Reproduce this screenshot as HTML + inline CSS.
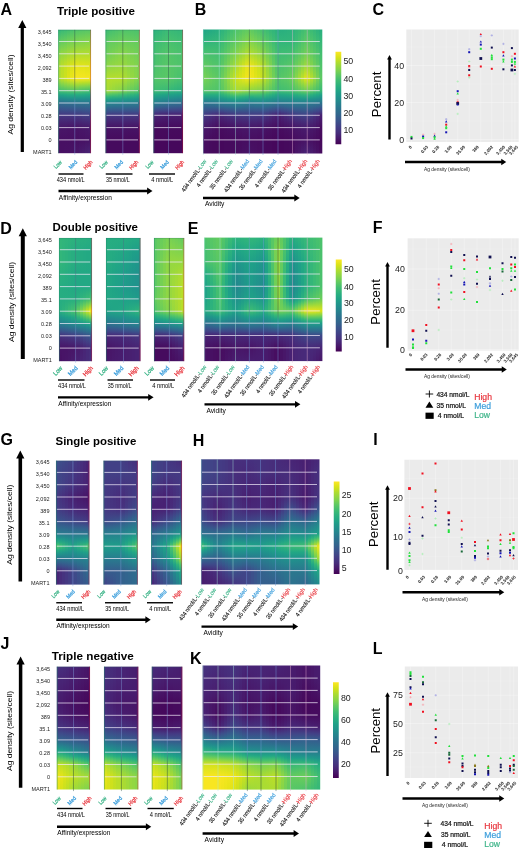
<!DOCTYPE html><html><head><meta charset="utf-8"><title>Figure</title><style>html,body{margin:0;padding:0;background:#fff}body{width:520px;height:850px;overflow:hidden}svg{display:block}</style></head><body><svg width="520" height="850" viewBox="0 0 520 850" font-family="'Liberation Sans',Arial,sans-serif"><defs><linearGradient id="g1" x1="0" y1="0" x2="0" y2="1"><stop offset="0" stop-color="#35b779"/><stop offset=".095" stop-color="#60ca60"/><stop offset=".194" stop-color="#8bd646"/><stop offset=".294" stop-color="#addc30"/><stop offset=".394" stop-color="#b0dd2f"/><stop offset=".444" stop-color="#75d054"/><stop offset=".494" stop-color="#46c06f"/><stop offset=".527" stop-color="#21a585"/><stop offset=".56" stop-color="#23898e"/><stop offset=".593" stop-color="#2e6d8e"/><stop offset=".643" stop-color="#3a538b"/><stop offset=".693" stop-color="#453781"/><stop offset=".793" stop-color="#481769"/><stop offset=".892" stop-color="#471063"/><stop offset=".992" stop-color="#471063"/></linearGradient><linearGradient id="g2" x1="0" y1="0" x2="0" y2="1"><stop offset="0" stop-color="#3aba76"/><stop offset=".095" stop-color="#65cb5e"/><stop offset=".194" stop-color="#93d741"/><stop offset=".294" stop-color="#bade28"/><stop offset=".394" stop-color="#c0df25"/><stop offset=".444" stop-color="#7fd34e"/><stop offset=".494" stop-color="#48c16e"/><stop offset=".527" stop-color="#21a685"/><stop offset=".56" stop-color="#238a8d"/><stop offset=".593" stop-color="#2e6e8e"/><stop offset=".643" stop-color="#3a548c"/><stop offset=".693" stop-color="#453781"/><stop offset=".793" stop-color="#481668"/><stop offset=".892" stop-color="#471063"/><stop offset=".992" stop-color="#471063"/></linearGradient><linearGradient id="g3" x1="0" y1="0" x2="0" y2="1"><stop offset="0" stop-color="#3dbc74"/><stop offset=".095" stop-color="#69cd5b"/><stop offset=".194" stop-color="#98d83e"/><stop offset=".294" stop-color="#c5e021"/><stop offset=".394" stop-color="#cde11d"/><stop offset=".444" stop-color="#89d548"/><stop offset=".494" stop-color="#4cc26c"/><stop offset=".527" stop-color="#22a884"/><stop offset=".56" stop-color="#228c8d"/><stop offset=".593" stop-color="#2d708e"/><stop offset=".643" stop-color="#39558c"/><stop offset=".693" stop-color="#453781"/><stop offset=".793" stop-color="#481668"/><stop offset=".892" stop-color="#471063"/><stop offset=".992" stop-color="#471164"/></linearGradient><linearGradient id="g4" x1="0" y1="0" x2="0" y2="1"><stop offset="0" stop-color="#42be71"/><stop offset=".095" stop-color="#70cf57"/><stop offset=".194" stop-color="#a0da39"/><stop offset=".294" stop-color="#d0e11c"/><stop offset=".394" stop-color="#dde318"/><stop offset=".444" stop-color="#90d743"/><stop offset=".494" stop-color="#50c46a"/><stop offset=".527" stop-color="#24aa83"/><stop offset=".56" stop-color="#228d8d"/><stop offset=".593" stop-color="#2d718e"/><stop offset=".643" stop-color="#39558c"/><stop offset=".693" stop-color="#453781"/><stop offset=".793" stop-color="#481467"/><stop offset=".892" stop-color="#471063"/><stop offset=".992" stop-color="#471164"/></linearGradient><linearGradient id="g5" x1="0" y1="0" x2="0" y2="1"><stop offset="0" stop-color="#48c16e"/><stop offset=".095" stop-color="#75d054"/><stop offset=".194" stop-color="#a8db34"/><stop offset=".294" stop-color="#dae319"/><stop offset=".394" stop-color="#eae51a"/><stop offset=".444" stop-color="#9bd93c"/><stop offset=".494" stop-color="#54c568"/><stop offset=".527" stop-color="#25ac82"/><stop offset=".56" stop-color="#218f8d"/><stop offset=".593" stop-color="#2c718e"/><stop offset=".643" stop-color="#39568c"/><stop offset=".693" stop-color="#453781"/><stop offset=".793" stop-color="#481467"/><stop offset=".892" stop-color="#471063"/><stop offset=".992" stop-color="#471365"/></linearGradient><linearGradient id="g6" x1="0" y1="0" x2="0" y2="1"><stop offset="0" stop-color="#4ec36b"/><stop offset=".095" stop-color="#7ad151"/><stop offset=".194" stop-color="#b0dd2f"/><stop offset=".294" stop-color="#e5e419"/><stop offset=".394" stop-color="#f8e621"/><stop offset=".444" stop-color="#a5db36"/><stop offset=".494" stop-color="#58c765"/><stop offset=".527" stop-color="#26ad81"/><stop offset=".56" stop-color="#21918c"/><stop offset=".593" stop-color="#2c738e"/><stop offset=".643" stop-color="#38588c"/><stop offset=".693" stop-color="#453781"/><stop offset=".793" stop-color="#471365"/><stop offset=".892" stop-color="#471063"/><stop offset=".992" stop-color="#471365"/></linearGradient><linearGradient id="g7" x1="0" y1="0" x2="0" y2="1"><stop offset="0" stop-color="#50c46a"/><stop offset=".095" stop-color="#7cd250"/><stop offset=".194" stop-color="#b0dd2f"/><stop offset=".294" stop-color="#e5e419"/><stop offset=".394" stop-color="#f6e620"/><stop offset=".444" stop-color="#a2da37"/><stop offset=".494" stop-color="#54c568"/><stop offset=".527" stop-color="#25ac82"/><stop offset=".56" stop-color="#21908d"/><stop offset=".593" stop-color="#2c738e"/><stop offset=".643" stop-color="#38598c"/><stop offset=".693" stop-color="#443983"/><stop offset=".793" stop-color="#481467"/><stop offset=".892" stop-color="#471063"/><stop offset=".992" stop-color="#481769"/></linearGradient><linearGradient id="g8" x1="0" y1="0" x2="0" y2="1"><stop offset="0" stop-color="#52c569"/><stop offset=".095" stop-color="#7fd34e"/><stop offset=".194" stop-color="#b0dd2f"/><stop offset=".294" stop-color="#e2e418"/><stop offset=".394" stop-color="#f6e620"/><stop offset=".427" stop-color="#bddf26"/><stop offset=".46" stop-color="#81d34d"/><stop offset=".494" stop-color="#50c46a"/><stop offset=".527" stop-color="#25ab82"/><stop offset=".56" stop-color="#21908d"/><stop offset=".593" stop-color="#2b748e"/><stop offset=".643" stop-color="#38598c"/><stop offset=".693" stop-color="#443a83"/><stop offset=".793" stop-color="#481668"/><stop offset=".892" stop-color="#471164"/><stop offset=".992" stop-color="#481a6c"/></linearGradient><linearGradient id="g9" x1="0" y1="0" x2="0" y2="1"><stop offset="0" stop-color="#54c568"/><stop offset=".095" stop-color="#81d34d"/><stop offset=".194" stop-color="#b0dd2f"/><stop offset=".294" stop-color="#e2e418"/><stop offset=".394" stop-color="#f6e620"/><stop offset=".427" stop-color="#bade28"/><stop offset=".46" stop-color="#7fd34e"/><stop offset=".494" stop-color="#4cc26c"/><stop offset=".527" stop-color="#24aa83"/><stop offset=".56" stop-color="#21908d"/><stop offset=".593" stop-color="#2b748e"/><stop offset=".643" stop-color="#375a8c"/><stop offset=".693" stop-color="#433d84"/><stop offset=".793" stop-color="#481769"/><stop offset=".892" stop-color="#471164"/><stop offset=".992" stop-color="#481c6e"/></linearGradient><linearGradient id="g10" x1="0" y1="0" x2="0" y2="1"><stop offset="0" stop-color="#56c667"/><stop offset=".095" stop-color="#84d44b"/><stop offset=".194" stop-color="#b0dd2f"/><stop offset=".294" stop-color="#dfe318"/><stop offset=".394" stop-color="#f4e61e"/><stop offset=".427" stop-color="#b8de29"/><stop offset=".46" stop-color="#7cd250"/><stop offset=".494" stop-color="#48c16e"/><stop offset=".527" stop-color="#23a983"/><stop offset=".56" stop-color="#218f8d"/><stop offset=".593" stop-color="#2b758e"/><stop offset=".643" stop-color="#375b8d"/><stop offset=".693" stop-color="#433e85"/><stop offset=".793" stop-color="#48186a"/><stop offset=".892" stop-color="#471365"/><stop offset=".992" stop-color="#482071"/></linearGradient><linearGradient id="g11" x1="0" y1="0" x2="0" y2="1"><stop offset="0" stop-color="#56c667"/><stop offset=".095" stop-color="#86d549"/><stop offset=".194" stop-color="#b0dd2f"/><stop offset=".294" stop-color="#dfe318"/><stop offset=".394" stop-color="#f4e61e"/><stop offset=".427" stop-color="#b5de2b"/><stop offset=".46" stop-color="#77d153"/><stop offset=".494" stop-color="#46c06f"/><stop offset=".527" stop-color="#22a884"/><stop offset=".56" stop-color="#218f8d"/><stop offset=".593" stop-color="#2b758e"/><stop offset=".643" stop-color="#365c8d"/><stop offset=".693" stop-color="#423f85"/><stop offset=".793" stop-color="#481a6c"/><stop offset=".892" stop-color="#471365"/><stop offset=".992" stop-color="#482374"/></linearGradient><linearGradient id="g12" x1="0" y1="0" x2="0" y2="1"><stop offset="0" stop-color="#2b4e4f"/><stop offset=".1" stop-color="#1c3f37"/><stop offset=".2" stop-color="#193c32"/><stop offset=".3" stop-color="#193c32"/><stop offset=".39" stop-color="#193c32"/><stop offset=".49" stop-color="#264948"/><stop offset=".59" stop-color="#81a4df"/><stop offset=".69" stop-color="#82a5e1"/><stop offset=".79" stop-color="#82a5e1"/><stop offset=".89" stop-color="#82a5e1"/><stop offset=".99" stop-color="#82a5e1"/></linearGradient><linearGradient id="g13" x1="0" y1="0" x2="0" y2="1"><stop offset="0" stop-color="#40bd72"/><stop offset=".095" stop-color="#5ec962"/><stop offset=".194" stop-color="#70cf57"/><stop offset=".294" stop-color="#8ed645"/><stop offset=".394" stop-color="#b5de2b"/><stop offset=".494" stop-color="#a5db36"/><stop offset=".518" stop-color="#65cb5e"/><stop offset=".543" stop-color="#34b679"/><stop offset=".568" stop-color="#1f9f88"/><stop offset=".593" stop-color="#24868e"/><stop offset=".626" stop-color="#2e6e8e"/><stop offset=".66" stop-color="#3a548c"/><stop offset=".693" stop-color="#453781"/><stop offset=".793" stop-color="#471365"/><stop offset=".892" stop-color="#460b5e"/><stop offset=".992" stop-color="#460b5e"/></linearGradient><linearGradient id="g14" x1="0" y1="0" x2="0" y2="1"><stop offset="0" stop-color="#44bf70"/><stop offset=".095" stop-color="#63cb5f"/><stop offset=".194" stop-color="#75d054"/><stop offset=".294" stop-color="#90d743"/><stop offset=".394" stop-color="#b5de2b"/><stop offset=".494" stop-color="#9dd93b"/><stop offset=".518" stop-color="#5ec962"/><stop offset=".543" stop-color="#31b57b"/><stop offset=".568" stop-color="#1e9d89"/><stop offset=".593" stop-color="#25858e"/><stop offset=".626" stop-color="#2e6e8e"/><stop offset=".66" stop-color="#3a548c"/><stop offset=".693" stop-color="#453781"/><stop offset=".793" stop-color="#471365"/><stop offset=".892" stop-color="#460b5e"/><stop offset=".992" stop-color="#460b5e"/></linearGradient><linearGradient id="g15" x1="0" y1="0" x2="0" y2="1"><stop offset="0" stop-color="#48c16e"/><stop offset=".095" stop-color="#65cb5e"/><stop offset=".194" stop-color="#7ad151"/><stop offset=".294" stop-color="#93d741"/><stop offset=".394" stop-color="#b5de2b"/><stop offset=".494" stop-color="#95d840"/><stop offset=".518" stop-color="#5ac864"/><stop offset=".543" stop-color="#2eb37c"/><stop offset=".568" stop-color="#1e9c89"/><stop offset=".593" stop-color="#25848e"/><stop offset=".626" stop-color="#2e6d8e"/><stop offset=".66" stop-color="#3a538b"/><stop offset=".693" stop-color="#453781"/><stop offset=".793" stop-color="#471365"/><stop offset=".892" stop-color="#460b5e"/><stop offset=".992" stop-color="#460b5e"/></linearGradient><linearGradient id="g16" x1="0" y1="0" x2="0" y2="1"><stop offset="0" stop-color="#4cc26c"/><stop offset=".095" stop-color="#67cc5c"/><stop offset=".194" stop-color="#7fd34e"/><stop offset=".294" stop-color="#95d840"/><stop offset=".394" stop-color="#b5de2b"/><stop offset=".494" stop-color="#8ed645"/><stop offset=".527" stop-color="#46c06f"/><stop offset=".56" stop-color="#1fa287"/><stop offset=".593" stop-color="#25838e"/><stop offset=".626" stop-color="#2f6c8e"/><stop offset=".66" stop-color="#3a538b"/><stop offset=".693" stop-color="#453781"/><stop offset=".793" stop-color="#471365"/><stop offset=".892" stop-color="#460b5e"/><stop offset=".992" stop-color="#460b5e"/></linearGradient><linearGradient id="g17" x1="0" y1="0" x2="0" y2="1"><stop offset="0" stop-color="#50c46a"/><stop offset=".095" stop-color="#6ccd5a"/><stop offset=".194" stop-color="#84d44b"/><stop offset=".294" stop-color="#98d83e"/><stop offset=".394" stop-color="#b5de2b"/><stop offset=".494" stop-color="#89d548"/><stop offset=".527" stop-color="#40bd72"/><stop offset=".56" stop-color="#1fa188"/><stop offset=".593" stop-color="#26828e"/><stop offset=".626" stop-color="#2f6c8e"/><stop offset=".66" stop-color="#3a538b"/><stop offset=".693" stop-color="#453781"/><stop offset=".793" stop-color="#471365"/><stop offset=".892" stop-color="#460b5e"/><stop offset=".992" stop-color="#460b5e"/></linearGradient><linearGradient id="g18" x1="0" y1="0" x2="0" y2="1"><stop offset="0" stop-color="#52c569"/><stop offset=".095" stop-color="#6ece58"/><stop offset=".194" stop-color="#86d549"/><stop offset=".294" stop-color="#9bd93c"/><stop offset=".394" stop-color="#b5de2b"/><stop offset=".494" stop-color="#81d34d"/><stop offset=".527" stop-color="#3dbc74"/><stop offset=".56" stop-color="#1fa088"/><stop offset=".593" stop-color="#26828e"/><stop offset=".626" stop-color="#2f6b8e"/><stop offset=".66" stop-color="#3b528b"/><stop offset=".693" stop-color="#453781"/><stop offset=".793" stop-color="#471365"/><stop offset=".892" stop-color="#460b5e"/><stop offset=".992" stop-color="#460b5e"/></linearGradient><linearGradient id="g19" x1="0" y1="0" x2="0" y2="1"><stop offset="0" stop-color="#50c46a"/><stop offset=".095" stop-color="#6ccd5a"/><stop offset=".194" stop-color="#84d44b"/><stop offset=".294" stop-color="#95d840"/><stop offset=".394" stop-color="#aadc32"/><stop offset=".494" stop-color="#77d153"/><stop offset=".527" stop-color="#38b977"/><stop offset=".56" stop-color="#1f9e89"/><stop offset=".593" stop-color="#26818e"/><stop offset=".626" stop-color="#2f6b8e"/><stop offset=".66" stop-color="#3b528b"/><stop offset=".693" stop-color="#453781"/><stop offset=".793" stop-color="#471365"/><stop offset=".892" stop-color="#460b5e"/><stop offset=".992" stop-color="#460b5e"/></linearGradient><linearGradient id="g20" x1="0" y1="0" x2="0" y2="1"><stop offset="0" stop-color="#50c46a"/><stop offset=".095" stop-color="#69cd5b"/><stop offset=".194" stop-color="#7fd34e"/><stop offset=".294" stop-color="#8ed645"/><stop offset=".394" stop-color="#a0da39"/><stop offset=".494" stop-color="#6ccd5a"/><stop offset=".527" stop-color="#34b679"/><stop offset=".56" stop-color="#1e9c89"/><stop offset=".593" stop-color="#27808e"/><stop offset=".626" stop-color="#306a8e"/><stop offset=".66" stop-color="#3b528b"/><stop offset=".693" stop-color="#453781"/><stop offset=".793" stop-color="#471365"/><stop offset=".892" stop-color="#460b5e"/><stop offset=".992" stop-color="#460b5e"/></linearGradient><linearGradient id="g21" x1="0" y1="0" x2="0" y2="1"><stop offset="0" stop-color="#4ec36b"/><stop offset=".095" stop-color="#67cc5c"/><stop offset=".194" stop-color="#7ad151"/><stop offset=".294" stop-color="#89d548"/><stop offset=".394" stop-color="#95d840"/><stop offset=".494" stop-color="#63cb5f"/><stop offset=".527" stop-color="#2fb47c"/><stop offset=".56" stop-color="#1f9a8a"/><stop offset=".593" stop-color="#277f8e"/><stop offset=".626" stop-color="#30698e"/><stop offset=".66" stop-color="#3b518b"/><stop offset=".693" stop-color="#453781"/><stop offset=".793" stop-color="#471365"/><stop offset=".892" stop-color="#460b5e"/><stop offset=".992" stop-color="#460b5e"/></linearGradient><linearGradient id="g22" x1="0" y1="0" x2="0" y2="1"><stop offset="0" stop-color="#4cc26c"/><stop offset=".095" stop-color="#65cb5e"/><stop offset=".194" stop-color="#75d054"/><stop offset=".294" stop-color="#84d44b"/><stop offset=".394" stop-color="#8bd646"/><stop offset=".494" stop-color="#5ac864"/><stop offset=".527" stop-color="#2cb17e"/><stop offset=".56" stop-color="#1f988b"/><stop offset=".593" stop-color="#277e8e"/><stop offset=".626" stop-color="#30698e"/><stop offset=".66" stop-color="#3b518b"/><stop offset=".693" stop-color="#453781"/><stop offset=".793" stop-color="#471365"/><stop offset=".892" stop-color="#460b5e"/><stop offset=".992" stop-color="#460b5e"/></linearGradient><linearGradient id="g23" x1="0" y1="0" x2="0" y2="1"><stop offset="0" stop-color="#4ac16d"/><stop offset=".095" stop-color="#65cb5e"/><stop offset=".194" stop-color="#70cf57"/><stop offset=".294" stop-color="#7cd250"/><stop offset=".394" stop-color="#7fd34e"/><stop offset=".494" stop-color="#52c569"/><stop offset=".527" stop-color="#28ae80"/><stop offset=".56" stop-color="#1f968b"/><stop offset=".593" stop-color="#287d8e"/><stop offset=".626" stop-color="#31688e"/><stop offset=".66" stop-color="#3b518b"/><stop offset=".693" stop-color="#453781"/><stop offset=".793" stop-color="#471365"/><stop offset=".892" stop-color="#460b5e"/><stop offset=".992" stop-color="#460b5e"/></linearGradient><linearGradient id="g24" x1="0" y1="0" x2="0" y2="1"><stop offset="0" stop-color="#284b4b"/><stop offset=".1" stop-color="#1f423b"/><stop offset=".2" stop-color="#1a3d34"/><stop offset=".3" stop-color="#193c32"/><stop offset=".39" stop-color="#193c32"/><stop offset=".49" stop-color="#1b3e35"/><stop offset=".59" stop-color="#799cd2"/><stop offset=".69" stop-color="#82a5e1"/><stop offset=".79" stop-color="#82a5e1"/><stop offset=".89" stop-color="#82a5e1"/><stop offset=".99" stop-color="#82a5e1"/></linearGradient><linearGradient id="g25" x1="0" y1="0" x2="0" y2="1"><stop offset="0" stop-color="#2db27d"/><stop offset=".095" stop-color="#3bbb75"/><stop offset=".194" stop-color="#44bf70"/><stop offset=".294" stop-color="#4ac16d"/><stop offset=".394" stop-color="#54c568"/><stop offset=".494" stop-color="#3fbc73"/><stop offset=".527" stop-color="#22a884"/><stop offset=".56" stop-color="#20928c"/><stop offset=".593" stop-color="#287c8e"/><stop offset=".626" stop-color="#33628d"/><stop offset=".66" stop-color="#404588"/><stop offset=".693" stop-color="#482475"/><stop offset=".793" stop-color="#460b5e"/><stop offset=".892" stop-color="#46085c"/><stop offset=".992" stop-color="#46085c"/></linearGradient><linearGradient id="g26" x1="0" y1="0" x2="0" y2="1"><stop offset="0" stop-color="#2fb47c"/><stop offset=".095" stop-color="#3fbc73"/><stop offset=".194" stop-color="#48c16e"/><stop offset=".294" stop-color="#4ec36b"/><stop offset=".394" stop-color="#54c568"/><stop offset=".494" stop-color="#3dbc74"/><stop offset=".527" stop-color="#21a685"/><stop offset=".56" stop-color="#21918c"/><stop offset=".593" stop-color="#297b8e"/><stop offset=".626" stop-color="#34618d"/><stop offset=".66" stop-color="#414487"/><stop offset=".693" stop-color="#482374"/><stop offset=".793" stop-color="#460b5e"/><stop offset=".892" stop-color="#46085c"/><stop offset=".992" stop-color="#46085c"/></linearGradient><linearGradient id="g27" x1="0" y1="0" x2="0" y2="1"><stop offset="0" stop-color="#32b67a"/><stop offset=".095" stop-color="#40bd72"/><stop offset=".194" stop-color="#4cc26c"/><stop offset=".294" stop-color="#50c46a"/><stop offset=".394" stop-color="#56c667"/><stop offset=".494" stop-color="#3bbb75"/><stop offset=".527" stop-color="#21a585"/><stop offset=".56" stop-color="#21908d"/><stop offset=".593" stop-color="#29798e"/><stop offset=".626" stop-color="#355f8d"/><stop offset=".66" stop-color="#424186"/><stop offset=".693" stop-color="#482173"/><stop offset=".793" stop-color="#460b5e"/><stop offset=".892" stop-color="#46085c"/><stop offset=".992" stop-color="#46085c"/></linearGradient><linearGradient id="g28" x1="0" y1="0" x2="0" y2="1"><stop offset="0" stop-color="#37b878"/><stop offset=".095" stop-color="#44bf70"/><stop offset=".194" stop-color="#4ec36b"/><stop offset=".294" stop-color="#54c568"/><stop offset=".394" stop-color="#56c667"/><stop offset=".494" stop-color="#3aba76"/><stop offset=".527" stop-color="#20a486"/><stop offset=".56" stop-color="#218e8d"/><stop offset=".593" stop-color="#2a788e"/><stop offset=".626" stop-color="#355e8d"/><stop offset=".66" stop-color="#424086"/><stop offset=".693" stop-color="#482071"/><stop offset=".793" stop-color="#460b5e"/><stop offset=".892" stop-color="#46085c"/><stop offset=".992" stop-color="#46085c"/></linearGradient><linearGradient id="g29" x1="0" y1="0" x2="0" y2="1"><stop offset="0" stop-color="#3aba76"/><stop offset=".095" stop-color="#46c06f"/><stop offset=".194" stop-color="#52c569"/><stop offset=".294" stop-color="#56c667"/><stop offset=".394" stop-color="#58c765"/><stop offset=".494" stop-color="#38b977"/><stop offset=".527" stop-color="#20a386"/><stop offset=".56" stop-color="#228d8d"/><stop offset=".593" stop-color="#2a768e"/><stop offset=".626" stop-color="#365d8d"/><stop offset=".66" stop-color="#423f85"/><stop offset=".693" stop-color="#481d6f"/><stop offset=".793" stop-color="#460b5e"/><stop offset=".892" stop-color="#46085c"/><stop offset=".992" stop-color="#46085c"/></linearGradient><linearGradient id="g30" x1="0" y1="0" x2="0" y2="1"><stop offset="0" stop-color="#3aba76"/><stop offset=".095" stop-color="#48c16e"/><stop offset=".194" stop-color="#52c569"/><stop offset=".294" stop-color="#56c667"/><stop offset=".394" stop-color="#56c667"/><stop offset=".494" stop-color="#35b779"/><stop offset=".527" stop-color="#1fa187"/><stop offset=".56" stop-color="#228b8d"/><stop offset=".593" stop-color="#2b758e"/><stop offset=".626" stop-color="#375b8d"/><stop offset=".66" stop-color="#433e85"/><stop offset=".693" stop-color="#481d6f"/><stop offset=".793" stop-color="#460b5e"/><stop offset=".892" stop-color="#46085c"/><stop offset=".992" stop-color="#46085c"/></linearGradient><linearGradient id="g31" x1="0" y1="0" x2="0" y2="1"><stop offset="0" stop-color="#38b977"/><stop offset=".095" stop-color="#46c06f"/><stop offset=".194" stop-color="#50c46a"/><stop offset=".294" stop-color="#54c568"/><stop offset=".394" stop-color="#52c569"/><stop offset=".494" stop-color="#32b67a"/><stop offset=".527" stop-color="#1fa088"/><stop offset=".56" stop-color="#238a8d"/><stop offset=".593" stop-color="#2c738e"/><stop offset=".626" stop-color="#375a8c"/><stop offset=".66" stop-color="#433e85"/><stop offset=".693" stop-color="#481d6f"/><stop offset=".793" stop-color="#460b5e"/><stop offset=".892" stop-color="#46085c"/><stop offset=".992" stop-color="#46085c"/></linearGradient><linearGradient id="g32" x1="0" y1="0" x2="0" y2="1"><stop offset="0" stop-color="#37b878"/><stop offset=".095" stop-color="#44bf70"/><stop offset=".194" stop-color="#4ec36b"/><stop offset=".294" stop-color="#52c569"/><stop offset=".394" stop-color="#4ec36b"/><stop offset=".494" stop-color="#2fb47c"/><stop offset=".527" stop-color="#1f9e89"/><stop offset=".56" stop-color="#23888e"/><stop offset=".593" stop-color="#2c728e"/><stop offset=".626" stop-color="#38598c"/><stop offset=".66" stop-color="#433d84"/><stop offset=".693" stop-color="#481d6f"/><stop offset=".793" stop-color="#460b5e"/><stop offset=".892" stop-color="#46085c"/><stop offset=".992" stop-color="#46085c"/></linearGradient><linearGradient id="g33" x1="0" y1="0" x2="0" y2="1"><stop offset="0" stop-color="#35b779"/><stop offset=".095" stop-color="#42be71"/><stop offset=".194" stop-color="#4cc26c"/><stop offset=".294" stop-color="#50c46a"/><stop offset=".394" stop-color="#4ac16d"/><stop offset=".494" stop-color="#2db27d"/><stop offset=".527" stop-color="#1e9d89"/><stop offset=".56" stop-color="#24868e"/><stop offset=".593" stop-color="#2d718e"/><stop offset=".626" stop-color="#38588c"/><stop offset=".66" stop-color="#433d84"/><stop offset=".693" stop-color="#481d6f"/><stop offset=".793" stop-color="#460b5e"/><stop offset=".892" stop-color="#46085c"/><stop offset=".992" stop-color="#46085c"/></linearGradient><linearGradient id="g34" x1="0" y1="0" x2="0" y2="1"><stop offset="0" stop-color="#34b679"/><stop offset=".095" stop-color="#40bd72"/><stop offset=".194" stop-color="#4ac16d"/><stop offset=".294" stop-color="#4ec36b"/><stop offset=".394" stop-color="#46c06f"/><stop offset=".494" stop-color="#2ab07f"/><stop offset=".527" stop-color="#1e9b8a"/><stop offset=".56" stop-color="#25858e"/><stop offset=".593" stop-color="#2e6f8e"/><stop offset=".626" stop-color="#39568c"/><stop offset=".66" stop-color="#443b84"/><stop offset=".693" stop-color="#481d6f"/><stop offset=".793" stop-color="#460b5e"/><stop offset=".892" stop-color="#46085c"/><stop offset=".992" stop-color="#46085c"/></linearGradient><linearGradient id="g35" x1="0" y1="0" x2="0" y2="1"><stop offset="0" stop-color="#355861"/><stop offset=".1" stop-color="#2d5053"/><stop offset=".2" stop-color="#284b4b"/><stop offset=".3" stop-color="#264948"/><stop offset=".39" stop-color="#264948"/><stop offset=".49" stop-color="#385b66"/><stop offset=".59" stop-color="#80a3de"/><stop offset=".69" stop-color="#82a5e1"/><stop offset=".79" stop-color="#82a5e1"/><stop offset=".89" stop-color="#82a5e1"/><stop offset=".99" stop-color="#82a5e1"/></linearGradient><linearGradient id="g36" x1="0" y1="0" x2="0" y2="1"><stop offset="0" stop-color="#20a486"/><stop offset=".097" stop-color="#2fb47c"/><stop offset=".196" stop-color="#48c16e"/><stop offset=".295" stop-color="#60ca60"/><stop offset=".394" stop-color="#77d153"/><stop offset=".494" stop-color="#56c667"/><stop offset=".527" stop-color="#26ad81"/><stop offset=".56" stop-color="#21918c"/><stop offset=".593" stop-color="#2b748e"/><stop offset=".642" stop-color="#38598c"/><stop offset=".692" stop-color="#453882"/><stop offset=".791" stop-color="#48186a"/><stop offset=".89" stop-color="#470e61"/><stop offset=".99" stop-color="#470e61"/></linearGradient><linearGradient id="g37" x1="0" y1="0" x2="0" y2="1"><stop offset="0" stop-color="#22a785"/><stop offset=".097" stop-color="#31b57b"/><stop offset=".196" stop-color="#48c16e"/><stop offset=".295" stop-color="#5cc863"/><stop offset=".394" stop-color="#70cf57"/><stop offset=".494" stop-color="#56c667"/><stop offset=".527" stop-color="#26ad81"/><stop offset=".56" stop-color="#20928c"/><stop offset=".593" stop-color="#2a768e"/><stop offset=".642" stop-color="#38588c"/><stop offset=".692" stop-color="#463480"/><stop offset=".791" stop-color="#481769"/><stop offset=".89" stop-color="#470d60"/><stop offset=".99" stop-color="#470d60"/></linearGradient><linearGradient id="g38" x1="0" y1="0" x2="0" y2="1"><stop offset="0" stop-color="#23a983"/><stop offset=".097" stop-color="#32b67a"/><stop offset=".196" stop-color="#46c06f"/><stop offset=".295" stop-color="#58c765"/><stop offset=".394" stop-color="#69cd5b"/><stop offset=".494" stop-color="#54c568"/><stop offset=".527" stop-color="#26ad81"/><stop offset=".56" stop-color="#20928c"/><stop offset=".593" stop-color="#2a778e"/><stop offset=".626" stop-color="#33628d"/><stop offset=".659" stop-color="#3e4a89"/><stop offset=".692" stop-color="#46307e"/><stop offset=".791" stop-color="#481467"/><stop offset=".89" stop-color="#460b5e"/><stop offset=".99" stop-color="#460b5e"/></linearGradient><linearGradient id="g39" x1="0" y1="0" x2="0" y2="1"><stop offset="0" stop-color="#25ab82"/><stop offset=".097" stop-color="#34b679"/><stop offset=".196" stop-color="#46c06f"/><stop offset=".295" stop-color="#54c568"/><stop offset=".394" stop-color="#63cb5f"/><stop offset=".494" stop-color="#52c569"/><stop offset=".527" stop-color="#26ad81"/><stop offset=".56" stop-color="#20938c"/><stop offset=".593" stop-color="#29798e"/><stop offset=".626" stop-color="#33628d"/><stop offset=".659" stop-color="#3f4889"/><stop offset=".692" stop-color="#472d7b"/><stop offset=".791" stop-color="#471164"/><stop offset=".89" stop-color="#460a5d"/><stop offset=".99" stop-color="#460a5d"/></linearGradient><linearGradient id="g40" x1="0" y1="0" x2="0" y2="1"><stop offset="0" stop-color="#27ad81"/><stop offset=".097" stop-color="#35b779"/><stop offset=".196" stop-color="#44bf70"/><stop offset=".295" stop-color="#52c569"/><stop offset=".394" stop-color="#5ec962"/><stop offset=".494" stop-color="#50c46a"/><stop offset=".527" stop-color="#26ad81"/><stop offset=".56" stop-color="#1f948c"/><stop offset=".593" stop-color="#297b8e"/><stop offset=".626" stop-color="#33638d"/><stop offset=".659" stop-color="#3f4788"/><stop offset=".692" stop-color="#482878"/><stop offset=".791" stop-color="#470e61"/><stop offset=".89" stop-color="#460a5d"/><stop offset=".99" stop-color="#460a5d"/></linearGradient><linearGradient id="g41" x1="0" y1="0" x2="0" y2="1"><stop offset="0" stop-color="#29af7f"/><stop offset=".097" stop-color="#37b878"/><stop offset=".196" stop-color="#44bf70"/><stop offset=".295" stop-color="#4ec36b"/><stop offset=".394" stop-color="#58c765"/><stop offset=".494" stop-color="#4ec36b"/><stop offset=".527" stop-color="#26ad81"/><stop offset=".56" stop-color="#1f958b"/><stop offset=".593" stop-color="#287d8e"/><stop offset=".626" stop-color="#33638d"/><stop offset=".659" stop-color="#404688"/><stop offset=".692" stop-color="#482475"/><stop offset=".791" stop-color="#460b5e"/><stop offset=".89" stop-color="#46085c"/><stop offset=".99" stop-color="#46085c"/></linearGradient><linearGradient id="g42" x1="0" y1="0" x2="0" y2="1"><stop offset="0" stop-color="#2eb37c"/><stop offset=".097" stop-color="#3dbc74"/><stop offset=".196" stop-color="#4ec36b"/><stop offset=".295" stop-color="#5cc863"/><stop offset=".394" stop-color="#6ccd5a"/><stop offset=".494" stop-color="#5cc863"/><stop offset=".527" stop-color="#2db27d"/><stop offset=".56" stop-color="#1f988b"/><stop offset=".593" stop-color="#277f8e"/><stop offset=".626" stop-color="#32658e"/><stop offset=".659" stop-color="#3f4889"/><stop offset=".692" stop-color="#482878"/><stop offset=".791" stop-color="#470d60"/><stop offset=".89" stop-color="#46085c"/><stop offset=".99" stop-color="#46085c"/></linearGradient><linearGradient id="g43" x1="0" y1="0" x2="0" y2="1"><stop offset="0" stop-color="#34b679"/><stop offset=".097" stop-color="#46c06f"/><stop offset=".196" stop-color="#58c765"/><stop offset=".295" stop-color="#6ccd5a"/><stop offset=".394" stop-color="#7fd34e"/><stop offset=".494" stop-color="#6ccd5a"/><stop offset=".527" stop-color="#34b679"/><stop offset=".56" stop-color="#1e9c89"/><stop offset=".593" stop-color="#26818e"/><stop offset=".626" stop-color="#31678e"/><stop offset=".659" stop-color="#3e4c8a"/><stop offset=".692" stop-color="#472c7a"/><stop offset=".791" stop-color="#470e61"/><stop offset=".89" stop-color="#460a5d"/><stop offset=".99" stop-color="#460a5d"/></linearGradient><linearGradient id="g44" x1="0" y1="0" x2="0" y2="1"><stop offset="0" stop-color="#3bbb75"/><stop offset=".097" stop-color="#4ec36b"/><stop offset=".196" stop-color="#63cb5f"/><stop offset=".295" stop-color="#7cd250"/><stop offset=".394" stop-color="#95d840"/><stop offset=".494" stop-color="#7cd250"/><stop offset=".527" stop-color="#3bbb75"/><stop offset=".56" stop-color="#1fa088"/><stop offset=".593" stop-color="#26828e"/><stop offset=".626" stop-color="#30698e"/><stop offset=".659" stop-color="#3d4e8a"/><stop offset=".692" stop-color="#472f7d"/><stop offset=".791" stop-color="#471063"/><stop offset=".89" stop-color="#460a5d"/><stop offset=".99" stop-color="#460a5d"/></linearGradient><linearGradient id="g45" x1="0" y1="0" x2="0" y2="1"><stop offset="0" stop-color="#42be71"/><stop offset=".097" stop-color="#56c667"/><stop offset=".196" stop-color="#70cf57"/><stop offset=".295" stop-color="#8ed645"/><stop offset=".394" stop-color="#aadc32"/><stop offset=".494" stop-color="#8ed645"/><stop offset=".527" stop-color="#46c06f"/><stop offset=".56" stop-color="#1fa287"/><stop offset=".593" stop-color="#25848e"/><stop offset=".626" stop-color="#2f6c8e"/><stop offset=".659" stop-color="#3b518b"/><stop offset=".692" stop-color="#46337f"/><stop offset=".791" stop-color="#471164"/><stop offset=".89" stop-color="#460b5e"/><stop offset=".99" stop-color="#460b5e"/></linearGradient><linearGradient id="g46" x1="0" y1="0" x2="0" y2="1"><stop offset="0" stop-color="#4ac16d"/><stop offset=".097" stop-color="#5ec962"/><stop offset=".196" stop-color="#7cd250"/><stop offset=".295" stop-color="#a0da39"/><stop offset=".394" stop-color="#c2df23"/><stop offset=".494" stop-color="#a0da39"/><stop offset=".518" stop-color="#63cb5f"/><stop offset=".543" stop-color="#32b67a"/><stop offset=".568" stop-color="#1f9e89"/><stop offset=".593" stop-color="#24868e"/><stop offset=".626" stop-color="#2e6e8e"/><stop offset=".659" stop-color="#3a538b"/><stop offset=".692" stop-color="#453581"/><stop offset=".791" stop-color="#471365"/><stop offset=".89" stop-color="#460b5e"/><stop offset=".99" stop-color="#460b5e"/></linearGradient><linearGradient id="g47" x1="0" y1="0" x2="0" y2="1"><stop offset="0" stop-color="#50c46a"/><stop offset=".097" stop-color="#67cc5c"/><stop offset=".196" stop-color="#89d548"/><stop offset=".295" stop-color="#b2dd2d"/><stop offset=".394" stop-color="#d0e11c"/><stop offset=".494" stop-color="#a5db36"/><stop offset=".518" stop-color="#65cb5e"/><stop offset=".543" stop-color="#32b67a"/><stop offset=".568" stop-color="#1f9e89"/><stop offset=".593" stop-color="#25858e"/><stop offset=".626" stop-color="#2e6e8e"/><stop offset=".659" stop-color="#3a548c"/><stop offset=".692" stop-color="#453882"/><stop offset=".791" stop-color="#481467"/><stop offset=".89" stop-color="#470d60"/><stop offset=".99" stop-color="#470d60"/></linearGradient><linearGradient id="g48" x1="0" y1="0" x2="0" y2="1"><stop offset="0" stop-color="#54c568"/><stop offset=".097" stop-color="#6ece58"/><stop offset=".196" stop-color="#93d741"/><stop offset=".295" stop-color="#c2df23"/><stop offset=".394" stop-color="#dae319"/><stop offset=".494" stop-color="#a0da39"/><stop offset=".518" stop-color="#5ec962"/><stop offset=".543" stop-color="#2fb47c"/><stop offset=".568" stop-color="#1e9c89"/><stop offset=".593" stop-color="#25838e"/><stop offset=".626" stop-color="#2e6d8e"/><stop offset=".659" stop-color="#3a538b"/><stop offset=".692" stop-color="#453882"/><stop offset=".791" stop-color="#481467"/><stop offset=".89" stop-color="#470d60"/><stop offset=".99" stop-color="#470e61"/></linearGradient><linearGradient id="g49" x1="0" y1="0" x2="0" y2="1"><stop offset="0" stop-color="#5ac864"/><stop offset=".097" stop-color="#77d153"/><stop offset=".196" stop-color="#9dd93b"/><stop offset=".295" stop-color="#d2e21b"/><stop offset=".394" stop-color="#e5e419"/><stop offset=".494" stop-color="#98d83e"/><stop offset=".518" stop-color="#5ac864"/><stop offset=".543" stop-color="#2db27d"/><stop offset=".568" stop-color="#1f9a8a"/><stop offset=".593" stop-color="#26818e"/><stop offset=".626" stop-color="#2f6b8e"/><stop offset=".659" stop-color="#3a538b"/><stop offset=".692" stop-color="#443983"/><stop offset=".791" stop-color="#481668"/><stop offset=".89" stop-color="#470e61"/><stop offset=".99" stop-color="#471063"/></linearGradient><linearGradient id="g50" x1="0" y1="0" x2="0" y2="1"><stop offset="0" stop-color="#5ec962"/><stop offset=".097" stop-color="#7fd34e"/><stop offset=".196" stop-color="#aadc32"/><stop offset=".295" stop-color="#e2e418"/><stop offset=".394" stop-color="#efe51c"/><stop offset=".444" stop-color="#c2df23"/><stop offset=".494" stop-color="#93d741"/><stop offset=".518" stop-color="#56c667"/><stop offset=".543" stop-color="#2ab07f"/><stop offset=".568" stop-color="#1f978b"/><stop offset=".593" stop-color="#277f8e"/><stop offset=".626" stop-color="#306a8e"/><stop offset=".659" stop-color="#3a538b"/><stop offset=".692" stop-color="#443983"/><stop offset=".791" stop-color="#481668"/><stop offset=".89" stop-color="#470e61"/><stop offset=".99" stop-color="#471164"/></linearGradient><linearGradient id="g51" x1="0" y1="0" x2="0" y2="1"><stop offset="0" stop-color="#63cb5f"/><stop offset=".097" stop-color="#86d549"/><stop offset=".196" stop-color="#b5de2b"/><stop offset=".295" stop-color="#f1e51d"/><stop offset=".394" stop-color="#f8e621"/><stop offset=".444" stop-color="#c2df23"/><stop offset=".494" stop-color="#8ed645"/><stop offset=".518" stop-color="#52c569"/><stop offset=".543" stop-color="#28ae80"/><stop offset=".568" stop-color="#1f958b"/><stop offset=".593" stop-color="#287d8e"/><stop offset=".642" stop-color="#355e8d"/><stop offset=".692" stop-color="#443a83"/><stop offset=".791" stop-color="#481769"/><stop offset=".89" stop-color="#471063"/><stop offset=".99" stop-color="#471365"/></linearGradient><linearGradient id="g52" x1="0" y1="0" x2="0" y2="1"><stop offset="0" stop-color="#5cc863"/><stop offset=".097" stop-color="#7fd34e"/><stop offset=".196" stop-color="#aadc32"/><stop offset=".295" stop-color="#e5e419"/><stop offset=".394" stop-color="#efe51c"/><stop offset=".444" stop-color="#bade28"/><stop offset=".494" stop-color="#89d548"/><stop offset=".518" stop-color="#50c46a"/><stop offset=".543" stop-color="#27ad81"/><stop offset=".568" stop-color="#1f968b"/><stop offset=".593" stop-color="#277e8e"/><stop offset=".642" stop-color="#355e8d"/><stop offset=".692" stop-color="#443983"/><stop offset=".791" stop-color="#481668"/><stop offset=".89" stop-color="#470e61"/><stop offset=".99" stop-color="#471164"/></linearGradient><linearGradient id="g53" x1="0" y1="0" x2="0" y2="1"><stop offset="0" stop-color="#54c568"/><stop offset=".097" stop-color="#77d153"/><stop offset=".196" stop-color="#a2da37"/><stop offset=".295" stop-color="#d8e219"/><stop offset=".394" stop-color="#e2e418"/><stop offset=".444" stop-color="#b2dd2d"/><stop offset=".494" stop-color="#86d549"/><stop offset=".527" stop-color="#3fbc73"/><stop offset=".56" stop-color="#1f9e89"/><stop offset=".593" stop-color="#277f8e"/><stop offset=".626" stop-color="#306a8e"/><stop offset=".659" stop-color="#3b528b"/><stop offset=".692" stop-color="#443983"/><stop offset=".791" stop-color="#481668"/><stop offset=".89" stop-color="#470e61"/><stop offset=".99" stop-color="#471063"/></linearGradient><linearGradient id="g54" x1="0" y1="0" x2="0" y2="1"><stop offset="0" stop-color="#4ec36b"/><stop offset=".097" stop-color="#6ece58"/><stop offset=".196" stop-color="#98d83e"/><stop offset=".295" stop-color="#cae11f"/><stop offset=".394" stop-color="#d8e219"/><stop offset=".494" stop-color="#81d34d"/><stop offset=".527" stop-color="#3dbc74"/><stop offset=".56" stop-color="#1f9f88"/><stop offset=".593" stop-color="#27808e"/><stop offset=".626" stop-color="#306a8e"/><stop offset=".659" stop-color="#3b528b"/><stop offset=".692" stop-color="#453882"/><stop offset=".791" stop-color="#481467"/><stop offset=".89" stop-color="#470d60"/><stop offset=".99" stop-color="#470e61"/></linearGradient><linearGradient id="g55" x1="0" y1="0" x2="0" y2="1"><stop offset="0" stop-color="#48c16e"/><stop offset=".097" stop-color="#67cc5c"/><stop offset=".196" stop-color="#8ed645"/><stop offset=".295" stop-color="#bddf26"/><stop offset=".394" stop-color="#cae11f"/><stop offset=".494" stop-color="#7cd250"/><stop offset=".527" stop-color="#3bbb75"/><stop offset=".56" stop-color="#1f9f88"/><stop offset=".593" stop-color="#26818e"/><stop offset=".626" stop-color="#2f6b8e"/><stop offset=".659" stop-color="#3b528b"/><stop offset=".692" stop-color="#453882"/><stop offset=".791" stop-color="#481467"/><stop offset=".89" stop-color="#470d60"/><stop offset=".99" stop-color="#470d60"/></linearGradient><linearGradient id="g56" x1="0" y1="0" x2="0" y2="1"><stop offset="0" stop-color="#40bd72"/><stop offset=".097" stop-color="#5ec962"/><stop offset=".196" stop-color="#81d34d"/><stop offset=".295" stop-color="#addc30"/><stop offset=".394" stop-color="#bade28"/><stop offset=".494" stop-color="#75d054"/><stop offset=".527" stop-color="#38b977"/><stop offset=".56" stop-color="#1f9e89"/><stop offset=".593" stop-color="#26818e"/><stop offset=".626" stop-color="#306a8e"/><stop offset=".659" stop-color="#3b518b"/><stop offset=".692" stop-color="#453581"/><stop offset=".791" stop-color="#471365"/><stop offset=".89" stop-color="#460b5e"/><stop offset=".99" stop-color="#460b5e"/></linearGradient><linearGradient id="g57" x1="0" y1="0" x2="0" y2="1"><stop offset="0" stop-color="#3bbb75"/><stop offset=".097" stop-color="#54c568"/><stop offset=".196" stop-color="#70cf57"/><stop offset=".295" stop-color="#95d840"/><stop offset=".394" stop-color="#a2da37"/><stop offset=".494" stop-color="#69cd5b"/><stop offset=".527" stop-color="#31b57b"/><stop offset=".56" stop-color="#1f9a8a"/><stop offset=".593" stop-color="#277f8e"/><stop offset=".626" stop-color="#31678e"/><stop offset=".659" stop-color="#3d4e8a"/><stop offset=".692" stop-color="#46307e"/><stop offset=".791" stop-color="#471164"/><stop offset=".89" stop-color="#460a5d"/><stop offset=".99" stop-color="#460a5d"/></linearGradient><linearGradient id="g58" x1="0" y1="0" x2="0" y2="1"><stop offset="0" stop-color="#35b779"/><stop offset=".097" stop-color="#4ac16d"/><stop offset=".196" stop-color="#63cb5f"/><stop offset=".295" stop-color="#7fd34e"/><stop offset=".394" stop-color="#8bd646"/><stop offset=".494" stop-color="#5cc863"/><stop offset=".527" stop-color="#2cb17e"/><stop offset=".56" stop-color="#1f978b"/><stop offset=".593" stop-color="#287d8e"/><stop offset=".626" stop-color="#32658e"/><stop offset=".659" stop-color="#3e4989"/><stop offset=".692" stop-color="#472c7a"/><stop offset=".791" stop-color="#471063"/><stop offset=".89" stop-color="#460a5d"/><stop offset=".99" stop-color="#460a5d"/></linearGradient><linearGradient id="g59" x1="0" y1="0" x2="0" y2="1"><stop offset="0" stop-color="#31b57b"/><stop offset=".097" stop-color="#40bd72"/><stop offset=".196" stop-color="#54c568"/><stop offset=".295" stop-color="#67cc5c"/><stop offset=".394" stop-color="#73d056"/><stop offset=".494" stop-color="#50c46a"/><stop offset=".527" stop-color="#27ad81"/><stop offset=".56" stop-color="#1f948c"/><stop offset=".593" stop-color="#297b8e"/><stop offset=".626" stop-color="#33628d"/><stop offset=".659" stop-color="#404688"/><stop offset=".692" stop-color="#482677"/><stop offset=".791" stop-color="#470e61"/><stop offset=".89" stop-color="#46085c"/><stop offset=".99" stop-color="#46085c"/></linearGradient><linearGradient id="g60" x1="0" y1="0" x2="0" y2="1"><stop offset="0" stop-color="#2cb17e"/><stop offset=".097" stop-color="#38b977"/><stop offset=".196" stop-color="#46c06f"/><stop offset=".295" stop-color="#54c568"/><stop offset=".394" stop-color="#5ec962"/><stop offset=".494" stop-color="#46c06f"/><stop offset=".527" stop-color="#23a983"/><stop offset=".56" stop-color="#20928c"/><stop offset=".593" stop-color="#29798e"/><stop offset=".626" stop-color="#355f8d"/><stop offset=".659" stop-color="#424186"/><stop offset=".692" stop-color="#482173"/><stop offset=".791" stop-color="#470d60"/><stop offset=".89" stop-color="#46085c"/><stop offset=".99" stop-color="#46085c"/></linearGradient><linearGradient id="g61" x1="0" y1="0" x2="0" y2="1"><stop offset="0" stop-color="#29af7f"/><stop offset=".097" stop-color="#32b67a"/><stop offset=".196" stop-color="#3fbc73"/><stop offset=".295" stop-color="#4ac16d"/><stop offset=".394" stop-color="#54c568"/><stop offset=".494" stop-color="#40bd72"/><stop offset=".527" stop-color="#22a785"/><stop offset=".56" stop-color="#21908d"/><stop offset=".593" stop-color="#2a788e"/><stop offset=".626" stop-color="#355e8d"/><stop offset=".659" stop-color="#424086"/><stop offset=".692" stop-color="#481f70"/><stop offset=".791" stop-color="#470d60"/><stop offset=".89" stop-color="#46085c"/><stop offset=".99" stop-color="#46085c"/></linearGradient><linearGradient id="g62" x1="0" y1="0" x2="0" y2="1"><stop offset="0" stop-color="#29af7f"/><stop offset=".097" stop-color="#32b67a"/><stop offset=".196" stop-color="#40bd72"/><stop offset=".295" stop-color="#4cc26c"/><stop offset=".394" stop-color="#58c765"/><stop offset=".494" stop-color="#42be71"/><stop offset=".527" stop-color="#22a884"/><stop offset=".56" stop-color="#21918c"/><stop offset=".593" stop-color="#29798e"/><stop offset=".626" stop-color="#34608d"/><stop offset=".659" stop-color="#404588"/><stop offset=".692" stop-color="#482576"/><stop offset=".791" stop-color="#470e61"/><stop offset=".89" stop-color="#46085c"/><stop offset=".99" stop-color="#46085c"/></linearGradient><linearGradient id="g63" x1="0" y1="0" x2="0" y2="1"><stop offset="0" stop-color="#2ab07f"/><stop offset=".097" stop-color="#32b67a"/><stop offset=".196" stop-color="#40bd72"/><stop offset=".295" stop-color="#50c46a"/><stop offset=".394" stop-color="#5cc863"/><stop offset=".494" stop-color="#44bf70"/><stop offset=".527" stop-color="#23a983"/><stop offset=".56" stop-color="#20928c"/><stop offset=".593" stop-color="#297a8e"/><stop offset=".626" stop-color="#33638d"/><stop offset=".659" stop-color="#3f4889"/><stop offset=".692" stop-color="#472a7a"/><stop offset=".791" stop-color="#471063"/><stop offset=".89" stop-color="#460a5d"/><stop offset=".99" stop-color="#460a5d"/></linearGradient><linearGradient id="g64" x1="0" y1="0" x2="0" y2="1"><stop offset="0" stop-color="#2cb17e"/><stop offset=".097" stop-color="#32b67a"/><stop offset=".196" stop-color="#42be71"/><stop offset=".295" stop-color="#54c568"/><stop offset=".394" stop-color="#60ca60"/><stop offset=".494" stop-color="#46c06f"/><stop offset=".527" stop-color="#24aa83"/><stop offset=".56" stop-color="#20928c"/><stop offset=".593" stop-color="#297b8e"/><stop offset=".626" stop-color="#32658e"/><stop offset=".659" stop-color="#3e4c8a"/><stop offset=".692" stop-color="#472f7d"/><stop offset=".791" stop-color="#471164"/><stop offset=".89" stop-color="#460a5d"/><stop offset=".99" stop-color="#460a5d"/></linearGradient><linearGradient id="g65" x1="0" y1="0" x2="0" y2="1"><stop offset="0" stop-color="#2cb17e"/><stop offset=".097" stop-color="#32b67a"/><stop offset=".196" stop-color="#42be71"/><stop offset=".295" stop-color="#56c667"/><stop offset=".394" stop-color="#67cc5c"/><stop offset=".494" stop-color="#48c16e"/><stop offset=".527" stop-color="#25ab82"/><stop offset=".56" stop-color="#20938c"/><stop offset=".593" stop-color="#287c8e"/><stop offset=".626" stop-color="#31678e"/><stop offset=".659" stop-color="#3c4f8a"/><stop offset=".692" stop-color="#463480"/><stop offset=".791" stop-color="#471365"/><stop offset=".89" stop-color="#460b5e"/><stop offset=".99" stop-color="#460b5e"/></linearGradient><linearGradient id="g66" x1="0" y1="0" x2="0" y2="1"><stop offset="0" stop-color="#2eb37c"/><stop offset=".097" stop-color="#37b878"/><stop offset=".196" stop-color="#48c16e"/><stop offset=".295" stop-color="#5ec962"/><stop offset=".394" stop-color="#73d056"/><stop offset=".494" stop-color="#4cc26c"/><stop offset=".527" stop-color="#26ad81"/><stop offset=".56" stop-color="#1f948c"/><stop offset=".593" stop-color="#287d8e"/><stop offset=".642" stop-color="#365d8d"/><stop offset=".692" stop-color="#453882"/><stop offset=".791" stop-color="#481467"/><stop offset=".89" stop-color="#470d60"/><stop offset=".99" stop-color="#470e61"/></linearGradient><linearGradient id="g67" x1="0" y1="0" x2="0" y2="1"><stop offset="0" stop-color="#34b679"/><stop offset=".097" stop-color="#3dbc74"/><stop offset=".196" stop-color="#52c569"/><stop offset=".295" stop-color="#6ccd5a"/><stop offset=".394" stop-color="#8bd646"/><stop offset=".494" stop-color="#54c568"/><stop offset=".527" stop-color="#28ae80"/><stop offset=".56" stop-color="#1f968b"/><stop offset=".593" stop-color="#287d8e"/><stop offset=".642" stop-color="#355e8d"/><stop offset=".692" stop-color="#443b84"/><stop offset=".791" stop-color="#481769"/><stop offset=".89" stop-color="#470e61"/><stop offset=".99" stop-color="#481467"/></linearGradient><linearGradient id="g68" x1="0" y1="0" x2="0" y2="1"><stop offset="0" stop-color="#38b977"/><stop offset=".097" stop-color="#46c06f"/><stop offset=".196" stop-color="#5ac864"/><stop offset=".295" stop-color="#7ad151"/><stop offset=".394" stop-color="#a5db36"/><stop offset=".494" stop-color="#5ac864"/><stop offset=".527" stop-color="#2cb17e"/><stop offset=".56" stop-color="#1f978b"/><stop offset=".593" stop-color="#287d8e"/><stop offset=".642" stop-color="#355f8d"/><stop offset=".692" stop-color="#433e85"/><stop offset=".791" stop-color="#48186a"/><stop offset=".89" stop-color="#471063"/><stop offset=".99" stop-color="#48186a"/></linearGradient><linearGradient id="g69" x1="0" y1="0" x2="0" y2="1"><stop offset="0" stop-color="#3fbc73"/><stop offset=".097" stop-color="#50c46a"/><stop offset=".196" stop-color="#65cb5e"/><stop offset=".295" stop-color="#8bd646"/><stop offset=".394" stop-color="#c0df25"/><stop offset=".444" stop-color="#8ed645"/><stop offset=".494" stop-color="#63cb5f"/><stop offset=".527" stop-color="#2eb37c"/><stop offset=".56" stop-color="#1f988b"/><stop offset=".593" stop-color="#287d8e"/><stop offset=".642" stop-color="#34608d"/><stop offset=".692" stop-color="#424086"/><stop offset=".791" stop-color="#481b6d"/><stop offset=".89" stop-color="#471164"/><stop offset=".99" stop-color="#481d6f"/></linearGradient><linearGradient id="g70" x1="0" y1="0" x2="0" y2="1"><stop offset="0" stop-color="#46c06f"/><stop offset=".097" stop-color="#58c765"/><stop offset=".196" stop-color="#70cf57"/><stop offset=".295" stop-color="#9bd93c"/><stop offset=".394" stop-color="#dae319"/><stop offset=".444" stop-color="#a0da39"/><stop offset=".494" stop-color="#6ccd5a"/><stop offset=".527" stop-color="#31b57b"/><stop offset=".56" stop-color="#1f998a"/><stop offset=".593" stop-color="#287d8e"/><stop offset=".642" stop-color="#34618d"/><stop offset=".692" stop-color="#414287"/><stop offset=".791" stop-color="#481c6e"/><stop offset=".89" stop-color="#471365"/><stop offset=".99" stop-color="#482173"/></linearGradient><linearGradient id="g71" x1="0" y1="0" x2="0" y2="1"><stop offset="0" stop-color="#44bf70"/><stop offset=".097" stop-color="#58c765"/><stop offset=".196" stop-color="#6ece58"/><stop offset=".295" stop-color="#98d83e"/><stop offset=".394" stop-color="#d5e21a"/><stop offset=".444" stop-color="#9dd93b"/><stop offset=".494" stop-color="#67cc5c"/><stop offset=".527" stop-color="#2fb47c"/><stop offset=".56" stop-color="#1f988b"/><stop offset=".593" stop-color="#287c8e"/><stop offset=".642" stop-color="#34608d"/><stop offset=".692" stop-color="#423f85"/><stop offset=".791" stop-color="#481c6e"/><stop offset=".89" stop-color="#471164"/><stop offset=".99" stop-color="#482173"/></linearGradient><linearGradient id="g72" x1="0" y1="0" x2="0" y2="1"><stop offset="0" stop-color="#3bbb75"/><stop offset=".097" stop-color="#4ec36b"/><stop offset=".196" stop-color="#63cb5f"/><stop offset=".295" stop-color="#84d44b"/><stop offset=".394" stop-color="#b5de2b"/><stop offset=".444" stop-color="#86d549"/><stop offset=".494" stop-color="#5cc863"/><stop offset=".527" stop-color="#2ab07f"/><stop offset=".56" stop-color="#1f958b"/><stop offset=".593" stop-color="#297a8e"/><stop offset=".642" stop-color="#365c8d"/><stop offset=".692" stop-color="#453882"/><stop offset=".791" stop-color="#48186a"/><stop offset=".89" stop-color="#471063"/><stop offset=".99" stop-color="#481c6e"/></linearGradient><linearGradient id="g73" x1="0" y1="0" x2="0" y2="1"><stop offset="0" stop-color="#35b779"/><stop offset=".097" stop-color="#46c06f"/><stop offset=".196" stop-color="#58c765"/><stop offset=".295" stop-color="#70cf57"/><stop offset=".394" stop-color="#98d83e"/><stop offset=".494" stop-color="#50c46a"/><stop offset=".527" stop-color="#25ac82"/><stop offset=".56" stop-color="#20928c"/><stop offset=".593" stop-color="#2a788e"/><stop offset=".626" stop-color="#33638d"/><stop offset=".659" stop-color="#3e4a89"/><stop offset=".692" stop-color="#46307e"/><stop offset=".791" stop-color="#481668"/><stop offset=".89" stop-color="#470d60"/><stop offset=".99" stop-color="#481769"/></linearGradient><linearGradient id="g74" x1="0" y1="0" x2="0" y2="1"><stop offset="0" stop-color="#2eb37c"/><stop offset=".097" stop-color="#3dbc74"/><stop offset=".196" stop-color="#4ec36b"/><stop offset=".295" stop-color="#60ca60"/><stop offset=".394" stop-color="#7ad151"/><stop offset=".494" stop-color="#44bf70"/><stop offset=".527" stop-color="#22a884"/><stop offset=".56" stop-color="#218f8d"/><stop offset=".593" stop-color="#2a768e"/><stop offset=".626" stop-color="#355f8d"/><stop offset=".659" stop-color="#404688"/><stop offset=".692" stop-color="#482979"/><stop offset=".791" stop-color="#471164"/><stop offset=".89" stop-color="#460b5e"/><stop offset=".99" stop-color="#471164"/></linearGradient><linearGradient id="g75" x1="0" y1="0" x2="0" y2="1"><stop offset="0" stop-color="#29af7f"/><stop offset=".097" stop-color="#37b878"/><stop offset=".196" stop-color="#44bf70"/><stop offset=".295" stop-color="#50c46a"/><stop offset=".394" stop-color="#5ec962"/><stop offset=".494" stop-color="#3bbb75"/><stop offset=".527" stop-color="#20a386"/><stop offset=".56" stop-color="#228c8d"/><stop offset=".593" stop-color="#2b748e"/><stop offset=".626" stop-color="#365c8d"/><stop offset=".659" stop-color="#424086"/><stop offset=".692" stop-color="#482173"/><stop offset=".791" stop-color="#470d60"/><stop offset=".89" stop-color="#46085c"/><stop offset=".99" stop-color="#460b5e"/></linearGradient><linearGradient id="g76" x1="0" y1="0" x2="0" y2="1"><stop offset="0" stop-color="#335864"/><stop offset=".1" stop-color="#1b3e36"/><stop offset=".19" stop-color="#193c32"/><stop offset=".29" stop-color="#193c32"/><stop offset=".39" stop-color="#193c32"/><stop offset=".49" stop-color="#1a3d33"/><stop offset=".59" stop-color="#6f9ad8"/><stop offset=".68" stop-color="#6f9ad8"/><stop offset=".78" stop-color="#6f9ad8"/><stop offset=".88" stop-color="#6f9ad8"/><stop offset=".98" stop-color="#6f9ad8"/></linearGradient><linearGradient id="g77" x1="0" y1="0" x2="0" y2="1"><stop offset="0" stop-color="#557ea6"/><stop offset=".1" stop-color="#335864"/><stop offset=".19" stop-color="#1b3e36"/><stop offset=".29" stop-color="#193c32"/><stop offset=".39" stop-color="#193c32"/><stop offset=".49" stop-color="#204440"/><stop offset=".59" stop-color="#6f9ad8"/><stop offset=".68" stop-color="#6f9ad8"/><stop offset=".78" stop-color="#6f9ad8"/><stop offset=".88" stop-color="#6f9ad8"/><stop offset=".98" stop-color="#6f9ad8"/></linearGradient><linearGradient id="g78" x1="0" y1="0" x2="0" y2="1"><stop offset="0" stop-color="#6e99d7"/><stop offset=".1" stop-color="#6892ca"/><stop offset=".19" stop-color="#5a84b0"/><stop offset=".29" stop-color="#50789b"/><stop offset=".39" stop-color="#446b85"/><stop offset=".49" stop-color="#5a84b0"/><stop offset=".59" stop-color="#6f9ad8"/><stop offset=".68" stop-color="#6f9ad8"/><stop offset=".78" stop-color="#6f9ad8"/><stop offset=".88" stop-color="#6f9ad8"/><stop offset=".98" stop-color="#6f9ad8"/></linearGradient><linearGradient id="g79" x1="0" y1="1" x2="0" y2="0"><stop offset="0" stop-color="#440154"/><stop offset=".06" stop-color="#48186a"/><stop offset=".12" stop-color="#472d7b"/><stop offset=".19" stop-color="#424086"/><stop offset=".25" stop-color="#3b528b"/><stop offset=".31" stop-color="#33638d"/><stop offset=".38" stop-color="#2c728e"/><stop offset=".44" stop-color="#26828e"/><stop offset=".5" stop-color="#21918c"/><stop offset=".56" stop-color="#1fa088"/><stop offset=".62" stop-color="#28ae80"/><stop offset=".69" stop-color="#3fbc73"/><stop offset=".75" stop-color="#5ec962"/><stop offset=".81" stop-color="#84d44b"/><stop offset=".88" stop-color="#addc30"/><stop offset=".94" stop-color="#d8e219"/><stop offset="1" stop-color="#fde725"/></linearGradient><linearGradient id="g80" x1="0" y1="0" x2="0" y2="1"><stop offset="0" stop-color="#32b67a"/><stop offset=".095" stop-color="#32b67a"/><stop offset=".195" stop-color="#32b67a"/><stop offset=".295" stop-color="#2ab07f"/><stop offset=".394" stop-color="#26ad81"/><stop offset=".494" stop-color="#26ad81"/><stop offset=".594" stop-color="#29af7f"/><stop offset=".644" stop-color="#1f978b"/><stop offset=".694" stop-color="#277f8e"/><stop offset=".727" stop-color="#31688e"/><stop offset=".761" stop-color="#3d4e8a"/><stop offset=".794" stop-color="#46327e"/><stop offset=".894" stop-color="#481467"/><stop offset=".994" stop-color="#471164"/></linearGradient><linearGradient id="g81" x1="0" y1="0" x2="0" y2="1"><stop offset="0" stop-color="#31b57b"/><stop offset=".095" stop-color="#2fb47c"/><stop offset=".195" stop-color="#2fb47c"/><stop offset=".295" stop-color="#29af7f"/><stop offset=".394" stop-color="#25ac82"/><stop offset=".494" stop-color="#26ad81"/><stop offset=".594" stop-color="#2eb37c"/><stop offset=".644" stop-color="#1e9b8a"/><stop offset=".694" stop-color="#26828e"/><stop offset=".727" stop-color="#2f6b8e"/><stop offset=".761" stop-color="#3b518b"/><stop offset=".794" stop-color="#463480"/><stop offset=".894" stop-color="#481467"/><stop offset=".994" stop-color="#481467"/></linearGradient><linearGradient id="g82" x1="0" y1="0" x2="0" y2="1"><stop offset="0" stop-color="#2fb47c"/><stop offset=".095" stop-color="#2db27d"/><stop offset=".195" stop-color="#2db27d"/><stop offset=".295" stop-color="#27ad81"/><stop offset=".394" stop-color="#25ab82"/><stop offset=".494" stop-color="#26ad81"/><stop offset=".594" stop-color="#35b779"/><stop offset=".644" stop-color="#1f9f88"/><stop offset=".694" stop-color="#25858e"/><stop offset=".727" stop-color="#2e6e8e"/><stop offset=".761" stop-color="#3a538b"/><stop offset=".794" stop-color="#453781"/><stop offset=".894" stop-color="#481467"/><stop offset=".994" stop-color="#481668"/></linearGradient><linearGradient id="g83" x1="0" y1="0" x2="0" y2="1"><stop offset="0" stop-color="#2eb37c"/><stop offset=".095" stop-color="#2ab07f"/><stop offset=".195" stop-color="#2ab07f"/><stop offset=".295" stop-color="#25ac82"/><stop offset=".394" stop-color="#24aa83"/><stop offset=".494" stop-color="#26ad81"/><stop offset=".594" stop-color="#3dbc74"/><stop offset=".644" stop-color="#1fa287"/><stop offset=".694" stop-color="#23898e"/><stop offset=".727" stop-color="#2d718e"/><stop offset=".761" stop-color="#39568c"/><stop offset=".794" stop-color="#443983"/><stop offset=".894" stop-color="#481668"/><stop offset=".994" stop-color="#48186a"/></linearGradient><linearGradient id="g84" x1="0" y1="0" x2="0" y2="1"><stop offset="0" stop-color="#2db27d"/><stop offset=".095" stop-color="#28ae80"/><stop offset=".195" stop-color="#28ae80"/><stop offset=".295" stop-color="#24aa83"/><stop offset=".394" stop-color="#23a983"/><stop offset=".494" stop-color="#26ad81"/><stop offset=".594" stop-color="#44bf70"/><stop offset=".644" stop-color="#21a685"/><stop offset=".694" stop-color="#228d8d"/><stop offset=".727" stop-color="#2c738e"/><stop offset=".761" stop-color="#38598c"/><stop offset=".794" stop-color="#443b84"/><stop offset=".894" stop-color="#481668"/><stop offset=".994" stop-color="#481b6d"/></linearGradient><linearGradient id="g85" x1="0" y1="0" x2="0" y2="1"><stop offset="0" stop-color="#2cb17e"/><stop offset=".095" stop-color="#26ad81"/><stop offset=".195" stop-color="#26ad81"/><stop offset=".295" stop-color="#22a884"/><stop offset=".394" stop-color="#22a884"/><stop offset=".494" stop-color="#26ad81"/><stop offset=".594" stop-color="#4ec36b"/><stop offset=".644" stop-color="#25ab82"/><stop offset=".694" stop-color="#21918c"/><stop offset=".727" stop-color="#2a768e"/><stop offset=".761" stop-color="#365c8d"/><stop offset=".794" stop-color="#433e85"/><stop offset=".894" stop-color="#481769"/><stop offset=".994" stop-color="#481d6f"/></linearGradient><linearGradient id="g86" x1="0" y1="0" x2="0" y2="1"><stop offset="0" stop-color="#2ab07f"/><stop offset=".095" stop-color="#25ac82"/><stop offset=".195" stop-color="#25ac82"/><stop offset=".295" stop-color="#22a884"/><stop offset=".394" stop-color="#22a884"/><stop offset=".494" stop-color="#2ab07f"/><stop offset=".544" stop-color="#44bf70"/><stop offset=".594" stop-color="#69cd5b"/><stop offset=".644" stop-color="#2eb37c"/><stop offset=".694" stop-color="#1f948c"/><stop offset=".727" stop-color="#297b8e"/><stop offset=".761" stop-color="#34618d"/><stop offset=".794" stop-color="#414287"/><stop offset=".894" stop-color="#481c6e"/><stop offset=".994" stop-color="#482173"/></linearGradient><linearGradient id="g87" x1="0" y1="0" x2="0" y2="1"><stop offset="0" stop-color="#29af7f"/><stop offset=".095" stop-color="#25ab82"/><stop offset=".195" stop-color="#25ab82"/><stop offset=".295" stop-color="#22a884"/><stop offset=".394" stop-color="#22a884"/><stop offset=".494" stop-color="#2fb47c"/><stop offset=".544" stop-color="#56c667"/><stop offset=".594" stop-color="#89d548"/><stop offset=".627" stop-color="#52c569"/><stop offset=".661" stop-color="#29af7f"/><stop offset=".694" stop-color="#1f998a"/><stop offset=".727" stop-color="#27808e"/><stop offset=".761" stop-color="#32658e"/><stop offset=".794" stop-color="#3f4889"/><stop offset=".894" stop-color="#482071"/><stop offset=".994" stop-color="#482576"/></linearGradient><linearGradient id="g88" x1="0" y1="0" x2="0" y2="1"><stop offset="0" stop-color="#29af7f"/><stop offset=".095" stop-color="#24aa83"/><stop offset=".195" stop-color="#24aa83"/><stop offset=".295" stop-color="#22a884"/><stop offset=".394" stop-color="#22a884"/><stop offset=".494" stop-color="#34b679"/><stop offset=".544" stop-color="#67cc5c"/><stop offset=".594" stop-color="#aadc32"/><stop offset=".627" stop-color="#67cc5c"/><stop offset=".661" stop-color="#34b679"/><stop offset=".694" stop-color="#1e9d89"/><stop offset=".727" stop-color="#25838e"/><stop offset=".761" stop-color="#306a8e"/><stop offset=".794" stop-color="#3d4e8a"/><stop offset=".844" stop-color="#443a83"/><stop offset=".894" stop-color="#482576"/><stop offset=".994" stop-color="#482878"/></linearGradient><linearGradient id="g89" x1="0" y1="0" x2="0" y2="1"><stop offset="0" stop-color="#28ae80"/><stop offset=".095" stop-color="#23a983"/><stop offset=".195" stop-color="#23a983"/><stop offset=".295" stop-color="#22a884"/><stop offset=".394" stop-color="#22a884"/><stop offset=".494" stop-color="#3aba76"/><stop offset=".544" stop-color="#7cd250"/><stop offset=".594" stop-color="#cde11d"/><stop offset=".627" stop-color="#7fd34e"/><stop offset=".661" stop-color="#3fbc73"/><stop offset=".694" stop-color="#1fa187"/><stop offset=".727" stop-color="#23888e"/><stop offset=".761" stop-color="#2e6f8e"/><stop offset=".794" stop-color="#3b528b"/><stop offset=".844" stop-color="#423f85"/><stop offset=".894" stop-color="#472a7a"/><stop offset=".994" stop-color="#472c7a"/></linearGradient><linearGradient id="g90" x1="0" y1="0" x2="0" y2="1"><stop offset="0" stop-color="#27ad81"/><stop offset=".095" stop-color="#23a983"/><stop offset=".195" stop-color="#23a983"/><stop offset=".295" stop-color="#22a884"/><stop offset=".394" stop-color="#22a884"/><stop offset=".494" stop-color="#40bd72"/><stop offset=".528" stop-color="#73d056"/><stop offset=".561" stop-color="#b0dd2f"/><stop offset=".594" stop-color="#efe51c"/><stop offset=".627" stop-color="#98d83e"/><stop offset=".661" stop-color="#4ec36b"/><stop offset=".694" stop-color="#21a685"/><stop offset=".727" stop-color="#228c8d"/><stop offset=".761" stop-color="#2c728e"/><stop offset=".794" stop-color="#38588c"/><stop offset=".844" stop-color="#414487"/><stop offset=".894" stop-color="#472e7c"/><stop offset=".994" stop-color="#472f7d"/></linearGradient><linearGradient id="g91" x1="0" y1="0" x2="0" y2="1"><stop offset="0" stop-color="#416475"/><stop offset=".1" stop-color="#476a7f"/><stop offset=".2" stop-color="#476a7f"/><stop offset=".3" stop-color="#4e708a"/><stop offset=".39" stop-color="#4e708a"/><stop offset=".49" stop-color="#476a7f"/><stop offset=".59" stop-color="#2b4e4f"/><stop offset=".69" stop-color="#6b8ebb"/><stop offset=".79" stop-color="#82a5e1"/><stop offset=".89" stop-color="#82a5e1"/><stop offset=".99" stop-color="#82a5e1"/></linearGradient><linearGradient id="g92" x1="0" y1="0" x2="0" y2="1"><stop offset="0" stop-color="#26ad81"/><stop offset=".095" stop-color="#26ad81"/><stop offset=".195" stop-color="#25ac82"/><stop offset=".295" stop-color="#22a785"/><stop offset=".394" stop-color="#22a785"/><stop offset=".494" stop-color="#22a884"/><stop offset=".594" stop-color="#20a386"/><stop offset=".644" stop-color="#228c8d"/><stop offset=".694" stop-color="#2b748e"/><stop offset=".727" stop-color="#355e8d"/><stop offset=".761" stop-color="#414487"/><stop offset=".794" stop-color="#482878"/><stop offset=".894" stop-color="#481467"/><stop offset=".994" stop-color="#481769"/></linearGradient><linearGradient id="g93" x1="0" y1="0" x2="0" y2="1"><stop offset="0" stop-color="#26ad81"/><stop offset=".095" stop-color="#25ac82"/><stop offset=".195" stop-color="#25ab82"/><stop offset=".295" stop-color="#21a685"/><stop offset=".394" stop-color="#21a585"/><stop offset=".494" stop-color="#22a785"/><stop offset=".594" stop-color="#20a486"/><stop offset=".644" stop-color="#218e8d"/><stop offset=".694" stop-color="#2a768e"/><stop offset=".727" stop-color="#355f8d"/><stop offset=".761" stop-color="#404588"/><stop offset=".794" stop-color="#482878"/><stop offset=".894" stop-color="#481668"/><stop offset=".994" stop-color="#48186a"/></linearGradient><linearGradient id="g94" x1="0" y1="0" x2="0" y2="1"><stop offset="0" stop-color="#26ad81"/><stop offset=".095" stop-color="#25ab82"/><stop offset=".195" stop-color="#23a983"/><stop offset=".295" stop-color="#20a486"/><stop offset=".394" stop-color="#20a386"/><stop offset=".494" stop-color="#21a685"/><stop offset=".594" stop-color="#21a585"/><stop offset=".644" stop-color="#218f8d"/><stop offset=".694" stop-color="#2a788e"/><stop offset=".727" stop-color="#34618d"/><stop offset=".761" stop-color="#404688"/><stop offset=".794" stop-color="#482979"/><stop offset=".894" stop-color="#48186a"/><stop offset=".994" stop-color="#481a6c"/></linearGradient><linearGradient id="g95" x1="0" y1="0" x2="0" y2="1"><stop offset="0" stop-color="#26ad81"/><stop offset=".095" stop-color="#24aa83"/><stop offset=".195" stop-color="#22a785"/><stop offset=".295" stop-color="#1fa287"/><stop offset=".394" stop-color="#1fa187"/><stop offset=".494" stop-color="#21a585"/><stop offset=".594" stop-color="#21a685"/><stop offset=".644" stop-color="#21918c"/><stop offset=".694" stop-color="#297a8e"/><stop offset=".727" stop-color="#33628d"/><stop offset=".761" stop-color="#3f4788"/><stop offset=".794" stop-color="#482979"/><stop offset=".894" stop-color="#481a6c"/><stop offset=".994" stop-color="#481b6d"/></linearGradient><linearGradient id="g96" x1="0" y1="0" x2="0" y2="1"><stop offset="0" stop-color="#26ad81"/><stop offset=".095" stop-color="#23a983"/><stop offset=".195" stop-color="#21a685"/><stop offset=".295" stop-color="#1fa188"/><stop offset=".394" stop-color="#1fa088"/><stop offset=".494" stop-color="#20a486"/><stop offset=".594" stop-color="#22a785"/><stop offset=".644" stop-color="#20928c"/><stop offset=".694" stop-color="#287c8e"/><stop offset=".727" stop-color="#32648e"/><stop offset=".761" stop-color="#3f4889"/><stop offset=".794" stop-color="#472a7a"/><stop offset=".894" stop-color="#481b6d"/><stop offset=".994" stop-color="#481c6e"/></linearGradient><linearGradient id="g97" x1="0" y1="0" x2="0" y2="1"><stop offset="0" stop-color="#26ad81"/><stop offset=".095" stop-color="#23a983"/><stop offset=".195" stop-color="#20a486"/><stop offset=".295" stop-color="#1fa088"/><stop offset=".394" stop-color="#1e9d89"/><stop offset=".494" stop-color="#20a386"/><stop offset=".594" stop-color="#22a884"/><stop offset=".644" stop-color="#20938c"/><stop offset=".694" stop-color="#277f8e"/><stop offset=".727" stop-color="#32658e"/><stop offset=".761" stop-color="#3e4989"/><stop offset=".794" stop-color="#472a7a"/><stop offset=".894" stop-color="#481c6e"/><stop offset=".994" stop-color="#481d6f"/></linearGradient><linearGradient id="g98" x1="0" y1="0" x2="0" y2="1"><stop offset="0" stop-color="#26ad81"/><stop offset=".095" stop-color="#22a785"/><stop offset=".195" stop-color="#1fa287"/><stop offset=".295" stop-color="#1f9e89"/><stop offset=".394" stop-color="#1e9b8a"/><stop offset=".494" stop-color="#1fa287"/><stop offset=".594" stop-color="#23a983"/><stop offset=".644" stop-color="#1f948c"/><stop offset=".694" stop-color="#27808e"/><stop offset=".727" stop-color="#31678e"/><stop offset=".761" stop-color="#3e4c8a"/><stop offset=".794" stop-color="#472c7a"/><stop offset=".894" stop-color="#481d6f"/><stop offset=".994" stop-color="#481d6f"/></linearGradient><linearGradient id="g99" x1="0" y1="0" x2="0" y2="1"><stop offset="0" stop-color="#25ac82"/><stop offset=".095" stop-color="#21a585"/><stop offset=".195" stop-color="#1fa088"/><stop offset=".295" stop-color="#1e9b8a"/><stop offset=".394" stop-color="#1f998a"/><stop offset=".494" stop-color="#1fa188"/><stop offset=".594" stop-color="#25ac82"/><stop offset=".644" stop-color="#1f978b"/><stop offset=".694" stop-color="#26828e"/><stop offset=".727" stop-color="#30698e"/><stop offset=".761" stop-color="#3d4d8a"/><stop offset=".794" stop-color="#472e7c"/><stop offset=".894" stop-color="#481f70"/><stop offset=".994" stop-color="#481f70"/></linearGradient><linearGradient id="g100" x1="0" y1="0" x2="0" y2="1"><stop offset="0" stop-color="#25ab82"/><stop offset=".095" stop-color="#20a386"/><stop offset=".195" stop-color="#1f9e89"/><stop offset=".295" stop-color="#1f988b"/><stop offset=".394" stop-color="#1f978b"/><stop offset=".494" stop-color="#1fa088"/><stop offset=".594" stop-color="#28ae80"/><stop offset=".644" stop-color="#1f998a"/><stop offset=".694" stop-color="#25838e"/><stop offset=".727" stop-color="#306a8e"/><stop offset=".761" stop-color="#3c4f8a"/><stop offset=".794" stop-color="#472f7d"/><stop offset=".894" stop-color="#482071"/><stop offset=".994" stop-color="#482071"/></linearGradient><linearGradient id="g101" x1="0" y1="0" x2="0" y2="1"><stop offset="0" stop-color="#24aa83"/><stop offset=".095" stop-color="#1fa187"/><stop offset=".195" stop-color="#1e9b8a"/><stop offset=".295" stop-color="#1f968b"/><stop offset=".394" stop-color="#1f958b"/><stop offset=".494" stop-color="#1f9e89"/><stop offset=".594" stop-color="#2ab07f"/><stop offset=".644" stop-color="#1e9b8a"/><stop offset=".694" stop-color="#25858e"/><stop offset=".727" stop-color="#2f6c8e"/><stop offset=".761" stop-color="#3b518b"/><stop offset=".794" stop-color="#46327e"/><stop offset=".894" stop-color="#482173"/><stop offset=".994" stop-color="#482173"/></linearGradient><linearGradient id="g102" x1="0" y1="0" x2="0" y2="1"><stop offset="0" stop-color="#23a983"/><stop offset=".095" stop-color="#1fa088"/><stop offset=".195" stop-color="#1f988b"/><stop offset=".295" stop-color="#20938c"/><stop offset=".394" stop-color="#20938c"/><stop offset=".494" stop-color="#1e9c89"/><stop offset=".594" stop-color="#2eb37c"/><stop offset=".644" stop-color="#1e9d89"/><stop offset=".694" stop-color="#24868e"/><stop offset=".727" stop-color="#2e6e8e"/><stop offset=".761" stop-color="#3b528b"/><stop offset=".794" stop-color="#463480"/><stop offset=".894" stop-color="#482374"/><stop offset=".994" stop-color="#482374"/></linearGradient><linearGradient id="g103" x1="0" y1="0" x2="0" y2="1"><stop offset="0" stop-color="#23a983"/><stop offset=".095" stop-color="#1e9d89"/><stop offset=".195" stop-color="#1f968b"/><stop offset=".295" stop-color="#20928c"/><stop offset=".394" stop-color="#20928c"/><stop offset=".494" stop-color="#1e9b8a"/><stop offset=".594" stop-color="#31b57b"/><stop offset=".644" stop-color="#1f9f88"/><stop offset=".694" stop-color="#23888e"/><stop offset=".727" stop-color="#2d708e"/><stop offset=".761" stop-color="#3a548c"/><stop offset=".794" stop-color="#453781"/><stop offset=".894" stop-color="#482475"/><stop offset=".994" stop-color="#482475"/></linearGradient><linearGradient id="g104" x1="0" y1="0" x2="0" y2="1"><stop offset="0" stop-color="#476a7f"/><stop offset=".1" stop-color="#4e708a"/><stop offset=".2" stop-color="#547794"/><stop offset=".3" stop-color="#5a7d9e"/><stop offset=".39" stop-color="#5d80a3"/><stop offset=".49" stop-color="#547794"/><stop offset=".59" stop-color="#4e708a"/><stop offset=".69" stop-color="#7b9ed5"/><stop offset=".79" stop-color="#82a5e1"/><stop offset=".89" stop-color="#82a5e1"/><stop offset=".99" stop-color="#82a5e1"/></linearGradient><linearGradient id="g105" x1="0" y1="0" x2="0" y2="1"><stop offset="0" stop-color="#5ac864"/><stop offset=".095" stop-color="#5cc863"/><stop offset=".195" stop-color="#5cc863"/><stop offset=".295" stop-color="#5cc863"/><stop offset=".394" stop-color="#5cc863"/><stop offset=".494" stop-color="#67cc5c"/><stop offset=".594" stop-color="#52c569"/><stop offset=".627" stop-color="#2db27d"/><stop offset=".661" stop-color="#1e9d89"/><stop offset=".694" stop-color="#23888e"/><stop offset=".727" stop-color="#2f6b8e"/><stop offset=".761" stop-color="#3e4a89"/><stop offset=".794" stop-color="#482576"/><stop offset=".894" stop-color="#460b5e"/><stop offset=".994" stop-color="#460b5e"/></linearGradient><linearGradient id="g106" x1="0" y1="0" x2="0" y2="1"><stop offset="0" stop-color="#63cb5f"/><stop offset=".095" stop-color="#65cb5e"/><stop offset=".195" stop-color="#69cd5b"/><stop offset=".295" stop-color="#69cd5b"/><stop offset=".394" stop-color="#69cd5b"/><stop offset=".494" stop-color="#70cf57"/><stop offset=".594" stop-color="#5ec962"/><stop offset=".627" stop-color="#32b67a"/><stop offset=".661" stop-color="#1fa188"/><stop offset=".694" stop-color="#228b8d"/><stop offset=".727" stop-color="#2e6d8e"/><stop offset=".761" stop-color="#3e4c8a"/><stop offset=".794" stop-color="#482677"/><stop offset=".894" stop-color="#460b5e"/><stop offset=".994" stop-color="#460b5e"/></linearGradient><linearGradient id="g107" x1="0" y1="0" x2="0" y2="1"><stop offset="0" stop-color="#69cd5b"/><stop offset=".095" stop-color="#6ece58"/><stop offset=".195" stop-color="#75d054"/><stop offset=".295" stop-color="#75d054"/><stop offset=".394" stop-color="#75d054"/><stop offset=".494" stop-color="#7ad151"/><stop offset=".594" stop-color="#69cd5b"/><stop offset=".627" stop-color="#3aba76"/><stop offset=".661" stop-color="#20a486"/><stop offset=".694" stop-color="#218e8d"/><stop offset=".727" stop-color="#2d708e"/><stop offset=".761" stop-color="#3d4e8a"/><stop offset=".794" stop-color="#482878"/><stop offset=".894" stop-color="#460b5e"/><stop offset=".994" stop-color="#460b5e"/></linearGradient><linearGradient id="g108" x1="0" y1="0" x2="0" y2="1"><stop offset="0" stop-color="#70cf57"/><stop offset=".095" stop-color="#77d153"/><stop offset=".195" stop-color="#81d34d"/><stop offset=".295" stop-color="#81d34d"/><stop offset=".394" stop-color="#81d34d"/><stop offset=".494" stop-color="#84d44b"/><stop offset=".594" stop-color="#75d054"/><stop offset=".627" stop-color="#40bd72"/><stop offset=".661" stop-color="#22a884"/><stop offset=".694" stop-color="#21918c"/><stop offset=".727" stop-color="#2c718e"/><stop offset=".761" stop-color="#3c508b"/><stop offset=".794" stop-color="#482979"/><stop offset=".894" stop-color="#460b5e"/><stop offset=".994" stop-color="#460b5e"/></linearGradient><linearGradient id="g109" x1="0" y1="0" x2="0" y2="1"><stop offset="0" stop-color="#77d153"/><stop offset=".095" stop-color="#81d34d"/><stop offset=".195" stop-color="#8ed645"/><stop offset=".295" stop-color="#8ed645"/><stop offset=".394" stop-color="#8ed645"/><stop offset=".494" stop-color="#8ed645"/><stop offset=".594" stop-color="#81d34d"/><stop offset=".627" stop-color="#4ac16d"/><stop offset=".661" stop-color="#25ab82"/><stop offset=".694" stop-color="#20938c"/><stop offset=".719" stop-color="#287c8e"/><stop offset=".744" stop-color="#33638d"/><stop offset=".769" stop-color="#3f4889"/><stop offset=".794" stop-color="#472a7a"/><stop offset=".894" stop-color="#460b5e"/><stop offset=".994" stop-color="#460b5e"/></linearGradient><linearGradient id="g110" x1="0" y1="0" x2="0" y2="1"><stop offset="0" stop-color="#77d153"/><stop offset=".095" stop-color="#86d549"/><stop offset=".195" stop-color="#95d840"/><stop offset=".295" stop-color="#98d83e"/><stop offset=".394" stop-color="#98d83e"/><stop offset=".494" stop-color="#98d83e"/><stop offset=".594" stop-color="#8bd646"/><stop offset=".627" stop-color="#52c569"/><stop offset=".661" stop-color="#28ae80"/><stop offset=".694" stop-color="#1f968b"/><stop offset=".719" stop-color="#277f8e"/><stop offset=".744" stop-color="#31668e"/><stop offset=".769" stop-color="#3e4c8a"/><stop offset=".794" stop-color="#472d7b"/><stop offset=".894" stop-color="#470e61"/><stop offset=".994" stop-color="#470d60"/></linearGradient><linearGradient id="g111" x1="0" y1="0" x2="0" y2="1"><stop offset="0" stop-color="#73d056"/><stop offset=".095" stop-color="#84d44b"/><stop offset=".195" stop-color="#95d840"/><stop offset=".295" stop-color="#9dd93b"/><stop offset=".394" stop-color="#a0da39"/><stop offset=".494" stop-color="#a0da39"/><stop offset=".594" stop-color="#98d83e"/><stop offset=".627" stop-color="#58c765"/><stop offset=".661" stop-color="#2cb17e"/><stop offset=".694" stop-color="#1f998a"/><stop offset=".719" stop-color="#26828e"/><stop offset=".744" stop-color="#306a8e"/><stop offset=".769" stop-color="#3c508b"/><stop offset=".794" stop-color="#46327e"/><stop offset=".894" stop-color="#481467"/><stop offset=".994" stop-color="#470e61"/></linearGradient><linearGradient id="g112" x1="0" y1="0" x2="0" y2="1"><stop offset="0" stop-color="#6ece58"/><stop offset=".095" stop-color="#81d34d"/><stop offset=".195" stop-color="#95d840"/><stop offset=".295" stop-color="#a2da37"/><stop offset=".394" stop-color="#a8db34"/><stop offset=".494" stop-color="#a8db34"/><stop offset=".594" stop-color="#a2da37"/><stop offset=".627" stop-color="#60ca60"/><stop offset=".661" stop-color="#31b57b"/><stop offset=".694" stop-color="#1e9c89"/><stop offset=".719" stop-color="#25848e"/><stop offset=".744" stop-color="#2e6d8e"/><stop offset=".769" stop-color="#3a538b"/><stop offset=".794" stop-color="#453781"/><stop offset=".894" stop-color="#48186a"/><stop offset=".994" stop-color="#471164"/></linearGradient><linearGradient id="g113" x1="0" y1="0" x2="0" y2="1"><stop offset="0" stop-color="#69cd5b"/><stop offset=".095" stop-color="#7fd34e"/><stop offset=".195" stop-color="#95d840"/><stop offset=".295" stop-color="#a8db34"/><stop offset=".394" stop-color="#b0dd2f"/><stop offset=".494" stop-color="#b0dd2f"/><stop offset=".594" stop-color="#addc30"/><stop offset=".627" stop-color="#69cd5b"/><stop offset=".661" stop-color="#35b779"/><stop offset=".694" stop-color="#1f9f88"/><stop offset=".727" stop-color="#27808e"/><stop offset=".761" stop-color="#34608d"/><stop offset=".794" stop-color="#433d84"/><stop offset=".894" stop-color="#481d6f"/><stop offset=".994" stop-color="#481467"/></linearGradient><linearGradient id="g114" x1="0" y1="0" x2="0" y2="1"><stop offset="0" stop-color="#65cb5e"/><stop offset=".095" stop-color="#7cd250"/><stop offset=".195" stop-color="#95d840"/><stop offset=".295" stop-color="#addc30"/><stop offset=".394" stop-color="#b8de29"/><stop offset=".494" stop-color="#b8de29"/><stop offset=".594" stop-color="#b8de29"/><stop offset=".627" stop-color="#73d056"/><stop offset=".661" stop-color="#3bbb75"/><stop offset=".694" stop-color="#1fa187"/><stop offset=".727" stop-color="#25838e"/><stop offset=".761" stop-color="#32648e"/><stop offset=".794" stop-color="#424186"/><stop offset=".894" stop-color="#482173"/><stop offset=".994" stop-color="#481668"/></linearGradient><linearGradient id="g115" x1="0" y1="0" x2="0" y2="1"><stop offset="0" stop-color="#1c3f37"/><stop offset=".1" stop-color="#1a3d34"/><stop offset=".2" stop-color="#193c32"/><stop offset=".3" stop-color="#193c32"/><stop offset=".39" stop-color="#193c32"/><stop offset=".49" stop-color="#193c32"/><stop offset=".59" stop-color="#1a3d34"/><stop offset=".69" stop-color="#6689b2"/><stop offset=".79" stop-color="#82a5e1"/><stop offset=".89" stop-color="#82a5e1"/><stop offset=".99" stop-color="#82a5e1"/></linearGradient><linearGradient id="g116" x1="0" y1="0" x2="0" y2="1"><stop offset="0" stop-color="#50c46a"/><stop offset=".096" stop-color="#46c06f"/><stop offset=".195" stop-color="#42be71"/><stop offset=".295" stop-color="#25ac82"/><stop offset=".394" stop-color="#1fa287"/><stop offset=".494" stop-color="#1fa287"/><stop offset=".594" stop-color="#25ab82"/><stop offset=".643" stop-color="#218e8d"/><stop offset=".693" stop-color="#2d718e"/><stop offset=".726" stop-color="#375a8c"/><stop offset=".76" stop-color="#424086"/><stop offset=".793" stop-color="#482475"/><stop offset=".892" stop-color="#471365"/><stop offset=".992" stop-color="#471365"/></linearGradient><linearGradient id="g117" x1="0" y1="0" x2="0" y2="1"><stop offset="0" stop-color="#54c568"/><stop offset=".096" stop-color="#4cc26c"/><stop offset=".195" stop-color="#48c16e"/><stop offset=".295" stop-color="#2cb17e"/><stop offset=".394" stop-color="#24aa83"/><stop offset=".494" stop-color="#24aa83"/><stop offset=".594" stop-color="#28ae80"/><stop offset=".643" stop-color="#20928c"/><stop offset=".693" stop-color="#2b748e"/><stop offset=".726" stop-color="#365c8d"/><stop offset=".76" stop-color="#424186"/><stop offset=".793" stop-color="#482475"/><stop offset=".892" stop-color="#471164"/><stop offset=".992" stop-color="#471164"/></linearGradient><linearGradient id="g118" x1="0" y1="0" x2="0" y2="1"><stop offset="0" stop-color="#58c765"/><stop offset=".096" stop-color="#52c569"/><stop offset=".195" stop-color="#4ec36b"/><stop offset=".295" stop-color="#35b779"/><stop offset=".394" stop-color="#2cb17e"/><stop offset=".494" stop-color="#2cb17e"/><stop offset=".594" stop-color="#2eb37c"/><stop offset=".643" stop-color="#1f958b"/><stop offset=".693" stop-color="#2a788e"/><stop offset=".726" stop-color="#355f8d"/><stop offset=".76" stop-color="#414487"/><stop offset=".793" stop-color="#482475"/><stop offset=".892" stop-color="#471063"/><stop offset=".992" stop-color="#471063"/></linearGradient><linearGradient id="g119" x1="0" y1="0" x2="0" y2="1"><stop offset="0" stop-color="#5cc863"/><stop offset=".096" stop-color="#58c765"/><stop offset=".195" stop-color="#52c569"/><stop offset=".295" stop-color="#40bd72"/><stop offset=".394" stop-color="#35b779"/><stop offset=".494" stop-color="#35b779"/><stop offset=".594" stop-color="#35b779"/><stop offset=".643" stop-color="#1f9a8a"/><stop offset=".693" stop-color="#297b8e"/><stop offset=".726" stop-color="#33628d"/><stop offset=".76" stop-color="#404588"/><stop offset=".793" stop-color="#482475"/><stop offset=".892" stop-color="#470e61"/><stop offset=".992" stop-color="#470e61"/></linearGradient><linearGradient id="g120" x1="0" y1="0" x2="0" y2="1"><stop offset="0" stop-color="#60ca60"/><stop offset=".096" stop-color="#5ec962"/><stop offset=".195" stop-color="#58c765"/><stop offset=".295" stop-color="#4ec36b"/><stop offset=".394" stop-color="#42be71"/><stop offset=".494" stop-color="#42be71"/><stop offset=".594" stop-color="#3dbc74"/><stop offset=".643" stop-color="#1f9e89"/><stop offset=".693" stop-color="#277f8e"/><stop offset=".726" stop-color="#32648e"/><stop offset=".76" stop-color="#404688"/><stop offset=".793" stop-color="#482475"/><stop offset=".892" stop-color="#470d60"/><stop offset=".992" stop-color="#470d60"/></linearGradient><linearGradient id="g121" x1="0" y1="0" x2="0" y2="1"><stop offset="0" stop-color="#5ec962"/><stop offset=".096" stop-color="#5cc863"/><stop offset=".195" stop-color="#56c667"/><stop offset=".295" stop-color="#50c46a"/><stop offset=".394" stop-color="#46c06f"/><stop offset=".494" stop-color="#48c16e"/><stop offset=".594" stop-color="#40bd72"/><stop offset=".643" stop-color="#1fa088"/><stop offset=".693" stop-color="#26828e"/><stop offset=".726" stop-color="#31668e"/><stop offset=".76" stop-color="#3f4788"/><stop offset=".793" stop-color="#482475"/><stop offset=".892" stop-color="#470d60"/><stop offset=".992" stop-color="#470d60"/></linearGradient><linearGradient id="g122" x1="0" y1="0" x2="0" y2="1"><stop offset="0" stop-color="#52c569"/><stop offset=".096" stop-color="#4ac16d"/><stop offset=".195" stop-color="#40bd72"/><stop offset=".295" stop-color="#38b977"/><stop offset=".394" stop-color="#31b57b"/><stop offset=".494" stop-color="#34b679"/><stop offset=".594" stop-color="#35b779"/><stop offset=".643" stop-color="#1e9c89"/><stop offset=".693" stop-color="#27808e"/><stop offset=".726" stop-color="#32658e"/><stop offset=".76" stop-color="#3f4788"/><stop offset=".793" stop-color="#482576"/><stop offset=".892" stop-color="#470e61"/><stop offset=".992" stop-color="#471063"/></linearGradient><linearGradient id="g123" x1="0" y1="0" x2="0" y2="1"><stop offset="0" stop-color="#46c06f"/><stop offset=".096" stop-color="#3aba76"/><stop offset=".195" stop-color="#2eb37c"/><stop offset=".295" stop-color="#27ad81"/><stop offset=".394" stop-color="#23a983"/><stop offset=".494" stop-color="#26ad81"/><stop offset=".594" stop-color="#2cb17e"/><stop offset=".643" stop-color="#1f978b"/><stop offset=".693" stop-color="#277e8e"/><stop offset=".726" stop-color="#32648e"/><stop offset=".76" stop-color="#3f4788"/><stop offset=".793" stop-color="#482677"/><stop offset=".892" stop-color="#471164"/><stop offset=".992" stop-color="#481467"/></linearGradient><linearGradient id="g124" x1="0" y1="0" x2="0" y2="1"><stop offset="0" stop-color="#3bbb75"/><stop offset=".096" stop-color="#2db27d"/><stop offset=".195" stop-color="#23a983"/><stop offset=".295" stop-color="#1fa187"/><stop offset=".394" stop-color="#1e9d89"/><stop offset=".494" stop-color="#1fa287"/><stop offset=".594" stop-color="#25ab82"/><stop offset=".643" stop-color="#20938c"/><stop offset=".693" stop-color="#287c8e"/><stop offset=".726" stop-color="#33638d"/><stop offset=".76" stop-color="#3f4788"/><stop offset=".793" stop-color="#482878"/><stop offset=".892" stop-color="#471365"/><stop offset=".992" stop-color="#481769"/></linearGradient><linearGradient id="g125" x1="0" y1="0" x2="0" y2="1"><stop offset="0" stop-color="#32b67a"/><stop offset=".096" stop-color="#24aa83"/><stop offset=".195" stop-color="#1f9e89"/><stop offset=".295" stop-color="#1f958b"/><stop offset=".394" stop-color="#21918c"/><stop offset=".494" stop-color="#1f988b"/><stop offset=".594" stop-color="#20a486"/><stop offset=".643" stop-color="#218f8d"/><stop offset=".693" stop-color="#297a8e"/><stop offset=".726" stop-color="#33628d"/><stop offset=".76" stop-color="#3f4788"/><stop offset=".793" stop-color="#482979"/><stop offset=".892" stop-color="#481668"/><stop offset=".992" stop-color="#481b6d"/></linearGradient><linearGradient id="g126" x1="0" y1="0" x2="0" y2="1"><stop offset="0" stop-color="#2db27d"/><stop offset=".096" stop-color="#20a386"/><stop offset=".195" stop-color="#1f958b"/><stop offset=".295" stop-color="#228c8d"/><stop offset=".394" stop-color="#24878e"/><stop offset=".494" stop-color="#21918c"/><stop offset=".594" stop-color="#1fa088"/><stop offset=".643" stop-color="#228c8d"/><stop offset=".693" stop-color="#2a788e"/><stop offset=".726" stop-color="#34618d"/><stop offset=".76" stop-color="#3f4788"/><stop offset=".793" stop-color="#472a7a"/><stop offset=".892" stop-color="#481769"/><stop offset=".992" stop-color="#481d6f"/></linearGradient><linearGradient id="g127" x1="0" y1="0" x2="0" y2="1"><stop offset="0" stop-color="#2eb37c"/><stop offset=".096" stop-color="#21a685"/><stop offset=".195" stop-color="#1f998a"/><stop offset=".295" stop-color="#21918c"/><stop offset=".394" stop-color="#228c8d"/><stop offset=".494" stop-color="#1f958b"/><stop offset=".594" stop-color="#22a785"/><stop offset=".643" stop-color="#20928c"/><stop offset=".693" stop-color="#297b8e"/><stop offset=".726" stop-color="#33638d"/><stop offset=".76" stop-color="#3f4889"/><stop offset=".793" stop-color="#472a7a"/><stop offset=".892" stop-color="#481668"/><stop offset=".992" stop-color="#481d6f"/></linearGradient><linearGradient id="g128" x1="0" y1="0" x2="0" y2="1"><stop offset="0" stop-color="#2fb47c"/><stop offset=".096" stop-color="#22a884"/><stop offset=".195" stop-color="#1e9c89"/><stop offset=".295" stop-color="#1f948c"/><stop offset=".394" stop-color="#21918c"/><stop offset=".494" stop-color="#1f998a"/><stop offset=".594" stop-color="#28ae80"/><stop offset=".643" stop-color="#1f968b"/><stop offset=".693" stop-color="#277e8e"/><stop offset=".726" stop-color="#32658e"/><stop offset=".76" stop-color="#3e4989"/><stop offset=".793" stop-color="#472a7a"/><stop offset=".892" stop-color="#481668"/><stop offset=".992" stop-color="#481d6f"/></linearGradient><linearGradient id="g129" x1="0" y1="0" x2="0" y2="1"><stop offset="0" stop-color="#31b57b"/><stop offset=".096" stop-color="#24aa83"/><stop offset=".195" stop-color="#1f9f88"/><stop offset=".295" stop-color="#1f998a"/><stop offset=".394" stop-color="#1f958b"/><stop offset=".494" stop-color="#1f9e89"/><stop offset=".594" stop-color="#32b67a"/><stop offset=".643" stop-color="#1e9b8a"/><stop offset=".693" stop-color="#26818e"/><stop offset=".726" stop-color="#31678e"/><stop offset=".76" stop-color="#3e4a89"/><stop offset=".793" stop-color="#472a7a"/><stop offset=".892" stop-color="#481467"/><stop offset=".992" stop-color="#481d6f"/></linearGradient><linearGradient id="g130" x1="0" y1="0" x2="0" y2="1"><stop offset="0" stop-color="#32b67a"/><stop offset=".096" stop-color="#25ac82"/><stop offset=".195" stop-color="#1fa287"/><stop offset=".295" stop-color="#1e9d89"/><stop offset=".394" stop-color="#1e9b8a"/><stop offset=".494" stop-color="#1fa187"/><stop offset=".594" stop-color="#3fbc73"/><stop offset=".643" stop-color="#1fa188"/><stop offset=".693" stop-color="#25838e"/><stop offset=".726" stop-color="#30698e"/><stop offset=".76" stop-color="#3e4c8a"/><stop offset=".793" stop-color="#472a7a"/><stop offset=".892" stop-color="#471365"/><stop offset=".992" stop-color="#481d6f"/></linearGradient><linearGradient id="g131" x1="0" y1="0" x2="0" y2="1"><stop offset="0" stop-color="#32b67a"/><stop offset=".096" stop-color="#25ac82"/><stop offset=".195" stop-color="#1fa187"/><stop offset=".295" stop-color="#1e9d89"/><stop offset=".394" stop-color="#1f9a8a"/><stop offset=".494" stop-color="#1fa187"/><stop offset=".594" stop-color="#3fbc73"/><stop offset=".643" stop-color="#1fa188"/><stop offset=".693" stop-color="#25838e"/><stop offset=".726" stop-color="#30698e"/><stop offset=".76" stop-color="#3e4c8a"/><stop offset=".793" stop-color="#472a7a"/><stop offset=".892" stop-color="#481467"/><stop offset=".992" stop-color="#481d6f"/></linearGradient><linearGradient id="g132" x1="0" y1="0" x2="0" y2="1"><stop offset="0" stop-color="#31b57b"/><stop offset=".096" stop-color="#24aa83"/><stop offset=".195" stop-color="#1f9f88"/><stop offset=".295" stop-color="#1f998a"/><stop offset=".394" stop-color="#1f968b"/><stop offset=".494" stop-color="#1f9f88"/><stop offset=".594" stop-color="#38b977"/><stop offset=".643" stop-color="#1f9e89"/><stop offset=".693" stop-color="#26828e"/><stop offset=".726" stop-color="#31688e"/><stop offset=".76" stop-color="#3e4a89"/><stop offset=".793" stop-color="#472a7a"/><stop offset=".892" stop-color="#481769"/><stop offset=".992" stop-color="#481d6f"/></linearGradient><linearGradient id="g133" x1="0" y1="0" x2="0" y2="1"><stop offset="0" stop-color="#2fb47c"/><stop offset=".096" stop-color="#22a785"/><stop offset=".195" stop-color="#1e9b8a"/><stop offset=".295" stop-color="#1f968b"/><stop offset=".394" stop-color="#20928c"/><stop offset=".494" stop-color="#1e9b8a"/><stop offset=".594" stop-color="#31b57b"/><stop offset=".643" stop-color="#1e9b8a"/><stop offset=".693" stop-color="#27808e"/><stop offset=".726" stop-color="#31678e"/><stop offset=".76" stop-color="#3e4a89"/><stop offset=".793" stop-color="#472a7a"/><stop offset=".892" stop-color="#481a6c"/><stop offset=".992" stop-color="#481d6f"/></linearGradient><linearGradient id="g134" x1="0" y1="0" x2="0" y2="1"><stop offset="0" stop-color="#2db27d"/><stop offset=".096" stop-color="#21a585"/><stop offset=".195" stop-color="#1f988b"/><stop offset=".295" stop-color="#20938c"/><stop offset=".394" stop-color="#218f8d"/><stop offset=".494" stop-color="#1f988b"/><stop offset=".594" stop-color="#2cb17e"/><stop offset=".643" stop-color="#1f988b"/><stop offset=".693" stop-color="#277f8e"/><stop offset=".726" stop-color="#31668e"/><stop offset=".76" stop-color="#3e4989"/><stop offset=".793" stop-color="#472a7a"/><stop offset=".892" stop-color="#481b6d"/><stop offset=".992" stop-color="#481d6f"/></linearGradient><linearGradient id="g135" x1="0" y1="0" x2="0" y2="1"><stop offset="0" stop-color="#2cb17e"/><stop offset=".096" stop-color="#20a386"/><stop offset=".195" stop-color="#1f958b"/><stop offset=".295" stop-color="#21918c"/><stop offset=".394" stop-color="#228c8d"/><stop offset=".494" stop-color="#1f958b"/><stop offset=".594" stop-color="#26ad81"/><stop offset=".643" stop-color="#1f958b"/><stop offset=".693" stop-color="#287d8e"/><stop offset=".726" stop-color="#32648e"/><stop offset=".76" stop-color="#3e4989"/><stop offset=".793" stop-color="#472a7a"/><stop offset=".892" stop-color="#481d6f"/><stop offset=".992" stop-color="#481d6f"/></linearGradient><linearGradient id="g136" x1="0" y1="0" x2="0" y2="1"><stop offset="0" stop-color="#37b878"/><stop offset=".096" stop-color="#29af7f"/><stop offset=".195" stop-color="#20a486"/><stop offset=".295" stop-color="#1fa188"/><stop offset=".394" stop-color="#1e9d89"/><stop offset=".494" stop-color="#20a486"/><stop offset=".594" stop-color="#31b57b"/><stop offset=".643" stop-color="#1e9b8a"/><stop offset=".693" stop-color="#26818e"/><stop offset=".726" stop-color="#31678e"/><stop offset=".76" stop-color="#3e4a89"/><stop offset=".793" stop-color="#472a7a"/><stop offset=".892" stop-color="#481a6c"/><stop offset=".992" stop-color="#481a6c"/></linearGradient><linearGradient id="g137" x1="0" y1="0" x2="0" y2="1"><stop offset="0" stop-color="#46c06f"/><stop offset=".096" stop-color="#3dbc74"/><stop offset=".195" stop-color="#31b57b"/><stop offset=".295" stop-color="#2db27d"/><stop offset=".394" stop-color="#29af7f"/><stop offset=".494" stop-color="#2fb47c"/><stop offset=".594" stop-color="#40bd72"/><stop offset=".643" stop-color="#1fa187"/><stop offset=".693" stop-color="#25848e"/><stop offset=".726" stop-color="#306a8e"/><stop offset=".76" stop-color="#3d4d8a"/><stop offset=".793" stop-color="#472a7a"/><stop offset=".892" stop-color="#481769"/><stop offset=".992" stop-color="#481769"/></linearGradient><linearGradient id="g138" x1="0" y1="0" x2="0" y2="1"><stop offset="0" stop-color="#58c765"/><stop offset=".096" stop-color="#58c765"/><stop offset=".195" stop-color="#50c46a"/><stop offset=".295" stop-color="#4cc26c"/><stop offset=".394" stop-color="#48c16e"/><stop offset=".494" stop-color="#4cc26c"/><stop offset=".594" stop-color="#54c568"/><stop offset=".627" stop-color="#2db27d"/><stop offset=".66" stop-color="#1f9e89"/><stop offset=".693" stop-color="#23898e"/><stop offset=".726" stop-color="#2e6d8e"/><stop offset=".76" stop-color="#3d4e8a"/><stop offset=".793" stop-color="#472a7a"/><stop offset=".892" stop-color="#471365"/><stop offset=".992" stop-color="#471365"/></linearGradient><linearGradient id="g139" x1="0" y1="0" x2="0" y2="1"><stop offset="0" stop-color="#69cd5b"/><stop offset=".096" stop-color="#77d153"/><stop offset=".195" stop-color="#75d054"/><stop offset=".295" stop-color="#73d056"/><stop offset=".394" stop-color="#70cf57"/><stop offset=".494" stop-color="#70cf57"/><stop offset=".594" stop-color="#67cc5c"/><stop offset=".627" stop-color="#38b977"/><stop offset=".66" stop-color="#20a386"/><stop offset=".693" stop-color="#228d8d"/><stop offset=".726" stop-color="#2d708e"/><stop offset=".76" stop-color="#3c4f8a"/><stop offset=".793" stop-color="#472a7a"/><stop offset=".892" stop-color="#470e61"/><stop offset=".992" stop-color="#470e61"/></linearGradient><linearGradient id="g140" x1="0" y1="0" x2="0" y2="1"><stop offset="0" stop-color="#77d153"/><stop offset=".096" stop-color="#8ed645"/><stop offset=".195" stop-color="#93d741"/><stop offset=".295" stop-color="#93d741"/><stop offset=".394" stop-color="#93d741"/><stop offset=".494" stop-color="#8ed645"/><stop offset=".594" stop-color="#7ad151"/><stop offset=".627" stop-color="#42be71"/><stop offset=".66" stop-color="#22a884"/><stop offset=".693" stop-color="#21908d"/><stop offset=".726" stop-color="#2c718e"/><stop offset=".76" stop-color="#3b518b"/><stop offset=".793" stop-color="#472a7a"/><stop offset=".892" stop-color="#470d60"/><stop offset=".992" stop-color="#470d60"/></linearGradient><linearGradient id="g141" x1="0" y1="0" x2="0" y2="1"><stop offset="0" stop-color="#60ca60"/><stop offset=".096" stop-color="#69cd5b"/><stop offset=".195" stop-color="#65cb5e"/><stop offset=".295" stop-color="#63cb5f"/><stop offset=".394" stop-color="#60ca60"/><stop offset=".494" stop-color="#63cb5f"/><stop offset=".594" stop-color="#75d054"/><stop offset=".627" stop-color="#3fbc73"/><stop offset=".66" stop-color="#21a585"/><stop offset=".693" stop-color="#228d8d"/><stop offset=".726" stop-color="#2d718e"/><stop offset=".76" stop-color="#3b518b"/><stop offset=".793" stop-color="#472d7b"/><stop offset=".892" stop-color="#471365"/><stop offset=".992" stop-color="#471365"/></linearGradient><linearGradient id="g142" x1="0" y1="0" x2="0" y2="1"><stop offset="0" stop-color="#4ec36b"/><stop offset=".096" stop-color="#4ac16d"/><stop offset=".195" stop-color="#40bd72"/><stop offset=".295" stop-color="#3bbb75"/><stop offset=".394" stop-color="#38b977"/><stop offset=".494" stop-color="#3dbc74"/><stop offset=".594" stop-color="#70cf57"/><stop offset=".627" stop-color="#3bbb75"/><stop offset=".66" stop-color="#20a386"/><stop offset=".693" stop-color="#228b8d"/><stop offset=".726" stop-color="#2e6f8e"/><stop offset=".76" stop-color="#3b518b"/><stop offset=".793" stop-color="#472f7d"/><stop offset=".892" stop-color="#481769"/><stop offset=".992" stop-color="#481769"/></linearGradient><linearGradient id="g143" x1="0" y1="0" x2="0" y2="1"><stop offset="0" stop-color="#3bbb75"/><stop offset=".096" stop-color="#31b57b"/><stop offset=".195" stop-color="#26ad81"/><stop offset=".295" stop-color="#24aa83"/><stop offset=".394" stop-color="#21a685"/><stop offset=".494" stop-color="#25ac82"/><stop offset=".544" stop-color="#40bd72"/><stop offset=".594" stop-color="#6ccd5a"/><stop offset=".627" stop-color="#37b878"/><stop offset=".66" stop-color="#1fa188"/><stop offset=".693" stop-color="#23888e"/><stop offset=".726" stop-color="#2e6e8e"/><stop offset=".76" stop-color="#3b518b"/><stop offset=".793" stop-color="#46307e"/><stop offset=".892" stop-color="#481c6e"/><stop offset=".992" stop-color="#481c6e"/></linearGradient><linearGradient id="g144" x1="0" y1="0" x2="0" y2="1"><stop offset="0" stop-color="#2db27d"/><stop offset=".096" stop-color="#22a785"/><stop offset=".195" stop-color="#1e9b8a"/><stop offset=".295" stop-color="#1f978b"/><stop offset=".394" stop-color="#20928c"/><stop offset=".494" stop-color="#1e9b8a"/><stop offset=".544" stop-color="#31b57b"/><stop offset=".594" stop-color="#65cb5e"/><stop offset=".627" stop-color="#34b679"/><stop offset=".66" stop-color="#1f9f88"/><stop offset=".693" stop-color="#25858e"/><stop offset=".726" stop-color="#2e6d8e"/><stop offset=".76" stop-color="#3b518b"/><stop offset=".793" stop-color="#46337f"/><stop offset=".892" stop-color="#482173"/><stop offset=".992" stop-color="#482173"/></linearGradient><linearGradient id="g145" x1="0" y1="0" x2="0" y2="1"><stop offset="0" stop-color="#27ad81"/><stop offset=".096" stop-color="#1fa188"/><stop offset=".195" stop-color="#20928c"/><stop offset=".295" stop-color="#218e8d"/><stop offset=".394" stop-color="#238a8d"/><stop offset=".494" stop-color="#20938c"/><stop offset=".527" stop-color="#23a983"/><stop offset=".56" stop-color="#3fbc73"/><stop offset=".594" stop-color="#6ccd5a"/><stop offset=".627" stop-color="#37b878"/><stop offset=".66" stop-color="#1fa088"/><stop offset=".693" stop-color="#24868e"/><stop offset=".726" stop-color="#2e6e8e"/><stop offset=".76" stop-color="#3a538b"/><stop offset=".793" stop-color="#453581"/><stop offset=".892" stop-color="#482475"/><stop offset=".992" stop-color="#482475"/></linearGradient><linearGradient id="g146" x1="0" y1="0" x2="0" y2="1"><stop offset="0" stop-color="#2cb17e"/><stop offset=".096" stop-color="#21a585"/><stop offset=".195" stop-color="#1f9a8a"/><stop offset=".295" stop-color="#1f968b"/><stop offset=".394" stop-color="#20928c"/><stop offset=".494" stop-color="#1f9e89"/><stop offset=".527" stop-color="#2eb37c"/><stop offset=".56" stop-color="#54c568"/><stop offset=".594" stop-color="#89d548"/><stop offset=".627" stop-color="#48c16e"/><stop offset=".66" stop-color="#22a785"/><stop offset=".693" stop-color="#228c8d"/><stop offset=".726" stop-color="#2c728e"/><stop offset=".76" stop-color="#38598c"/><stop offset=".793" stop-color="#443a83"/><stop offset=".892" stop-color="#482677"/><stop offset=".992" stop-color="#482677"/></linearGradient><linearGradient id="g147" x1="0" y1="0" x2="0" y2="1"><stop offset="0" stop-color="#2fb47c"/><stop offset=".096" stop-color="#24aa83"/><stop offset=".195" stop-color="#1fa188"/><stop offset=".295" stop-color="#1f9e89"/><stop offset=".394" stop-color="#1e9c89"/><stop offset=".494" stop-color="#22a785"/><stop offset=".527" stop-color="#3dbc74"/><stop offset=".56" stop-color="#6ccd5a"/><stop offset=".594" stop-color="#a5db36"/><stop offset=".627" stop-color="#5ac864"/><stop offset=".66" stop-color="#27ad81"/><stop offset=".693" stop-color="#21918c"/><stop offset=".726" stop-color="#2a778e"/><stop offset=".76" stop-color="#365d8d"/><stop offset=".793" stop-color="#423f85"/><stop offset=".892" stop-color="#482878"/><stop offset=".992" stop-color="#482878"/></linearGradient><linearGradient id="g148" x1="0" y1="0" x2="0" y2="1"><stop offset="0" stop-color="#34b679"/><stop offset=".096" stop-color="#29af7f"/><stop offset=".195" stop-color="#22a785"/><stop offset=".295" stop-color="#21a685"/><stop offset=".394" stop-color="#20a486"/><stop offset=".494" stop-color="#2cb17e"/><stop offset=".527" stop-color="#52c569"/><stop offset=".56" stop-color="#89d548"/><stop offset=".594" stop-color="#c5e021"/><stop offset=".627" stop-color="#70cf57"/><stop offset=".66" stop-color="#31b57b"/><stop offset=".693" stop-color="#1f968b"/><stop offset=".726" stop-color="#287c8e"/><stop offset=".76" stop-color="#34618d"/><stop offset=".793" stop-color="#414287"/><stop offset=".892" stop-color="#482979"/><stop offset=".992" stop-color="#482979"/></linearGradient><linearGradient id="g149" x1="0" y1="0" x2="0" y2="1"><stop offset="0" stop-color="#38b977"/><stop offset=".096" stop-color="#2fb47c"/><stop offset=".195" stop-color="#28ae80"/><stop offset=".295" stop-color="#27ad81"/><stop offset=".394" stop-color="#27ad81"/><stop offset=".494" stop-color="#3aba76"/><stop offset=".527" stop-color="#69cd5b"/><stop offset=".56" stop-color="#a5db36"/><stop offset=".594" stop-color="#e5e419"/><stop offset=".618" stop-color="#9dd93b"/><stop offset=".643" stop-color="#5ec962"/><stop offset=".668" stop-color="#2fb47c"/><stop offset=".693" stop-color="#1e9c89"/><stop offset=".726" stop-color="#26818e"/><stop offset=".76" stop-color="#31668e"/><stop offset=".793" stop-color="#3f4788"/><stop offset=".892" stop-color="#472a7a"/><stop offset=".992" stop-color="#472a7a"/></linearGradient><linearGradient id="g150" x1="0" y1="0" x2="0" y2="1"><stop offset="0" stop-color="#3dbc74"/><stop offset=".096" stop-color="#35b779"/><stop offset=".195" stop-color="#2eb37c"/><stop offset=".295" stop-color="#2eb37c"/><stop offset=".394" stop-color="#2eb37c"/><stop offset=".494" stop-color="#48c16e"/><stop offset=".527" stop-color="#7ad151"/><stop offset=".56" stop-color="#b5de2b"/><stop offset=".594" stop-color="#f1e51d"/><stop offset=".618" stop-color="#aadc32"/><stop offset=".643" stop-color="#67cc5c"/><stop offset=".668" stop-color="#35b779"/><stop offset=".693" stop-color="#1f9f88"/><stop offset=".726" stop-color="#25838e"/><stop offset=".76" stop-color="#31688e"/><stop offset=".793" stop-color="#3e4989"/><stop offset=".892" stop-color="#472a7a"/><stop offset=".992" stop-color="#482979"/></linearGradient><linearGradient id="g151" x1="0" y1="0" x2="0" y2="1"><stop offset="0" stop-color="#40bd72"/><stop offset=".096" stop-color="#3aba76"/><stop offset=".195" stop-color="#34b679"/><stop offset=".295" stop-color="#34b679"/><stop offset=".394" stop-color="#34b679"/><stop offset=".494" stop-color="#50c46a"/><stop offset=".544" stop-color="#98d83e"/><stop offset=".594" stop-color="#ece51b"/><stop offset=".618" stop-color="#a8db34"/><stop offset=".643" stop-color="#65cb5e"/><stop offset=".668" stop-color="#34b679"/><stop offset=".693" stop-color="#1f9f88"/><stop offset=".726" stop-color="#25838e"/><stop offset=".76" stop-color="#31688e"/><stop offset=".793" stop-color="#3e4989"/><stop offset=".892" stop-color="#482979"/><stop offset=".992" stop-color="#482576"/></linearGradient><linearGradient id="g152" x1="0" y1="0" x2="0" y2="1"><stop offset="0" stop-color="#44bf70"/><stop offset=".096" stop-color="#3fbc73"/><stop offset=".195" stop-color="#3bbb75"/><stop offset=".295" stop-color="#3bbb75"/><stop offset=".394" stop-color="#3bbb75"/><stop offset=".494" stop-color="#58c765"/><stop offset=".544" stop-color="#9dd93b"/><stop offset=".594" stop-color="#eae51a"/><stop offset=".618" stop-color="#a5db36"/><stop offset=".643" stop-color="#65cb5e"/><stop offset=".668" stop-color="#34b679"/><stop offset=".693" stop-color="#1f9f88"/><stop offset=".726" stop-color="#25838e"/><stop offset=".76" stop-color="#31688e"/><stop offset=".793" stop-color="#3e4989"/><stop offset=".892" stop-color="#482878"/><stop offset=".992" stop-color="#482173"/></linearGradient><linearGradient id="g153" x1="0" y1="0" x2="0" y2="1"><stop offset="0" stop-color="#48c16e"/><stop offset=".096" stop-color="#44bf70"/><stop offset=".195" stop-color="#42be71"/><stop offset=".295" stop-color="#42be71"/><stop offset=".394" stop-color="#42be71"/><stop offset=".494" stop-color="#60ca60"/><stop offset=".544" stop-color="#a0da39"/><stop offset=".594" stop-color="#e5e419"/><stop offset=".618" stop-color="#a0da39"/><stop offset=".643" stop-color="#63cb5f"/><stop offset=".668" stop-color="#32b67a"/><stop offset=".693" stop-color="#1f9f88"/><stop offset=".726" stop-color="#25838e"/><stop offset=".76" stop-color="#31688e"/><stop offset=".793" stop-color="#3e4989"/><stop offset=".892" stop-color="#482677"/><stop offset=".992" stop-color="#481c6e"/></linearGradient><linearGradient id="g154" x1="0" y1="0" x2="0" y2="1"><stop offset="0" stop-color="#4cc26c"/><stop offset=".096" stop-color="#4ac16d"/><stop offset=".195" stop-color="#4ac16d"/><stop offset=".295" stop-color="#4ac16d"/><stop offset=".394" stop-color="#4ac16d"/><stop offset=".494" stop-color="#69cd5b"/><stop offset=".544" stop-color="#a2da37"/><stop offset=".594" stop-color="#dfe318"/><stop offset=".618" stop-color="#9dd93b"/><stop offset=".643" stop-color="#60ca60"/><stop offset=".668" stop-color="#32b67a"/><stop offset=".693" stop-color="#1f9f88"/><stop offset=".726" stop-color="#25838e"/><stop offset=".76" stop-color="#31688e"/><stop offset=".793" stop-color="#3e4989"/><stop offset=".892" stop-color="#482576"/><stop offset=".992" stop-color="#48186a"/></linearGradient><linearGradient id="g155" x1="0" y1="0" x2="0" y2="1"><stop offset="0" stop-color="#6892ca"/><stop offset=".09" stop-color="#6f9ad8"/><stop offset=".19" stop-color="#6f9ad8"/><stop offset=".29" stop-color="#6f9ad8"/><stop offset=".39" stop-color="#6f9ad8"/><stop offset=".49" stop-color="#6f9ad8"/><stop offset=".59" stop-color="#557ea6"/><stop offset=".68" stop-color="#6f9ad8"/><stop offset=".78" stop-color="#6f9ad8"/><stop offset=".88" stop-color="#6f9ad8"/><stop offset=".98" stop-color="#6f9ad8"/></linearGradient><linearGradient id="g156" x1="0" y1="0" x2="0" y2="1"><stop offset="0" stop-color="#6d98d4"/><stop offset=".09" stop-color="#6f9ad8"/><stop offset=".19" stop-color="#6f9ad8"/><stop offset=".29" stop-color="#6f9ad8"/><stop offset=".39" stop-color="#6f9ad8"/><stop offset=".49" stop-color="#6f9ad8"/><stop offset=".59" stop-color="#6f9ad8"/><stop offset=".68" stop-color="#6f9ad8"/><stop offset=".78" stop-color="#6f9ad8"/><stop offset=".88" stop-color="#6f9ad8"/><stop offset=".98" stop-color="#6f9ad8"/></linearGradient><linearGradient id="g157" x1="0" y1="0" x2="0" y2="1"><stop offset="0" stop-color="#204440"/><stop offset=".09" stop-color="#193c32"/><stop offset=".19" stop-color="#193c32"/><stop offset=".29" stop-color="#193c32"/><stop offset=".39" stop-color="#193c32"/><stop offset=".49" stop-color="#193c32"/><stop offset=".59" stop-color="#204440"/><stop offset=".68" stop-color="#6f9ad8"/><stop offset=".78" stop-color="#6f9ad8"/><stop offset=".88" stop-color="#6f9ad8"/><stop offset=".98" stop-color="#6f9ad8"/></linearGradient><linearGradient id="g158" x1="0" y1="1" x2="0" y2="0"><stop offset="0" stop-color="#440154"/><stop offset=".06" stop-color="#48186a"/><stop offset=".12" stop-color="#472d7b"/><stop offset=".19" stop-color="#424086"/><stop offset=".25" stop-color="#3b528b"/><stop offset=".31" stop-color="#33638d"/><stop offset=".38" stop-color="#2c728e"/><stop offset=".44" stop-color="#26828e"/><stop offset=".5" stop-color="#21918c"/><stop offset=".56" stop-color="#1fa088"/><stop offset=".62" stop-color="#28ae80"/><stop offset=".69" stop-color="#3fbc73"/><stop offset=".75" stop-color="#5ec962"/><stop offset=".81" stop-color="#84d44b"/><stop offset=".88" stop-color="#addc30"/><stop offset=".94" stop-color="#d8e219"/><stop offset="1" stop-color="#fde725"/></linearGradient><linearGradient id="g159" x1="0" y1="0" x2="0" y2="1"><stop offset="0" stop-color="#3c508b"/><stop offset=".094" stop-color="#3f4889"/><stop offset=".194" stop-color="#3f4788"/><stop offset=".293" stop-color="#453882"/><stop offset=".392" stop-color="#423f85"/><stop offset=".492" stop-color="#39558c"/><stop offset=".541" stop-color="#306a8e"/><stop offset=".591" stop-color="#287d8e"/><stop offset=".624" stop-color="#1f958b"/><stop offset=".657" stop-color="#27ad81"/><stop offset=".69" stop-color="#50c46a"/><stop offset=".723" stop-color="#26ad81"/><stop offset=".756" stop-color="#20928c"/><stop offset=".789" stop-color="#2a788e"/><stop offset=".822" stop-color="#34608d"/><stop offset=".856" stop-color="#404588"/><stop offset=".889" stop-color="#482677"/><stop offset=".988" stop-color="#482677"/></linearGradient><linearGradient id="g160" x1="0" y1="0" x2="0" y2="1"><stop offset="0" stop-color="#3d4d8a"/><stop offset=".094" stop-color="#404588"/><stop offset=".194" stop-color="#414487"/><stop offset=".293" stop-color="#46337f"/><stop offset=".392" stop-color="#443a83"/><stop offset=".492" stop-color="#3a538b"/><stop offset=".541" stop-color="#31688e"/><stop offset=".591" stop-color="#287c8e"/><stop offset=".624" stop-color="#20928c"/><stop offset=".657" stop-color="#23a983"/><stop offset=".69" stop-color="#42be71"/><stop offset=".723" stop-color="#22a884"/><stop offset=".756" stop-color="#21918c"/><stop offset=".789" stop-color="#29798e"/><stop offset=".822" stop-color="#33638d"/><stop offset=".856" stop-color="#3e4989"/><stop offset=".889" stop-color="#472d7b"/><stop offset=".988" stop-color="#472d7b"/></linearGradient><linearGradient id="g161" x1="0" y1="0" x2="0" y2="1"><stop offset="0" stop-color="#3e4a89"/><stop offset=".094" stop-color="#414287"/><stop offset=".194" stop-color="#424086"/><stop offset=".293" stop-color="#472f7d"/><stop offset=".392" stop-color="#453781"/><stop offset=".492" stop-color="#3b518b"/><stop offset=".541" stop-color="#31678e"/><stop offset=".591" stop-color="#297b8e"/><stop offset=".64" stop-color="#1f9a8a"/><stop offset=".69" stop-color="#35b779"/><stop offset=".74" stop-color="#1f998a"/><stop offset=".789" stop-color="#297a8e"/><stop offset=".822" stop-color="#32658e"/><stop offset=".856" stop-color="#3d4d8a"/><stop offset=".889" stop-color="#46337f"/><stop offset=".988" stop-color="#46337f"/></linearGradient><linearGradient id="g162" x1="0" y1="0" x2="0" y2="1"><stop offset="0" stop-color="#3f4788"/><stop offset=".094" stop-color="#424086"/><stop offset=".194" stop-color="#443b84"/><stop offset=".293" stop-color="#472a7a"/><stop offset=".392" stop-color="#46337f"/><stop offset=".492" stop-color="#3d4e8a"/><stop offset=".541" stop-color="#32658e"/><stop offset=".591" stop-color="#297a8e"/><stop offset=".64" stop-color="#1f958b"/><stop offset=".69" stop-color="#2cb17e"/><stop offset=".74" stop-color="#1f968b"/><stop offset=".789" stop-color="#297b8e"/><stop offset=".839" stop-color="#365c8d"/><stop offset=".889" stop-color="#453882"/><stop offset=".988" stop-color="#453882"/></linearGradient><linearGradient id="g163" x1="0" y1="0" x2="0" y2="1"><stop offset="0" stop-color="#414487"/><stop offset=".094" stop-color="#433d84"/><stop offset=".194" stop-color="#453882"/><stop offset=".293" stop-color="#482576"/><stop offset=".392" stop-color="#472e7c"/><stop offset=".492" stop-color="#3e4c8a"/><stop offset=".541" stop-color="#33638d"/><stop offset=".591" stop-color="#29798e"/><stop offset=".64" stop-color="#20928c"/><stop offset=".69" stop-color="#24aa83"/><stop offset=".74" stop-color="#20938c"/><stop offset=".789" stop-color="#287c8e"/><stop offset=".839" stop-color="#355f8d"/><stop offset=".889" stop-color="#433e85"/><stop offset=".988" stop-color="#433e85"/></linearGradient><linearGradient id="g164" x1="0" y1="0" x2="0" y2="1"><stop offset="0" stop-color="#424086"/><stop offset=".094" stop-color="#443a83"/><stop offset=".194" stop-color="#463480"/><stop offset=".293" stop-color="#482173"/><stop offset=".392" stop-color="#472a7a"/><stop offset=".492" stop-color="#3e4989"/><stop offset=".541" stop-color="#33628d"/><stop offset=".591" stop-color="#2a788e"/><stop offset=".64" stop-color="#218e8d"/><stop offset=".69" stop-color="#20a386"/><stop offset=".74" stop-color="#21918c"/><stop offset=".789" stop-color="#287d8e"/><stop offset=".839" stop-color="#33628d"/><stop offset=".889" stop-color="#414487"/><stop offset=".988" stop-color="#414487"/></linearGradient><linearGradient id="g165" x1="0" y1="0" x2="0" y2="1"><stop offset="0" stop-color="#443a83"/><stop offset=".094" stop-color="#453581"/><stop offset=".194" stop-color="#46307e"/><stop offset=".293" stop-color="#481f70"/><stop offset=".392" stop-color="#482979"/><stop offset=".492" stop-color="#404688"/><stop offset=".541" stop-color="#34618d"/><stop offset=".591" stop-color="#2a788e"/><stop offset=".64" stop-color="#21918c"/><stop offset=".69" stop-color="#23a983"/><stop offset=".74" stop-color="#1f948c"/><stop offset=".789" stop-color="#277f8e"/><stop offset=".839" stop-color="#31668e"/><stop offset=".889" stop-color="#3e4c8a"/><stop offset=".988" stop-color="#3f4889"/></linearGradient><linearGradient id="g166" x1="0" y1="0" x2="0" y2="1"><stop offset="0" stop-color="#453581"/><stop offset=".094" stop-color="#46327e"/><stop offset=".194" stop-color="#472d7b"/><stop offset=".293" stop-color="#481c6e"/><stop offset=".392" stop-color="#482677"/><stop offset=".492" stop-color="#414487"/><stop offset=".541" stop-color="#34608d"/><stop offset=".591" stop-color="#2a788e"/><stop offset=".64" stop-color="#20938c"/><stop offset=".69" stop-color="#29af7f"/><stop offset=".74" stop-color="#1f988b"/><stop offset=".789" stop-color="#26818e"/><stop offset=".839" stop-color="#2f6b8e"/><stop offset=".889" stop-color="#3a538b"/><stop offset=".988" stop-color="#3d4e8a"/></linearGradient><linearGradient id="g167" x1="0" y1="0" x2="0" y2="1"><stop offset="0" stop-color="#472f7d"/><stop offset=".094" stop-color="#472d7b"/><stop offset=".194" stop-color="#472a7a"/><stop offset=".293" stop-color="#481a6c"/><stop offset=".392" stop-color="#482576"/><stop offset=".492" stop-color="#424186"/><stop offset=".541" stop-color="#355e8d"/><stop offset=".591" stop-color="#2a788e"/><stop offset=".64" stop-color="#1f978b"/><stop offset=".69" stop-color="#32b67a"/><stop offset=".74" stop-color="#1e9c89"/><stop offset=".789" stop-color="#26828e"/><stop offset=".839" stop-color="#2e6f8e"/><stop offset=".889" stop-color="#375b8d"/><stop offset=".988" stop-color="#3a538b"/></linearGradient><linearGradient id="g168" x1="0" y1="0" x2="0" y2="1"><stop offset="0" stop-color="#472a7a"/><stop offset=".094" stop-color="#482878"/><stop offset=".194" stop-color="#482677"/><stop offset=".293" stop-color="#481769"/><stop offset=".392" stop-color="#482475"/><stop offset=".492" stop-color="#423f85"/><stop offset=".541" stop-color="#365d8d"/><stop offset=".591" stop-color="#2a788e"/><stop offset=".624" stop-color="#218f8d"/><stop offset=".657" stop-color="#21a585"/><stop offset=".69" stop-color="#3bbb75"/><stop offset=".74" stop-color="#1fa088"/><stop offset=".789" stop-color="#25838e"/><stop offset=".839" stop-color="#2c738e"/><stop offset=".889" stop-color="#33628d"/><stop offset=".988" stop-color="#38588c"/></linearGradient><linearGradient id="g169" x1="0" y1="0" x2="0" y2="1"><stop offset="0" stop-color="#482475"/><stop offset=".094" stop-color="#482374"/><stop offset=".194" stop-color="#482374"/><stop offset=".293" stop-color="#481467"/><stop offset=".392" stop-color="#482173"/><stop offset=".492" stop-color="#443b84"/><stop offset=".541" stop-color="#365c8d"/><stop offset=".591" stop-color="#2a788e"/><stop offset=".624" stop-color="#21918c"/><stop offset=".657" stop-color="#23a983"/><stop offset=".69" stop-color="#48c16e"/><stop offset=".74" stop-color="#20a386"/><stop offset=".789" stop-color="#25858e"/><stop offset=".889" stop-color="#30698e"/><stop offset=".988" stop-color="#365d8d"/></linearGradient><linearGradient id="g170" x1="0" y1="0" x2="0" y2="1"><stop offset="0" stop-color="#82a5e1"/><stop offset=".1" stop-color="#82a5e1"/><stop offset=".2" stop-color="#82a5e1"/><stop offset=".3" stop-color="#82a5e1"/><stop offset=".39" stop-color="#82a5e1"/><stop offset=".49" stop-color="#82a5e1"/><stop offset=".59" stop-color="#7fa2dc"/><stop offset=".69" stop-color="#547794"/><stop offset=".79" stop-color="#7c9fd8"/><stop offset=".89" stop-color="#82a5e1"/><stop offset=".99" stop-color="#82a5e1"/></linearGradient><linearGradient id="g171" x1="0" y1="0" x2="0" y2="1"><stop offset="0" stop-color="#424086"/><stop offset=".094" stop-color="#424086"/><stop offset=".194" stop-color="#443a83"/><stop offset=".293" stop-color="#443983"/><stop offset=".392" stop-color="#443983"/><stop offset=".492" stop-color="#3e4a89"/><stop offset=".541" stop-color="#32658e"/><stop offset=".591" stop-color="#277e8e"/><stop offset=".64" stop-color="#218e8d"/><stop offset=".69" stop-color="#1f9f88"/><stop offset=".74" stop-color="#218e8d"/><stop offset=".789" stop-color="#287d8e"/><stop offset=".839" stop-color="#2f6c8e"/><stop offset=".889" stop-color="#375b8d"/><stop offset=".988" stop-color="#404688"/></linearGradient><linearGradient id="g172" x1="0" y1="0" x2="0" y2="1"><stop offset="0" stop-color="#424086"/><stop offset=".094" stop-color="#424086"/><stop offset=".194" stop-color="#443983"/><stop offset=".293" stop-color="#453781"/><stop offset=".392" stop-color="#453781"/><stop offset=".492" stop-color="#3d4d8a"/><stop offset=".541" stop-color="#31678e"/><stop offset=".591" stop-color="#277f8e"/><stop offset=".69" stop-color="#1f9e89"/><stop offset=".74" stop-color="#218e8d"/><stop offset=".789" stop-color="#287d8e"/><stop offset=".839" stop-color="#2e6d8e"/><stop offset=".889" stop-color="#365c8d"/><stop offset=".988" stop-color="#3e4c8a"/></linearGradient><linearGradient id="g173" x1="0" y1="0" x2="0" y2="1"><stop offset="0" stop-color="#424086"/><stop offset=".094" stop-color="#424086"/><stop offset=".194" stop-color="#453882"/><stop offset=".293" stop-color="#46337f"/><stop offset=".392" stop-color="#463480"/><stop offset=".492" stop-color="#3c508b"/><stop offset=".541" stop-color="#30698e"/><stop offset=".591" stop-color="#26818e"/><stop offset=".69" stop-color="#1f9e89"/><stop offset=".74" stop-color="#228d8d"/><stop offset=".789" stop-color="#287d8e"/><stop offset=".839" stop-color="#2e6d8e"/><stop offset=".889" stop-color="#365d8d"/><stop offset=".988" stop-color="#3c508b"/></linearGradient><linearGradient id="g174" x1="0" y1="0" x2="0" y2="1"><stop offset="0" stop-color="#424086"/><stop offset=".094" stop-color="#424086"/><stop offset=".194" stop-color="#453781"/><stop offset=".293" stop-color="#46307e"/><stop offset=".392" stop-color="#46337f"/><stop offset=".492" stop-color="#3b528b"/><stop offset=".541" stop-color="#2f6b8e"/><stop offset=".591" stop-color="#26828e"/><stop offset=".69" stop-color="#1e9d89"/><stop offset=".74" stop-color="#228d8d"/><stop offset=".789" stop-color="#287d8e"/><stop offset=".889" stop-color="#365d8d"/><stop offset=".988" stop-color="#39558c"/></linearGradient><linearGradient id="g175" x1="0" y1="0" x2="0" y2="1"><stop offset="0" stop-color="#424086"/><stop offset=".094" stop-color="#424086"/><stop offset=".194" stop-color="#453581"/><stop offset=".293" stop-color="#472e7c"/><stop offset=".392" stop-color="#46307e"/><stop offset=".492" stop-color="#3a548c"/><stop offset=".541" stop-color="#2e6d8e"/><stop offset=".591" stop-color="#26828e"/><stop offset=".69" stop-color="#1e9d89"/><stop offset=".74" stop-color="#228d8d"/><stop offset=".789" stop-color="#287d8e"/><stop offset=".889" stop-color="#355e8d"/><stop offset=".988" stop-color="#375b8d"/></linearGradient><linearGradient id="g176" x1="0" y1="0" x2="0" y2="1"><stop offset="0" stop-color="#424086"/><stop offset=".094" stop-color="#424086"/><stop offset=".194" stop-color="#463480"/><stop offset=".293" stop-color="#472a7a"/><stop offset=".392" stop-color="#472e7c"/><stop offset=".442" stop-color="#414487"/><stop offset=".492" stop-color="#38588c"/><stop offset=".541" stop-color="#2e6f8e"/><stop offset=".591" stop-color="#25848e"/><stop offset=".69" stop-color="#1e9c89"/><stop offset=".74" stop-color="#228d8d"/><stop offset=".789" stop-color="#287d8e"/><stop offset=".889" stop-color="#355f8d"/><stop offset=".988" stop-color="#355f8d"/></linearGradient><linearGradient id="g177" x1="0" y1="0" x2="0" y2="1"><stop offset="0" stop-color="#433d84"/><stop offset=".094" stop-color="#423f85"/><stop offset=".194" stop-color="#453581"/><stop offset=".293" stop-color="#472e7c"/><stop offset=".392" stop-color="#463480"/><stop offset=".442" stop-color="#3e4989"/><stop offset=".492" stop-color="#365c8d"/><stop offset=".541" stop-color="#2c728e"/><stop offset=".591" stop-color="#24878e"/><stop offset=".69" stop-color="#21a585"/><stop offset=".74" stop-color="#20938c"/><stop offset=".789" stop-color="#26828e"/><stop offset=".889" stop-color="#33628d"/><stop offset=".988" stop-color="#33628d"/></linearGradient><linearGradient id="g178" x1="0" y1="0" x2="0" y2="1"><stop offset="0" stop-color="#443983"/><stop offset=".094" stop-color="#433e85"/><stop offset=".194" stop-color="#453781"/><stop offset=".293" stop-color="#46337f"/><stop offset=".392" stop-color="#443a83"/><stop offset=".442" stop-color="#3d4e8a"/><stop offset=".492" stop-color="#34618d"/><stop offset=".541" stop-color="#2a768e"/><stop offset=".591" stop-color="#238a8d"/><stop offset=".64" stop-color="#1e9c89"/><stop offset=".69" stop-color="#27ad81"/><stop offset=".74" stop-color="#1f9a8a"/><stop offset=".789" stop-color="#25858e"/><stop offset=".839" stop-color="#2b758e"/><stop offset=".889" stop-color="#32658e"/><stop offset=".988" stop-color="#32648e"/></linearGradient><linearGradient id="g179" x1="0" y1="0" x2="0" y2="1"><stop offset="0" stop-color="#463480"/><stop offset=".094" stop-color="#433d84"/><stop offset=".194" stop-color="#453882"/><stop offset=".293" stop-color="#453781"/><stop offset=".392" stop-color="#424086"/><stop offset=".442" stop-color="#3a538b"/><stop offset=".492" stop-color="#31668e"/><stop offset=".541" stop-color="#297a8e"/><stop offset=".591" stop-color="#228d8d"/><stop offset=".64" stop-color="#1fa187"/><stop offset=".69" stop-color="#32b67a"/><stop offset=".74" stop-color="#1fa188"/><stop offset=".789" stop-color="#238a8d"/><stop offset=".839" stop-color="#29798e"/><stop offset=".889" stop-color="#31688e"/><stop offset=".988" stop-color="#31668e"/></linearGradient><linearGradient id="g180" x1="0" y1="0" x2="0" y2="1"><stop offset="0" stop-color="#46307e"/><stop offset=".094" stop-color="#443b84"/><stop offset=".194" stop-color="#443983"/><stop offset=".293" stop-color="#443a83"/><stop offset=".392" stop-color="#404688"/><stop offset=".442" stop-color="#38598c"/><stop offset=".492" stop-color="#306a8e"/><stop offset=".541" stop-color="#287d8e"/><stop offset=".591" stop-color="#21918c"/><stop offset=".64" stop-color="#22a884"/><stop offset=".69" stop-color="#42be71"/><stop offset=".74" stop-color="#22a785"/><stop offset=".789" stop-color="#218f8d"/><stop offset=".839" stop-color="#287d8e"/><stop offset=".889" stop-color="#306a8e"/><stop offset=".988" stop-color="#30698e"/></linearGradient><linearGradient id="g181" x1="0" y1="0" x2="0" y2="1"><stop offset="0" stop-color="#472d7b"/><stop offset=".094" stop-color="#443a83"/><stop offset=".194" stop-color="#443a83"/><stop offset=".293" stop-color="#423f85"/><stop offset=".392" stop-color="#3e4c8a"/><stop offset=".442" stop-color="#355e8d"/><stop offset=".492" stop-color="#2e6f8e"/><stop offset=".541" stop-color="#26818e"/><stop offset=".591" stop-color="#20938c"/><stop offset=".64" stop-color="#27ad81"/><stop offset=".69" stop-color="#54c568"/><stop offset=".74" stop-color="#27ad81"/><stop offset=".789" stop-color="#20928c"/><stop offset=".839" stop-color="#27808e"/><stop offset=".889" stop-color="#2e6d8e"/><stop offset=".988" stop-color="#2f6b8e"/></linearGradient><linearGradient id="g182" x1="0" y1="0" x2="0" y2="1"><stop offset="0" stop-color="#82a5e1"/><stop offset=".1" stop-color="#82a5e1"/><stop offset=".2" stop-color="#82a5e1"/><stop offset=".3" stop-color="#82a5e1"/><stop offset=".39" stop-color="#82a5e1"/><stop offset=".49" stop-color="#82a5e1"/><stop offset=".59" stop-color="#779acf"/><stop offset=".69" stop-color="#5d80a3"/><stop offset=".79" stop-color="#7c9fd8"/><stop offset=".89" stop-color="#82a5e1"/><stop offset=".99" stop-color="#82a5e1"/></linearGradient><linearGradient id="g183" x1="0" y1="0" x2="0" y2="1"><stop offset="0" stop-color="#3f4889"/><stop offset=".094" stop-color="#3f4889"/><stop offset=".194" stop-color="#433e85"/><stop offset=".293" stop-color="#482979"/><stop offset=".392" stop-color="#482173"/><stop offset=".492" stop-color="#472e7c"/><stop offset=".541" stop-color="#3d4e8a"/><stop offset=".591" stop-color="#30698e"/><stop offset=".69" stop-color="#2a788e"/><stop offset=".789" stop-color="#32648e"/><stop offset=".839" stop-color="#3c508b"/><stop offset=".889" stop-color="#443983"/><stop offset=".988" stop-color="#482979"/></linearGradient><linearGradient id="g184" x1="0" y1="0" x2="0" y2="1"><stop offset="0" stop-color="#404588"/><stop offset=".094" stop-color="#404588"/><stop offset=".194" stop-color="#443a83"/><stop offset=".293" stop-color="#482878"/><stop offset=".392" stop-color="#482173"/><stop offset=".492" stop-color="#463480"/><stop offset=".541" stop-color="#3b528b"/><stop offset=".591" stop-color="#2e6e8e"/><stop offset=".69" stop-color="#25838e"/><stop offset=".789" stop-color="#2e6f8e"/><stop offset=".839" stop-color="#375a8c"/><stop offset=".889" stop-color="#414487"/><stop offset=".988" stop-color="#46337f"/></linearGradient><linearGradient id="g185" x1="0" y1="0" x2="0" y2="1"><stop offset="0" stop-color="#424186"/><stop offset=".094" stop-color="#424186"/><stop offset=".194" stop-color="#453581"/><stop offset=".293" stop-color="#482576"/><stop offset=".392" stop-color="#482173"/><stop offset=".492" stop-color="#443a83"/><stop offset=".541" stop-color="#38588c"/><stop offset=".591" stop-color="#2c718e"/><stop offset=".69" stop-color="#218e8d"/><stop offset=".789" stop-color="#2a788e"/><stop offset=".839" stop-color="#32648e"/><stop offset=".889" stop-color="#3d4e8a"/><stop offset=".988" stop-color="#433e85"/></linearGradient><linearGradient id="g186" x1="0" y1="0" x2="0" y2="1"><stop offset="0" stop-color="#423f85"/><stop offset=".094" stop-color="#423f85"/><stop offset=".194" stop-color="#46327e"/><stop offset=".293" stop-color="#482475"/><stop offset=".392" stop-color="#482173"/><stop offset=".492" stop-color="#424086"/><stop offset=".541" stop-color="#365d8d"/><stop offset=".591" stop-color="#2a768e"/><stop offset=".64" stop-color="#24878e"/><stop offset=".69" stop-color="#1f988b"/><stop offset=".789" stop-color="#26828e"/><stop offset=".839" stop-color="#2e6d8e"/><stop offset=".889" stop-color="#39568c"/><stop offset=".988" stop-color="#3f4788"/></linearGradient><linearGradient id="g187" x1="0" y1="0" x2="0" y2="1"><stop offset="0" stop-color="#443b84"/><stop offset=".094" stop-color="#443b84"/><stop offset=".194" stop-color="#472d7b"/><stop offset=".293" stop-color="#482173"/><stop offset=".392" stop-color="#482173"/><stop offset=".492" stop-color="#404688"/><stop offset=".541" stop-color="#33628d"/><stop offset=".591" stop-color="#297b8e"/><stop offset=".64" stop-color="#218f8d"/><stop offset=".69" stop-color="#1fa287"/><stop offset=".789" stop-color="#228b8d"/><stop offset=".839" stop-color="#2a768e"/><stop offset=".889" stop-color="#34608d"/><stop offset=".988" stop-color="#3c508b"/></linearGradient><linearGradient id="g188" x1="0" y1="0" x2="0" y2="1"><stop offset="0" stop-color="#443983"/><stop offset=".094" stop-color="#443a83"/><stop offset=".194" stop-color="#472c7a"/><stop offset=".293" stop-color="#482475"/><stop offset=".392" stop-color="#482576"/><stop offset=".442" stop-color="#443a83"/><stop offset=".492" stop-color="#3d4e8a"/><stop offset=".541" stop-color="#31688e"/><stop offset=".591" stop-color="#27808e"/><stop offset=".64" stop-color="#1f998a"/><stop offset=".69" stop-color="#2cb17e"/><stop offset=".789" stop-color="#1f998a"/><stop offset=".839" stop-color="#26828e"/><stop offset=".889" stop-color="#2f6c8e"/><stop offset=".988" stop-color="#365c8d"/></linearGradient><linearGradient id="g189" x1="0" y1="0" x2="0" y2="1"><stop offset="0" stop-color="#453581"/><stop offset=".094" stop-color="#443a83"/><stop offset=".194" stop-color="#472f7d"/><stop offset=".293" stop-color="#482979"/><stop offset=".392" stop-color="#472d7b"/><stop offset=".442" stop-color="#414287"/><stop offset=".492" stop-color="#39558c"/><stop offset=".541" stop-color="#2e6f8e"/><stop offset=".591" stop-color="#24868e"/><stop offset=".624" stop-color="#1e9b8a"/><stop offset=".657" stop-color="#2ab07f"/><stop offset=".69" stop-color="#4ec36b"/><stop offset=".789" stop-color="#25ac82"/><stop offset=".839" stop-color="#20938c"/><stop offset=".889" stop-color="#297a8e"/><stop offset=".988" stop-color="#30698e"/></linearGradient><linearGradient id="g190" x1="0" y1="0" x2="0" y2="1"><stop offset="0" stop-color="#46337f"/><stop offset=".094" stop-color="#443a83"/><stop offset=".194" stop-color="#46337f"/><stop offset=".293" stop-color="#472e7c"/><stop offset=".392" stop-color="#463480"/><stop offset=".442" stop-color="#3e4989"/><stop offset=".492" stop-color="#355e8d"/><stop offset=".541" stop-color="#2b758e"/><stop offset=".591" stop-color="#228d8d"/><stop offset=".624" stop-color="#21a685"/><stop offset=".657" stop-color="#40bd72"/><stop offset=".69" stop-color="#7ad151"/><stop offset=".789" stop-color="#3fbc73"/><stop offset=".839" stop-color="#20a386"/><stop offset=".889" stop-color="#23898e"/><stop offset=".988" stop-color="#2b758e"/></linearGradient><linearGradient id="g191" x1="0" y1="0" x2="0" y2="1"><stop offset="0" stop-color="#472f7d"/><stop offset=".094" stop-color="#443a83"/><stop offset=".194" stop-color="#453581"/><stop offset=".293" stop-color="#46337f"/><stop offset=".392" stop-color="#443b84"/><stop offset=".442" stop-color="#3b518b"/><stop offset=".492" stop-color="#31668e"/><stop offset=".541" stop-color="#287d8e"/><stop offset=".591" stop-color="#20928c"/><stop offset=".624" stop-color="#2ab07f"/><stop offset=".657" stop-color="#60ca60"/><stop offset=".69" stop-color="#b0dd2f"/><stop offset=".789" stop-color="#67cc5c"/><stop offset=".839" stop-color="#2eb37c"/><stop offset=".889" stop-color="#1f978b"/><stop offset=".988" stop-color="#26828e"/></linearGradient><linearGradient id="g192" x1="0" y1="0" x2="0" y2="1"><stop offset="0" stop-color="#472d7b"/><stop offset=".094" stop-color="#443a83"/><stop offset=".194" stop-color="#443983"/><stop offset=".293" stop-color="#453882"/><stop offset=".392" stop-color="#414287"/><stop offset=".442" stop-color="#38598c"/><stop offset=".492" stop-color="#2e6d8e"/><stop offset=".541" stop-color="#25838e"/><stop offset=".591" stop-color="#1f998a"/><stop offset=".616" stop-color="#2db27d"/><stop offset=".64" stop-color="#5cc863"/><stop offset=".665" stop-color="#9dd93b"/><stop offset=".69" stop-color="#e5e419"/><stop offset=".789" stop-color="#95d840"/><stop offset=".839" stop-color="#4cc26c"/><stop offset=".889" stop-color="#21a685"/><stop offset=".988" stop-color="#218f8d"/></linearGradient><linearGradient id="g193" x1="0" y1="0" x2="0" y2="1"><stop offset="0" stop-color="#82a5e1"/><stop offset=".1" stop-color="#82a5e1"/><stop offset=".2" stop-color="#82a5e1"/><stop offset=".3" stop-color="#82a5e1"/><stop offset=".39" stop-color="#82a5e1"/><stop offset=".49" stop-color="#82a5e1"/><stop offset=".59" stop-color="#7c9fd8"/><stop offset=".69" stop-color="#4e708a"/><stop offset=".79" stop-color="#6b8ebb"/><stop offset=".89" stop-color="#82a5e1"/><stop offset=".99" stop-color="#82a5e1"/></linearGradient><linearGradient id="g194" x1="0" y1="0" x2="0" y2="1"><stop offset=".005" stop-color="#3e4989"/><stop offset=".103" stop-color="#3e4989"/><stop offset=".201" stop-color="#414487"/><stop offset=".3" stop-color="#453882"/><stop offset=".398" stop-color="#433d84"/><stop offset=".496" stop-color="#3d4d8a"/><stop offset=".546" stop-color="#34618d"/><stop offset=".595" stop-color="#2c728e"/><stop offset=".627" stop-color="#228c8d"/><stop offset=".66" stop-color="#21a585"/><stop offset=".693" stop-color="#40bd72"/><stop offset=".726" stop-color="#20a386"/><stop offset=".759" stop-color="#23888e"/><stop offset=".791" stop-color="#2e6d8e"/><stop offset=".824" stop-color="#39558c"/><stop offset=".857" stop-color="#443b84"/><stop offset=".89" stop-color="#481f70"/><stop offset=".988" stop-color="#481d6f"/></linearGradient><linearGradient id="g195" x1="0" y1="0" x2="0" y2="1"><stop offset=".005" stop-color="#3f4788"/><stop offset=".103" stop-color="#3f4788"/><stop offset=".201" stop-color="#424186"/><stop offset=".3" stop-color="#463480"/><stop offset=".398" stop-color="#453781"/><stop offset=".496" stop-color="#3f4788"/><stop offset=".546" stop-color="#365d8d"/><stop offset=".595" stop-color="#2c718e"/><stop offset=".627" stop-color="#24878e"/><stop offset=".66" stop-color="#1e9d89"/><stop offset=".693" stop-color="#2db27d"/><stop offset=".726" stop-color="#1e9b8a"/><stop offset=".759" stop-color="#26828e"/><stop offset=".791" stop-color="#306a8e"/><stop offset=".841" stop-color="#3e4989"/><stop offset=".89" stop-color="#482374"/><stop offset=".988" stop-color="#481f70"/></linearGradient><linearGradient id="g196" x1="0" y1="0" x2="0" y2="1"><stop offset=".005" stop-color="#404588"/><stop offset=".103" stop-color="#404588"/><stop offset=".201" stop-color="#423f85"/><stop offset=".3" stop-color="#46327e"/><stop offset=".398" stop-color="#46307e"/><stop offset=".496" stop-color="#424086"/><stop offset=".546" stop-color="#375a8c"/><stop offset=".595" stop-color="#2d708e"/><stop offset=".644" stop-color="#228b8d"/><stop offset=".693" stop-color="#21a685"/><stop offset=".742" stop-color="#24878e"/><stop offset=".791" stop-color="#31688e"/><stop offset=".841" stop-color="#3e4989"/><stop offset=".89" stop-color="#482677"/><stop offset=".988" stop-color="#482071"/></linearGradient><linearGradient id="g197" x1="0" y1="0" x2="0" y2="1"><stop offset=".005" stop-color="#414487"/><stop offset=".103" stop-color="#414487"/><stop offset=".201" stop-color="#433d84"/><stop offset=".3" stop-color="#472f7d"/><stop offset=".398" stop-color="#472c7a"/><stop offset=".496" stop-color="#443a83"/><stop offset=".546" stop-color="#39558c"/><stop offset=".595" stop-color="#2e6f8e"/><stop offset=".644" stop-color="#25848e"/><stop offset=".693" stop-color="#1f9a8a"/><stop offset=".742" stop-color="#27808e"/><stop offset=".791" stop-color="#32658e"/><stop offset=".841" stop-color="#3e4989"/><stop offset=".89" stop-color="#472a7a"/><stop offset=".988" stop-color="#482173"/></linearGradient><linearGradient id="g198" x1="0" y1="0" x2="0" y2="1"><stop offset=".005" stop-color="#424186"/><stop offset=".103" stop-color="#424186"/><stop offset=".201" stop-color="#443b84"/><stop offset=".3" stop-color="#472c7a"/><stop offset=".398" stop-color="#482576"/><stop offset=".496" stop-color="#46337f"/><stop offset=".546" stop-color="#3b528b"/><stop offset=".595" stop-color="#2e6d8e"/><stop offset=".644" stop-color="#277e8e"/><stop offset=".693" stop-color="#218e8d"/><stop offset=".742" stop-color="#2a788e"/><stop offset=".791" stop-color="#33628d"/><stop offset=".841" stop-color="#3e4989"/><stop offset=".89" stop-color="#472e7c"/><stop offset=".988" stop-color="#482374"/></linearGradient><linearGradient id="g199" x1="0" y1="0" x2="0" y2="1"><stop offset=".005" stop-color="#423f85"/><stop offset=".103" stop-color="#423f85"/><stop offset=".201" stop-color="#443983"/><stop offset=".3" stop-color="#482979"/><stop offset=".398" stop-color="#481f70"/><stop offset=".496" stop-color="#472d7b"/><stop offset=".546" stop-color="#3d4e8a"/><stop offset=".595" stop-color="#2f6c8e"/><stop offset=".693" stop-color="#26828e"/><stop offset=".742" stop-color="#2d718e"/><stop offset=".791" stop-color="#355f8d"/><stop offset=".841" stop-color="#3e4989"/><stop offset=".89" stop-color="#46307e"/><stop offset=".988" stop-color="#482475"/></linearGradient><linearGradient id="g200" x1="0" y1="0" x2="0" y2="1"><stop offset=".005" stop-color="#443b84"/><stop offset=".103" stop-color="#443b84"/><stop offset=".201" stop-color="#453781"/><stop offset=".3" stop-color="#472a7a"/><stop offset=".398" stop-color="#482475"/><stop offset=".496" stop-color="#46327e"/><stop offset=".546" stop-color="#3b528b"/><stop offset=".595" stop-color="#2e6f8e"/><stop offset=".693" stop-color="#23888e"/><stop offset=".742" stop-color="#2a778e"/><stop offset=".791" stop-color="#32658e"/><stop offset=".841" stop-color="#3c508b"/><stop offset=".89" stop-color="#453882"/><stop offset=".988" stop-color="#482878"/></linearGradient><linearGradient id="g201" x1="0" y1="0" x2="0" y2="1"><stop offset=".005" stop-color="#443983"/><stop offset=".103" stop-color="#443983"/><stop offset=".201" stop-color="#453581"/><stop offset=".3" stop-color="#472d7b"/><stop offset=".398" stop-color="#482979"/><stop offset=".496" stop-color="#453781"/><stop offset=".546" stop-color="#39558c"/><stop offset=".595" stop-color="#2d718e"/><stop offset=".693" stop-color="#21908d"/><stop offset=".742" stop-color="#287d8e"/><stop offset=".791" stop-color="#2f6b8e"/><stop offset=".841" stop-color="#39558c"/><stop offset=".89" stop-color="#423f85"/><stop offset=".988" stop-color="#472c7a"/></linearGradient><linearGradient id="g202" x1="0" y1="0" x2="0" y2="1"><stop offset=".005" stop-color="#453781"/><stop offset=".103" stop-color="#453781"/><stop offset=".201" stop-color="#46337f"/><stop offset=".3" stop-color="#472e7c"/><stop offset=".398" stop-color="#472e7c"/><stop offset=".496" stop-color="#433d84"/><stop offset=".546" stop-color="#38598c"/><stop offset=".595" stop-color="#2c728e"/><stop offset=".644" stop-color="#25848e"/><stop offset=".693" stop-color="#1f968b"/><stop offset=".742" stop-color="#25838e"/><stop offset=".791" stop-color="#2d718e"/><stop offset=".841" stop-color="#365c8d"/><stop offset=".89" stop-color="#404688"/><stop offset=".988" stop-color="#472f7d"/></linearGradient><linearGradient id="g203" x1="0" y1="0" x2="0" y2="1"><stop offset=".005" stop-color="#46337f"/><stop offset=".103" stop-color="#46337f"/><stop offset=".201" stop-color="#46327e"/><stop offset=".3" stop-color="#46307e"/><stop offset=".398" stop-color="#46337f"/><stop offset=".496" stop-color="#424186"/><stop offset=".546" stop-color="#365d8d"/><stop offset=".595" stop-color="#2b758e"/><stop offset=".644" stop-color="#23898e"/><stop offset=".693" stop-color="#1e9d89"/><stop offset=".742" stop-color="#23898e"/><stop offset=".791" stop-color="#2b758e"/><stop offset=".841" stop-color="#33628d"/><stop offset=".89" stop-color="#3d4d8a"/><stop offset=".988" stop-color="#46337f"/></linearGradient><linearGradient id="g204" x1="0" y1="0" x2="0" y2="1"><stop offset=".005" stop-color="#46307e"/><stop offset=".103" stop-color="#46307e"/><stop offset=".201" stop-color="#472f7d"/><stop offset=".3" stop-color="#46327e"/><stop offset=".398" stop-color="#453882"/><stop offset=".496" stop-color="#404688"/><stop offset=".546" stop-color="#34608d"/><stop offset=".595" stop-color="#2a778e"/><stop offset=".644" stop-color="#218e8d"/><stop offset=".693" stop-color="#20a386"/><stop offset=".742" stop-color="#21908d"/><stop offset=".791" stop-color="#297b8e"/><stop offset=".841" stop-color="#31688e"/><stop offset=".89" stop-color="#3b528b"/><stop offset=".988" stop-color="#453781"/></linearGradient><linearGradient id="g205" x1="0" y1="0" x2="0" y2="1"><stop offset=".005" stop-color="#472f7d"/><stop offset=".103" stop-color="#472e7c"/><stop offset=".201" stop-color="#472e7c"/><stop offset=".3" stop-color="#472f7d"/><stop offset=".398" stop-color="#453581"/><stop offset=".496" stop-color="#3f4788"/><stop offset=".546" stop-color="#34608d"/><stop offset=".595" stop-color="#2a768e"/><stop offset=".644" stop-color="#218e8d"/><stop offset=".693" stop-color="#21a685"/><stop offset=".742" stop-color="#21918c"/><stop offset=".791" stop-color="#287c8e"/><stop offset=".841" stop-color="#31688e"/><stop offset=".89" stop-color="#3b528b"/><stop offset=".988" stop-color="#443983"/></linearGradient><linearGradient id="g206" x1="0" y1="0" x2="0" y2="1"><stop offset=".005" stop-color="#472f7d"/><stop offset=".103" stop-color="#472d7b"/><stop offset=".201" stop-color="#472c7a"/><stop offset=".3" stop-color="#472c7a"/><stop offset=".398" stop-color="#46327e"/><stop offset=".496" stop-color="#3f4788"/><stop offset=".546" stop-color="#355f8d"/><stop offset=".595" stop-color="#2b748e"/><stop offset=".644" stop-color="#228d8d"/><stop offset=".693" stop-color="#21a685"/><stop offset=".742" stop-color="#21918c"/><stop offset=".791" stop-color="#297b8e"/><stop offset=".841" stop-color="#31668e"/><stop offset=".89" stop-color="#3d4e8a"/><stop offset=".988" stop-color="#443b84"/></linearGradient><linearGradient id="g207" x1="0" y1="0" x2="0" y2="1"><stop offset=".005" stop-color="#472f7d"/><stop offset=".103" stop-color="#472c7a"/><stop offset=".201" stop-color="#472a7a"/><stop offset=".3" stop-color="#482878"/><stop offset=".398" stop-color="#472e7c"/><stop offset=".496" stop-color="#404688"/><stop offset=".546" stop-color="#365d8d"/><stop offset=".595" stop-color="#2c728e"/><stop offset=".644" stop-color="#228c8d"/><stop offset=".693" stop-color="#21a685"/><stop offset=".742" stop-color="#21908d"/><stop offset=".791" stop-color="#297a8e"/><stop offset=".841" stop-color="#32648e"/><stop offset=".89" stop-color="#3e4a89"/><stop offset=".988" stop-color="#433e85"/></linearGradient><linearGradient id="g208" x1="0" y1="0" x2="0" y2="1"><stop offset=".005" stop-color="#472f7d"/><stop offset=".103" stop-color="#472a7a"/><stop offset=".201" stop-color="#482878"/><stop offset=".3" stop-color="#482374"/><stop offset=".398" stop-color="#472a7a"/><stop offset=".496" stop-color="#404688"/><stop offset=".546" stop-color="#365c8d"/><stop offset=".595" stop-color="#2d718e"/><stop offset=".644" stop-color="#228b8d"/><stop offset=".693" stop-color="#21a685"/><stop offset=".742" stop-color="#21908d"/><stop offset=".791" stop-color="#29798e"/><stop offset=".841" stop-color="#34618d"/><stop offset=".89" stop-color="#3f4788"/><stop offset=".988" stop-color="#424186"/></linearGradient><linearGradient id="g209" x1="0" y1="0" x2="0" y2="1"><stop offset=".005" stop-color="#472f7d"/><stop offset=".103" stop-color="#482979"/><stop offset=".201" stop-color="#482576"/><stop offset=".3" stop-color="#481f70"/><stop offset=".398" stop-color="#482576"/><stop offset=".496" stop-color="#404588"/><stop offset=".546" stop-color="#375b8d"/><stop offset=".595" stop-color="#2e6f8e"/><stop offset=".644" stop-color="#238a8d"/><stop offset=".693" stop-color="#21a585"/><stop offset=".742" stop-color="#218f8d"/><stop offset=".791" stop-color="#2a788e"/><stop offset=".841" stop-color="#355f8d"/><stop offset=".89" stop-color="#414487"/><stop offset=".988" stop-color="#414487"/></linearGradient><linearGradient id="g210" x1="0" y1="0" x2="0" y2="1"><stop offset=".005" stop-color="#46307e"/><stop offset=".103" stop-color="#472c7a"/><stop offset=".201" stop-color="#482677"/><stop offset=".3" stop-color="#482071"/><stop offset=".398" stop-color="#482677"/><stop offset=".496" stop-color="#3f4788"/><stop offset=".546" stop-color="#365d8d"/><stop offset=".595" stop-color="#2c718e"/><stop offset=".644" stop-color="#228b8d"/><stop offset=".693" stop-color="#20a486"/><stop offset=".742" stop-color="#218f8d"/><stop offset=".791" stop-color="#29798e"/><stop offset=".841" stop-color="#33638d"/><stop offset=".89" stop-color="#3e4a89"/><stop offset=".988" stop-color="#3e4a89"/></linearGradient><linearGradient id="g211" x1="0" y1="0" x2="0" y2="1"><stop offset=".005" stop-color="#46307e"/><stop offset=".103" stop-color="#472d7b"/><stop offset=".201" stop-color="#482878"/><stop offset=".3" stop-color="#482374"/><stop offset=".398" stop-color="#482878"/><stop offset=".496" stop-color="#3f4889"/><stop offset=".546" stop-color="#34608d"/><stop offset=".595" stop-color="#2b748e"/><stop offset=".644" stop-color="#228c8d"/><stop offset=".693" stop-color="#1fa287"/><stop offset=".742" stop-color="#218f8d"/><stop offset=".791" stop-color="#297a8e"/><stop offset=".841" stop-color="#31668e"/><stop offset=".89" stop-color="#3c508b"/><stop offset=".988" stop-color="#3c508b"/></linearGradient><linearGradient id="g212" x1="0" y1="0" x2="0" y2="1"><stop offset=".005" stop-color="#46327e"/><stop offset=".103" stop-color="#472f7d"/><stop offset=".201" stop-color="#482878"/><stop offset=".3" stop-color="#482475"/><stop offset=".398" stop-color="#482878"/><stop offset=".496" stop-color="#3e4a89"/><stop offset=".546" stop-color="#33628d"/><stop offset=".595" stop-color="#2a788e"/><stop offset=".644" stop-color="#228d8d"/><stop offset=".693" stop-color="#1fa188"/><stop offset=".742" stop-color="#218e8d"/><stop offset=".791" stop-color="#297b8e"/><stop offset=".841" stop-color="#30698e"/><stop offset=".89" stop-color="#39568c"/><stop offset=".988" stop-color="#39568c"/></linearGradient><linearGradient id="g213" x1="0" y1="0" x2="0" y2="1"><stop offset=".005" stop-color="#46327e"/><stop offset=".103" stop-color="#46327e"/><stop offset=".201" stop-color="#482979"/><stop offset=".3" stop-color="#482576"/><stop offset=".398" stop-color="#482979"/><stop offset=".496" stop-color="#3d4d8a"/><stop offset=".546" stop-color="#32658e"/><stop offset=".595" stop-color="#297b8e"/><stop offset=".644" stop-color="#228d8d"/><stop offset=".693" stop-color="#1fa088"/><stop offset=".742" stop-color="#218e8d"/><stop offset=".791" stop-color="#287c8e"/><stop offset=".841" stop-color="#2e6d8e"/><stop offset=".89" stop-color="#365c8d"/><stop offset=".988" stop-color="#365c8d"/></linearGradient><linearGradient id="g214" x1="0" y1="0" x2="0" y2="1"><stop offset=".005" stop-color="#46327e"/><stop offset=".103" stop-color="#46327e"/><stop offset=".201" stop-color="#482979"/><stop offset=".3" stop-color="#482576"/><stop offset=".398" stop-color="#482878"/><stop offset=".496" stop-color="#3d4d8a"/><stop offset=".546" stop-color="#31668e"/><stop offset=".595" stop-color="#287d8e"/><stop offset=".644" stop-color="#218f8d"/><stop offset=".693" stop-color="#1fa088"/><stop offset=".742" stop-color="#218f8d"/><stop offset=".791" stop-color="#277e8e"/><stop offset=".89" stop-color="#34618d"/><stop offset=".988" stop-color="#355f8d"/></linearGradient><linearGradient id="g215" x1="0" y1="0" x2="0" y2="1"><stop offset=".005" stop-color="#46307e"/><stop offset=".103" stop-color="#46307e"/><stop offset=".201" stop-color="#482878"/><stop offset=".3" stop-color="#482475"/><stop offset=".398" stop-color="#482677"/><stop offset=".496" stop-color="#3e4c8a"/><stop offset=".546" stop-color="#31668e"/><stop offset=".595" stop-color="#287d8e"/><stop offset=".644" stop-color="#21908d"/><stop offset=".693" stop-color="#1fa287"/><stop offset=".742" stop-color="#20928c"/><stop offset=".791" stop-color="#26818e"/><stop offset=".89" stop-color="#32648e"/><stop offset=".988" stop-color="#355f8d"/></linearGradient><linearGradient id="g216" x1="0" y1="0" x2="0" y2="1"><stop offset=".005" stop-color="#472f7d"/><stop offset=".103" stop-color="#472f7d"/><stop offset=".201" stop-color="#482576"/><stop offset=".3" stop-color="#482374"/><stop offset=".398" stop-color="#482475"/><stop offset=".496" stop-color="#3e4a89"/><stop offset=".546" stop-color="#32658e"/><stop offset=".595" stop-color="#287d8e"/><stop offset=".644" stop-color="#20928c"/><stop offset=".693" stop-color="#21a585"/><stop offset=".742" stop-color="#1f948c"/><stop offset=".791" stop-color="#25838e"/><stop offset=".89" stop-color="#31678e"/><stop offset=".988" stop-color="#355f8d"/></linearGradient><linearGradient id="g217" x1="0" y1="0" x2="0" y2="1"><stop offset=".005" stop-color="#472e7c"/><stop offset=".103" stop-color="#472e7c"/><stop offset=".201" stop-color="#482475"/><stop offset=".3" stop-color="#482173"/><stop offset=".398" stop-color="#482374"/><stop offset=".496" stop-color="#3e4989"/><stop offset=".546" stop-color="#32658e"/><stop offset=".595" stop-color="#287d8e"/><stop offset=".644" stop-color="#20928c"/><stop offset=".693" stop-color="#22a884"/><stop offset=".742" stop-color="#1f978b"/><stop offset=".791" stop-color="#24868e"/><stop offset=".89" stop-color="#306a8e"/><stop offset=".988" stop-color="#355f8d"/></linearGradient><linearGradient id="g218" x1="0" y1="0" x2="0" y2="1"><stop offset=".005" stop-color="#472d7b"/><stop offset=".103" stop-color="#472d7b"/><stop offset=".201" stop-color="#482374"/><stop offset=".3" stop-color="#482071"/><stop offset=".398" stop-color="#482071"/><stop offset=".496" stop-color="#3f4889"/><stop offset=".546" stop-color="#32648e"/><stop offset=".595" stop-color="#287d8e"/><stop offset=".644" stop-color="#1f948c"/><stop offset=".693" stop-color="#25ab82"/><stop offset=".742" stop-color="#1f9a8a"/><stop offset=".791" stop-color="#23898e"/><stop offset=".89" stop-color="#2e6d8e"/><stop offset=".988" stop-color="#355f8d"/></linearGradient><linearGradient id="g219" x1="0" y1="0" x2="0" y2="1"><stop offset=".005" stop-color="#472c7a"/><stop offset=".103" stop-color="#472d7b"/><stop offset=".201" stop-color="#482475"/><stop offset=".3" stop-color="#482071"/><stop offset=".398" stop-color="#482374"/><stop offset=".447" stop-color="#453882"/><stop offset=".496" stop-color="#3e4c8a"/><stop offset=".546" stop-color="#31668e"/><stop offset=".595" stop-color="#277f8e"/><stop offset=".644" stop-color="#1f968b"/><stop offset=".693" stop-color="#27ad81"/><stop offset=".742" stop-color="#1e9d89"/><stop offset=".791" stop-color="#228c8d"/><stop offset=".89" stop-color="#2e6f8e"/><stop offset=".988" stop-color="#34618d"/></linearGradient><linearGradient id="g220" x1="0" y1="0" x2="0" y2="1"><stop offset=".005" stop-color="#472a7a"/><stop offset=".103" stop-color="#472d7b"/><stop offset=".201" stop-color="#482677"/><stop offset=".3" stop-color="#482576"/><stop offset=".398" stop-color="#472e7c"/><stop offset=".447" stop-color="#414287"/><stop offset=".496" stop-color="#3a548c"/><stop offset=".546" stop-color="#2e6d8e"/><stop offset=".595" stop-color="#26828e"/><stop offset=".644" stop-color="#1f9a8a"/><stop offset=".693" stop-color="#2cb17e"/><stop offset=".742" stop-color="#1fa088"/><stop offset=".791" stop-color="#218e8d"/><stop offset=".89" stop-color="#2c718e"/><stop offset=".988" stop-color="#32658e"/></linearGradient><linearGradient id="g221" x1="0" y1="0" x2="0" y2="1"><stop offset=".005" stop-color="#482979"/><stop offset=".103" stop-color="#472d7b"/><stop offset=".201" stop-color="#482979"/><stop offset=".3" stop-color="#482979"/><stop offset=".398" stop-color="#443983"/><stop offset=".447" stop-color="#3d4d8a"/><stop offset=".496" stop-color="#355e8d"/><stop offset=".546" stop-color="#2c728e"/><stop offset=".595" stop-color="#24868e"/><stop offset=".644" stop-color="#1e9d89"/><stop offset=".693" stop-color="#2fb47c"/><stop offset=".742" stop-color="#1fa287"/><stop offset=".791" stop-color="#21908d"/><stop offset=".89" stop-color="#2c738e"/><stop offset=".988" stop-color="#30698e"/></linearGradient><linearGradient id="g222" x1="0" y1="0" x2="0" y2="1"><stop offset=".005" stop-color="#482878"/><stop offset=".103" stop-color="#472d7b"/><stop offset=".201" stop-color="#472c7a"/><stop offset=".3" stop-color="#472d7b"/><stop offset=".398" stop-color="#414487"/><stop offset=".447" stop-color="#39558c"/><stop offset=".496" stop-color="#31678e"/><stop offset=".546" stop-color="#29798e"/><stop offset=".595" stop-color="#238a8d"/><stop offset=".644" stop-color="#1fa188"/><stop offset=".693" stop-color="#34b679"/><stop offset=".742" stop-color="#20a486"/><stop offset=".791" stop-color="#20928c"/><stop offset=".89" stop-color="#2b758e"/><stop offset=".988" stop-color="#2e6e8e"/></linearGradient><linearGradient id="g223" x1="0" y1="0" x2="0" y2="1"><stop offset=".005" stop-color="#482677"/><stop offset=".103" stop-color="#472d7b"/><stop offset=".201" stop-color="#472e7c"/><stop offset=".3" stop-color="#46307e"/><stop offset=".398" stop-color="#3d4d8a"/><stop offset=".447" stop-color="#355f8d"/><stop offset=".496" stop-color="#2d708e"/><stop offset=".595" stop-color="#218f8d"/><stop offset=".644" stop-color="#20a486"/><stop offset=".693" stop-color="#38b977"/><stop offset=".742" stop-color="#22a785"/><stop offset=".791" stop-color="#1f948c"/><stop offset=".89" stop-color="#2a778e"/><stop offset=".988" stop-color="#2c718e"/></linearGradient><linearGradient id="g224" x1="0" y1="0" x2="0" y2="1"><stop offset=".005" stop-color="#482576"/><stop offset=".103" stop-color="#472a7a"/><stop offset=".201" stop-color="#472e7c"/><stop offset=".3" stop-color="#472f7d"/><stop offset=".398" stop-color="#3d4e8a"/><stop offset=".447" stop-color="#34608d"/><stop offset=".496" stop-color="#2c718e"/><stop offset=".595" stop-color="#21908d"/><stop offset=".644" stop-color="#21a685"/><stop offset=".693" stop-color="#3bbb75"/><stop offset=".742" stop-color="#22a884"/><stop offset=".791" stop-color="#1f948c"/><stop offset=".89" stop-color="#2a788e"/><stop offset=".988" stop-color="#2c728e"/></linearGradient><linearGradient id="g225" x1="0" y1="0" x2="0" y2="1"><stop offset=".005" stop-color="#482475"/><stop offset=".103" stop-color="#482878"/><stop offset=".201" stop-color="#472a7a"/><stop offset=".3" stop-color="#472c7a"/><stop offset=".398" stop-color="#404688"/><stop offset=".447" stop-color="#375b8d"/><stop offset=".496" stop-color="#2e6f8e"/><stop offset=".546" stop-color="#277f8e"/><stop offset=".595" stop-color="#218f8d"/><stop offset=".644" stop-color="#21a685"/><stop offset=".693" stop-color="#3dbc74"/><stop offset=".742" stop-color="#22a884"/><stop offset=".791" stop-color="#20938c"/><stop offset=".89" stop-color="#2a788e"/><stop offset=".988" stop-color="#2d718e"/></linearGradient><linearGradient id="g226" x1="0" y1="0" x2="0" y2="1"><stop offset=".005" stop-color="#482374"/><stop offset=".103" stop-color="#482677"/><stop offset=".201" stop-color="#482878"/><stop offset=".3" stop-color="#482677"/><stop offset=".398" stop-color="#433d84"/><stop offset=".447" stop-color="#39558c"/><stop offset=".496" stop-color="#2f6c8e"/><stop offset=".546" stop-color="#287d8e"/><stop offset=".595" stop-color="#218e8d"/><stop offset=".644" stop-color="#21a685"/><stop offset=".693" stop-color="#3fbc73"/><stop offset=".742" stop-color="#22a884"/><stop offset=".791" stop-color="#20928c"/><stop offset=".89" stop-color="#2a788e"/><stop offset=".988" stop-color="#2e6f8e"/></linearGradient><linearGradient id="g227" x1="0" y1="0" x2="0" y2="1"><stop offset=".005" stop-color="#482173"/><stop offset=".103" stop-color="#482475"/><stop offset=".201" stop-color="#482475"/><stop offset=".3" stop-color="#482173"/><stop offset=".398" stop-color="#463480"/><stop offset=".447" stop-color="#3c508b"/><stop offset=".496" stop-color="#30698e"/><stop offset=".546" stop-color="#297b8e"/><stop offset=".595" stop-color="#228d8d"/><stop offset=".644" stop-color="#21a685"/><stop offset=".693" stop-color="#40bd72"/><stop offset=".742" stop-color="#22a884"/><stop offset=".791" stop-color="#20928c"/><stop offset=".89" stop-color="#2a788e"/><stop offset=".988" stop-color="#2e6d8e"/></linearGradient><linearGradient id="g228" x1="0" y1="0" x2="0" y2="1"><stop offset=".005" stop-color="#482071"/><stop offset=".103" stop-color="#482173"/><stop offset=".201" stop-color="#482173"/><stop offset=".3" stop-color="#481c6e"/><stop offset=".398" stop-color="#472c7a"/><stop offset=".447" stop-color="#3e4a89"/><stop offset=".496" stop-color="#31668e"/><stop offset=".546" stop-color="#29798e"/><stop offset=".595" stop-color="#228c8d"/><stop offset=".644" stop-color="#21a685"/><stop offset=".693" stop-color="#42be71"/><stop offset=".742" stop-color="#22a884"/><stop offset=".791" stop-color="#21918c"/><stop offset=".89" stop-color="#2a788e"/><stop offset=".988" stop-color="#2f6b8e"/></linearGradient><linearGradient id="g229" x1="0" y1="0" x2="0" y2="1"><stop offset=".005" stop-color="#482071"/><stop offset=".103" stop-color="#482071"/><stop offset=".201" stop-color="#482071"/><stop offset=".3" stop-color="#481b6d"/><stop offset=".398" stop-color="#482979"/><stop offset=".447" stop-color="#3e4989"/><stop offset=".496" stop-color="#31678e"/><stop offset=".546" stop-color="#297a8e"/><stop offset=".595" stop-color="#228d8d"/><stop offset=".644" stop-color="#23a983"/><stop offset=".693" stop-color="#4ec36b"/><stop offset=".742" stop-color="#27ad81"/><stop offset=".791" stop-color="#1f968b"/><stop offset=".89" stop-color="#287c8e"/><stop offset=".988" stop-color="#2f6c8e"/></linearGradient><linearGradient id="g230" x1="0" y1="0" x2="0" y2="1"><stop offset=".005" stop-color="#482173"/><stop offset=".103" stop-color="#482475"/><stop offset=".201" stop-color="#482475"/><stop offset=".3" stop-color="#482173"/><stop offset=".398" stop-color="#453581"/><stop offset=".447" stop-color="#3a538b"/><stop offset=".496" stop-color="#2e6d8e"/><stop offset=".546" stop-color="#27808e"/><stop offset=".595" stop-color="#20928c"/><stop offset=".627" stop-color="#22a884"/><stop offset=".66" stop-color="#3fbc73"/><stop offset=".693" stop-color="#70cf57"/><stop offset=".742" stop-color="#42be71"/><stop offset=".791" stop-color="#24aa83"/><stop offset=".841" stop-color="#1f988b"/><stop offset=".89" stop-color="#24868e"/><stop offset=".988" stop-color="#2b748e"/></linearGradient><linearGradient id="g231" x1="0" y1="0" x2="0" y2="1"><stop offset=".005" stop-color="#482475"/><stop offset=".103" stop-color="#482979"/><stop offset=".201" stop-color="#482979"/><stop offset=".3" stop-color="#482878"/><stop offset=".398" stop-color="#424086"/><stop offset=".447" stop-color="#365c8d"/><stop offset=".496" stop-color="#2c738e"/><stop offset=".546" stop-color="#25858e"/><stop offset=".595" stop-color="#1f978b"/><stop offset=".627" stop-color="#2ab07f"/><stop offset=".66" stop-color="#58c765"/><stop offset=".693" stop-color="#98d83e"/><stop offset=".742" stop-color="#67cc5c"/><stop offset=".791" stop-color="#40bd72"/><stop offset=".841" stop-color="#22a884"/><stop offset=".89" stop-color="#20928c"/><stop offset=".988" stop-color="#287c8e"/></linearGradient><linearGradient id="g232" x1="0" y1="0" x2="0" y2="1"><stop offset=".005" stop-color="#482677"/><stop offset=".103" stop-color="#472d7b"/><stop offset=".201" stop-color="#472d7b"/><stop offset=".3" stop-color="#472f7d"/><stop offset=".398" stop-color="#3e4a89"/><stop offset=".447" stop-color="#32648e"/><stop offset=".496" stop-color="#297a8e"/><stop offset=".546" stop-color="#228b8d"/><stop offset=".595" stop-color="#1e9c89"/><stop offset=".627" stop-color="#37b878"/><stop offset=".66" stop-color="#73d056"/><stop offset=".693" stop-color="#c2df23"/><stop offset=".742" stop-color="#95d840"/><stop offset=".791" stop-color="#6ccd5a"/><stop offset=".841" stop-color="#34b679"/><stop offset=".89" stop-color="#1e9d89"/><stop offset=".988" stop-color="#25848e"/></linearGradient><linearGradient id="g233" x1="0" y1="0" x2="0" y2="1"><stop offset=".005" stop-color="#482878"/><stop offset=".103" stop-color="#46307e"/><stop offset=".201" stop-color="#46307e"/><stop offset=".3" stop-color="#453581"/><stop offset=".398" stop-color="#39558c"/><stop offset=".447" stop-color="#2f6c8e"/><stop offset=".496" stop-color="#26818e"/><stop offset=".546" stop-color="#21918c"/><stop offset=".595" stop-color="#1fa188"/><stop offset=".619" stop-color="#37b878"/><stop offset=".644" stop-color="#67cc5c"/><stop offset=".668" stop-color="#a8db34"/><stop offset=".693" stop-color="#ece51b"/><stop offset=".791" stop-color="#a0da39"/><stop offset=".824" stop-color="#69cd5b"/><stop offset=".857" stop-color="#3dbc74"/><stop offset=".89" stop-color="#22a785"/><stop offset=".988" stop-color="#228c8d"/></linearGradient><linearGradient id="g234" x1="0" y1="0" x2="0" y2="1"><stop offset="0" stop-color="#6f9ad8"/><stop offset=".1" stop-color="#6f9ad8"/><stop offset=".2" stop-color="#6f9ad8"/><stop offset=".3" stop-color="#6f9ad8"/><stop offset=".39" stop-color="#6f9ad8"/><stop offset=".49" stop-color="#6f9ad8"/><stop offset=".59" stop-color="#6f9ad8"/><stop offset=".68" stop-color="#6f9ad8"/><stop offset=".78" stop-color="#6f9ad8"/><stop offset=".88" stop-color="#6f9ad8"/><stop offset=".98" stop-color="#6f9ad8"/></linearGradient><linearGradient id="g235" x1="0" y1="0" x2="0" y2="1"><stop offset="0" stop-color="#6f9ad8"/><stop offset=".1" stop-color="#6f9ad8"/><stop offset=".2" stop-color="#6f9ad8"/><stop offset=".3" stop-color="#6f9ad8"/><stop offset=".39" stop-color="#6f9ad8"/><stop offset=".49" stop-color="#6f9ad8"/><stop offset=".59" stop-color="#6f9ad8"/><stop offset=".68" stop-color="#6f9ad8"/><stop offset=".78" stop-color="#6f9ad8"/><stop offset=".88" stop-color="#6f9ad8"/><stop offset=".98" stop-color="#6f9ad8"/></linearGradient><linearGradient id="g236" x1="0" y1="0" x2="0" y2="1"><stop offset="0" stop-color="#6f9ad8"/><stop offset=".1" stop-color="#6f9ad8"/><stop offset=".2" stop-color="#6f9ad8"/><stop offset=".3" stop-color="#6f9ad8"/><stop offset=".39" stop-color="#6f9ad8"/><stop offset=".49" stop-color="#6f9ad8"/><stop offset=".59" stop-color="#6f9ad8"/><stop offset=".68" stop-color="#6f9ad8"/><stop offset=".78" stop-color="#6f9ad8"/><stop offset=".88" stop-color="#6f9ad8"/><stop offset=".98" stop-color="#6f9ad8"/></linearGradient><linearGradient id="g237" x1="0" y1="1" x2="0" y2="0"><stop offset="0" stop-color="#440154"/><stop offset=".06" stop-color="#48186a"/><stop offset=".12" stop-color="#472d7b"/><stop offset=".19" stop-color="#424086"/><stop offset=".25" stop-color="#3b528b"/><stop offset=".31" stop-color="#33638d"/><stop offset=".38" stop-color="#2c728e"/><stop offset=".44" stop-color="#26828e"/><stop offset=".5" stop-color="#21918c"/><stop offset=".56" stop-color="#1fa088"/><stop offset=".62" stop-color="#28ae80"/><stop offset=".69" stop-color="#3fbc73"/><stop offset=".75" stop-color="#5ec962"/><stop offset=".81" stop-color="#84d44b"/><stop offset=".88" stop-color="#addc30"/><stop offset=".94" stop-color="#d8e219"/><stop offset="1" stop-color="#fde725"/></linearGradient><linearGradient id="g238" x1="0" y1="0" x2="0" y2="1"><stop offset="0" stop-color="#46337f"/><stop offset=".095" stop-color="#482979"/><stop offset=".195" stop-color="#482374"/><stop offset=".296" stop-color="#481c6e"/><stop offset=".396" stop-color="#482374"/><stop offset=".496" stop-color="#453781"/><stop offset=".546" stop-color="#3d4e8a"/><stop offset=".596" stop-color="#33638d"/><stop offset=".629" stop-color="#297b8e"/><stop offset=".663" stop-color="#20928c"/><stop offset=".696" stop-color="#24aa83"/><stop offset=".73" stop-color="#48c16e"/><stop offset=".763" stop-color="#81d34d"/><stop offset=".796" stop-color="#c5e021"/><stop offset=".897" stop-color="#efe51c"/><stop offset=".997" stop-color="#e5e419"/></linearGradient><linearGradient id="g239" x1="0" y1="0" x2="0" y2="1"><stop offset="0" stop-color="#472f7d"/><stop offset=".095" stop-color="#482677"/><stop offset=".195" stop-color="#482071"/><stop offset=".296" stop-color="#481a6c"/><stop offset=".396" stop-color="#482071"/><stop offset=".496" stop-color="#463480"/><stop offset=".546" stop-color="#3e4c8a"/><stop offset=".596" stop-color="#33628d"/><stop offset=".629" stop-color="#2a788e"/><stop offset=".663" stop-color="#218f8d"/><stop offset=".696" stop-color="#21a585"/><stop offset=".73" stop-color="#40bd72"/><stop offset=".763" stop-color="#77d153"/><stop offset=".796" stop-color="#bddf26"/><stop offset=".897" stop-color="#e5e419"/><stop offset=".997" stop-color="#d8e219"/></linearGradient><linearGradient id="g240" x1="0" y1="0" x2="0" y2="1"><stop offset="0" stop-color="#472d7b"/><stop offset=".095" stop-color="#482576"/><stop offset=".195" stop-color="#481d6f"/><stop offset=".296" stop-color="#481769"/><stop offset=".396" stop-color="#481c6e"/><stop offset=".496" stop-color="#46327e"/><stop offset=".546" stop-color="#3e4989"/><stop offset=".596" stop-color="#34608d"/><stop offset=".629" stop-color="#2b758e"/><stop offset=".663" stop-color="#228b8d"/><stop offset=".696" stop-color="#1fa088"/><stop offset=".73" stop-color="#38b977"/><stop offset=".763" stop-color="#6ece58"/><stop offset=".796" stop-color="#b5de2b"/><stop offset=".897" stop-color="#dae319"/><stop offset=".997" stop-color="#cae11f"/></linearGradient><linearGradient id="g241" x1="0" y1="0" x2="0" y2="1"><stop offset="0" stop-color="#472a7a"/><stop offset=".095" stop-color="#482374"/><stop offset=".195" stop-color="#481c6e"/><stop offset=".296" stop-color="#481467"/><stop offset=".396" stop-color="#481a6c"/><stop offset=".496" stop-color="#472f7d"/><stop offset=".546" stop-color="#3f4788"/><stop offset=".596" stop-color="#355e8d"/><stop offset=".646" stop-color="#287d8e"/><stop offset=".696" stop-color="#1e9b8a"/><stop offset=".73" stop-color="#31b57b"/><stop offset=".763" stop-color="#65cb5e"/><stop offset=".796" stop-color="#addc30"/><stop offset=".897" stop-color="#d0e11c"/><stop offset=".997" stop-color="#bddf26"/></linearGradient><linearGradient id="g242" x1="0" y1="0" x2="0" y2="1"><stop offset="0" stop-color="#482677"/><stop offset=".095" stop-color="#482071"/><stop offset=".195" stop-color="#481a6c"/><stop offset=".296" stop-color="#471365"/><stop offset=".396" stop-color="#481769"/><stop offset=".496" stop-color="#472d7b"/><stop offset=".546" stop-color="#404688"/><stop offset=".596" stop-color="#365c8d"/><stop offset=".646" stop-color="#29798e"/><stop offset=".696" stop-color="#1f958b"/><stop offset=".73" stop-color="#2ab07f"/><stop offset=".763" stop-color="#5cc863"/><stop offset=".796" stop-color="#a2da37"/><stop offset=".897" stop-color="#c8e020"/><stop offset=".997" stop-color="#b0dd2f"/></linearGradient><linearGradient id="g243" x1="0" y1="0" x2="0" y2="1"><stop offset="0" stop-color="#482475"/><stop offset=".095" stop-color="#481d6f"/><stop offset=".195" stop-color="#481769"/><stop offset=".296" stop-color="#471063"/><stop offset=".396" stop-color="#471365"/><stop offset=".496" stop-color="#472a7a"/><stop offset=".546" stop-color="#414487"/><stop offset=".596" stop-color="#375a8c"/><stop offset=".646" stop-color="#2b758e"/><stop offset=".696" stop-color="#21918c"/><stop offset=".73" stop-color="#25ac82"/><stop offset=".763" stop-color="#54c568"/><stop offset=".796" stop-color="#9bd93c"/><stop offset=".897" stop-color="#bddf26"/><stop offset=".997" stop-color="#a2da37"/></linearGradient><linearGradient id="g244" x1="0" y1="0" x2="0" y2="1"><stop offset="0" stop-color="#482173"/><stop offset=".095" stop-color="#481c6e"/><stop offset=".195" stop-color="#481467"/><stop offset=".296" stop-color="#470e61"/><stop offset=".396" stop-color="#471164"/><stop offset=".496" stop-color="#482979"/><stop offset=".546" stop-color="#424186"/><stop offset=".596" stop-color="#38588c"/><stop offset=".646" stop-color="#2c728e"/><stop offset=".696" stop-color="#228c8d"/><stop offset=".73" stop-color="#22a785"/><stop offset=".763" stop-color="#4ac16d"/><stop offset=".796" stop-color="#8bd646"/><stop offset=".897" stop-color="#b8de29"/><stop offset=".997" stop-color="#9bd93c"/></linearGradient><linearGradient id="g245" x1="0" y1="0" x2="0" y2="1"><stop offset="0" stop-color="#481d6f"/><stop offset=".095" stop-color="#481a6c"/><stop offset=".195" stop-color="#471365"/><stop offset=".296" stop-color="#470d60"/><stop offset=".396" stop-color="#471063"/><stop offset=".496" stop-color="#482677"/><stop offset=".546" stop-color="#423f85"/><stop offset=".596" stop-color="#39558c"/><stop offset=".646" stop-color="#2d708e"/><stop offset=".696" stop-color="#24878e"/><stop offset=".73" stop-color="#1fa287"/><stop offset=".763" stop-color="#3fbc73"/><stop offset=".796" stop-color="#7cd250"/><stop offset=".897" stop-color="#b2dd2d"/><stop offset=".997" stop-color="#93d741"/></linearGradient><linearGradient id="g246" x1="0" y1="0" x2="0" y2="1"><stop offset="0" stop-color="#481b6d"/><stop offset=".095" stop-color="#48186a"/><stop offset=".195" stop-color="#471164"/><stop offset=".296" stop-color="#460b5e"/><stop offset=".396" stop-color="#471063"/><stop offset=".496" stop-color="#482576"/><stop offset=".546" stop-color="#433e85"/><stop offset=".596" stop-color="#3a548c"/><stop offset=".646" stop-color="#2e6d8e"/><stop offset=".696" stop-color="#25838e"/><stop offset=".73" stop-color="#1f9e89"/><stop offset=".763" stop-color="#35b779"/><stop offset=".796" stop-color="#6ece58"/><stop offset=".897" stop-color="#addc30"/><stop offset=".997" stop-color="#8bd646"/></linearGradient><linearGradient id="g247" x1="0" y1="0" x2="0" y2="1"><stop offset="0" stop-color="#48186a"/><stop offset=".095" stop-color="#481668"/><stop offset=".195" stop-color="#470e61"/><stop offset=".296" stop-color="#460a5d"/><stop offset=".396" stop-color="#470e61"/><stop offset=".496" stop-color="#482475"/><stop offset=".546" stop-color="#443b84"/><stop offset=".596" stop-color="#3b528b"/><stop offset=".646" stop-color="#30698e"/><stop offset=".696" stop-color="#277f8e"/><stop offset=".73" stop-color="#1f998a"/><stop offset=".763" stop-color="#2eb37c"/><stop offset=".796" stop-color="#60ca60"/><stop offset=".897" stop-color="#a8db34"/><stop offset=".997" stop-color="#84d44b"/></linearGradient><linearGradient id="g248" x1="0" y1="0" x2="0" y2="1"><stop offset="0" stop-color="#481467"/><stop offset=".095" stop-color="#481467"/><stop offset=".195" stop-color="#470d60"/><stop offset=".296" stop-color="#46085c"/><stop offset=".396" stop-color="#470d60"/><stop offset=".496" stop-color="#482173"/><stop offset=".546" stop-color="#443a83"/><stop offset=".596" stop-color="#3c508b"/><stop offset=".646" stop-color="#31668e"/><stop offset=".696" stop-color="#297a8e"/><stop offset=".73" stop-color="#1f948c"/><stop offset=".763" stop-color="#27ad81"/><stop offset=".796" stop-color="#54c568"/><stop offset=".846" stop-color="#7ad151"/><stop offset=".897" stop-color="#a5db36"/><stop offset=".997" stop-color="#7fd34e"/></linearGradient><linearGradient id="g249" x1="0" y1="0" x2="0" y2="1"><stop offset="0" stop-color="#82a5e1"/><stop offset=".1" stop-color="#82a5e1"/><stop offset=".2" stop-color="#82a5e1"/><stop offset=".3" stop-color="#82a5e1"/><stop offset=".39" stop-color="#82a5e1"/><stop offset=".49" stop-color="#82a5e1"/><stop offset=".59" stop-color="#82a5e1"/><stop offset=".69" stop-color="#6b8ebb"/><stop offset=".79" stop-color="#193c32"/><stop offset=".89" stop-color="#193c32"/><stop offset=".99" stop-color="#193c32"/></linearGradient><linearGradient id="g250" x1="0" y1="0" x2="0" y2="1"><stop offset="0" stop-color="#46337f"/><stop offset=".095" stop-color="#472f7d"/><stop offset=".195" stop-color="#482979"/><stop offset=".296" stop-color="#482979"/><stop offset=".396" stop-color="#472f7d"/><stop offset=".496" stop-color="#414287"/><stop offset=".546" stop-color="#38598c"/><stop offset=".596" stop-color="#2e6d8e"/><stop offset=".646" stop-color="#238a8d"/><stop offset=".696" stop-color="#21a685"/><stop offset=".73" stop-color="#3fbc73"/><stop offset=".763" stop-color="#75d054"/><stop offset=".796" stop-color="#b8de29"/><stop offset=".897" stop-color="#e7e419"/><stop offset=".997" stop-color="#dfe318"/></linearGradient><linearGradient id="g251" x1="0" y1="0" x2="0" y2="1"><stop offset="0" stop-color="#472f7d"/><stop offset=".095" stop-color="#472e7c"/><stop offset=".195" stop-color="#482677"/><stop offset=".296" stop-color="#482576"/><stop offset=".396" stop-color="#472c7a"/><stop offset=".496" stop-color="#423f85"/><stop offset=".546" stop-color="#39558c"/><stop offset=".596" stop-color="#306a8e"/><stop offset=".646" stop-color="#24868e"/><stop offset=".696" stop-color="#1fa187"/><stop offset=".73" stop-color="#38b977"/><stop offset=".763" stop-color="#69cd5b"/><stop offset=".796" stop-color="#aadc32"/><stop offset=".897" stop-color="#dde318"/><stop offset=".997" stop-color="#d8e219"/></linearGradient><linearGradient id="g252" x1="0" y1="0" x2="0" y2="1"><stop offset="0" stop-color="#472d7b"/><stop offset=".095" stop-color="#472c7a"/><stop offset=".195" stop-color="#482576"/><stop offset=".296" stop-color="#482173"/><stop offset=".396" stop-color="#482878"/><stop offset=".496" stop-color="#433d84"/><stop offset=".546" stop-color="#3a538b"/><stop offset=".596" stop-color="#31688e"/><stop offset=".646" stop-color="#26828e"/><stop offset=".696" stop-color="#1e9d89"/><stop offset=".73" stop-color="#31b57b"/><stop offset=".763" stop-color="#60ca60"/><stop offset=".796" stop-color="#9dd93b"/><stop offset=".897" stop-color="#d0e11c"/><stop offset=".997" stop-color="#cde11d"/></linearGradient><linearGradient id="g253" x1="0" y1="0" x2="0" y2="1"><stop offset="0" stop-color="#472a7a"/><stop offset=".095" stop-color="#482979"/><stop offset=".195" stop-color="#482374"/><stop offset=".296" stop-color="#481d6f"/><stop offset=".396" stop-color="#482576"/><stop offset=".496" stop-color="#443a83"/><stop offset=".546" stop-color="#3c508b"/><stop offset=".596" stop-color="#32658e"/><stop offset=".646" stop-color="#277f8e"/><stop offset=".696" stop-color="#1f998a"/><stop offset=".73" stop-color="#2ab07f"/><stop offset=".763" stop-color="#56c667"/><stop offset=".796" stop-color="#93d741"/><stop offset=".897" stop-color="#c5e021"/><stop offset=".997" stop-color="#c2df23"/></linearGradient><linearGradient id="g254" x1="0" y1="0" x2="0" y2="1"><stop offset="0" stop-color="#482677"/><stop offset=".095" stop-color="#482677"/><stop offset=".195" stop-color="#482071"/><stop offset=".296" stop-color="#481b6d"/><stop offset=".396" stop-color="#482173"/><stop offset=".496" stop-color="#453781"/><stop offset=".546" stop-color="#3d4e8a"/><stop offset=".596" stop-color="#33628d"/><stop offset=".646" stop-color="#287c8e"/><stop offset=".696" stop-color="#1f948c"/><stop offset=".73" stop-color="#26ad81"/><stop offset=".763" stop-color="#4cc26c"/><stop offset=".796" stop-color="#86d549"/><stop offset=".897" stop-color="#bade28"/><stop offset=".997" stop-color="#bade28"/></linearGradient><linearGradient id="g255" x1="0" y1="0" x2="0" y2="1"><stop offset="0" stop-color="#482475"/><stop offset=".095" stop-color="#482475"/><stop offset=".195" stop-color="#481d6f"/><stop offset=".296" stop-color="#481769"/><stop offset=".396" stop-color="#481d6f"/><stop offset=".496" stop-color="#463480"/><stop offset=".546" stop-color="#3e4a89"/><stop offset=".596" stop-color="#355f8d"/><stop offset=".646" stop-color="#2a788e"/><stop offset=".696" stop-color="#21918c"/><stop offset=".73" stop-color="#22a884"/><stop offset=".763" stop-color="#44bf70"/><stop offset=".796" stop-color="#7ad151"/><stop offset=".897" stop-color="#b0dd2f"/><stop offset=".997" stop-color="#b0dd2f"/></linearGradient><linearGradient id="g256" x1="0" y1="0" x2="0" y2="1"><stop offset="0" stop-color="#482374"/><stop offset=".095" stop-color="#482374"/><stop offset=".195" stop-color="#481d6f"/><stop offset=".296" stop-color="#481769"/><stop offset=".396" stop-color="#481c6e"/><stop offset=".496" stop-color="#46337f"/><stop offset=".546" stop-color="#3e4989"/><stop offset=".596" stop-color="#355e8d"/><stop offset=".646" stop-color="#2a768e"/><stop offset=".696" stop-color="#218e8d"/><stop offset=".73" stop-color="#21a585"/><stop offset=".763" stop-color="#3dbc74"/><stop offset=".796" stop-color="#73d056"/><stop offset=".897" stop-color="#a8db34"/><stop offset=".997" stop-color="#a8db34"/></linearGradient><linearGradient id="g257" x1="0" y1="0" x2="0" y2="1"><stop offset="0" stop-color="#482173"/><stop offset=".095" stop-color="#482173"/><stop offset=".195" stop-color="#481d6f"/><stop offset=".296" stop-color="#481769"/><stop offset=".396" stop-color="#481b6d"/><stop offset=".496" stop-color="#46307e"/><stop offset=".546" stop-color="#3f4788"/><stop offset=".596" stop-color="#365d8d"/><stop offset=".646" stop-color="#2b748e"/><stop offset=".696" stop-color="#228c8d"/><stop offset=".73" stop-color="#20a386"/><stop offset=".763" stop-color="#38b977"/><stop offset=".796" stop-color="#69cd5b"/><stop offset=".897" stop-color="#a0da39"/><stop offset=".997" stop-color="#a0da39"/></linearGradient><linearGradient id="g258" x1="0" y1="0" x2="0" y2="1"><stop offset="0" stop-color="#482071"/><stop offset=".095" stop-color="#482071"/><stop offset=".195" stop-color="#481d6f"/><stop offset=".296" stop-color="#481769"/><stop offset=".396" stop-color="#481a6c"/><stop offset=".496" stop-color="#472f7d"/><stop offset=".546" stop-color="#404688"/><stop offset=".596" stop-color="#375b8d"/><stop offset=".646" stop-color="#2c728e"/><stop offset=".696" stop-color="#238a8d"/><stop offset=".73" stop-color="#1fa188"/><stop offset=".763" stop-color="#34b679"/><stop offset=".796" stop-color="#60ca60"/><stop offset=".897" stop-color="#98d83e"/><stop offset=".997" stop-color="#98d83e"/></linearGradient><linearGradient id="g259" x1="0" y1="0" x2="0" y2="1"><stop offset="0" stop-color="#481f70"/><stop offset=".095" stop-color="#481f70"/><stop offset=".195" stop-color="#481d6f"/><stop offset=".296" stop-color="#481769"/><stop offset=".396" stop-color="#48186a"/><stop offset=".496" stop-color="#472d7b"/><stop offset=".546" stop-color="#404588"/><stop offset=".596" stop-color="#375a8c"/><stop offset=".646" stop-color="#2d718e"/><stop offset=".696" stop-color="#24878e"/><stop offset=".73" stop-color="#1f9e89"/><stop offset=".763" stop-color="#2fb47c"/><stop offset=".796" stop-color="#58c765"/><stop offset=".897" stop-color="#93d741"/><stop offset=".997" stop-color="#93d741"/></linearGradient><linearGradient id="g260" x1="0" y1="0" x2="0" y2="1"><stop offset="0" stop-color="#481d6f"/><stop offset=".095" stop-color="#481d6f"/><stop offset=".195" stop-color="#481d6f"/><stop offset=".296" stop-color="#481769"/><stop offset=".396" stop-color="#481769"/><stop offset=".496" stop-color="#472c7a"/><stop offset=".546" stop-color="#414287"/><stop offset=".596" stop-color="#38588c"/><stop offset=".646" stop-color="#2d708e"/><stop offset=".696" stop-color="#25858e"/><stop offset=".73" stop-color="#1e9b8a"/><stop offset=".763" stop-color="#2ab07f"/><stop offset=".796" stop-color="#52c569"/><stop offset=".897" stop-color="#8bd646"/><stop offset=".997" stop-color="#8bd646"/></linearGradient><linearGradient id="g261" x1="0" y1="0" x2="0" y2="1"><stop offset="0" stop-color="#82a5e1"/><stop offset=".1" stop-color="#82a5e1"/><stop offset=".2" stop-color="#82a5e1"/><stop offset=".3" stop-color="#82a5e1"/><stop offset=".39" stop-color="#82a5e1"/><stop offset=".49" stop-color="#82a5e1"/><stop offset=".59" stop-color="#82a5e1"/><stop offset=".69" stop-color="#6b8ebb"/><stop offset=".79" stop-color="#1c3f37"/><stop offset=".89" stop-color="#193c32"/><stop offset=".99" stop-color="#193c32"/></linearGradient><linearGradient id="g262" x1="0" y1="0" x2="0" y2="1"><stop offset="0" stop-color="#472a7a"/><stop offset=".095" stop-color="#482475"/><stop offset=".195" stop-color="#481c6e"/><stop offset=".296" stop-color="#470e61"/><stop offset=".396" stop-color="#460b5e"/><stop offset=".496" stop-color="#481c6e"/><stop offset=".546" stop-color="#424086"/><stop offset=".596" stop-color="#355f8d"/><stop offset=".629" stop-color="#2a788e"/><stop offset=".663" stop-color="#20928c"/><stop offset=".696" stop-color="#25ab82"/><stop offset=".73" stop-color="#48c16e"/><stop offset=".763" stop-color="#81d34d"/><stop offset=".796" stop-color="#c5e021"/><stop offset=".897" stop-color="#eae51a"/><stop offset=".997" stop-color="#e7e419"/></linearGradient><linearGradient id="g263" x1="0" y1="0" x2="0" y2="1"><stop offset="0" stop-color="#482979"/><stop offset=".095" stop-color="#482374"/><stop offset=".195" stop-color="#481b6d"/><stop offset=".296" stop-color="#470d60"/><stop offset=".396" stop-color="#460a5d"/><stop offset=".496" stop-color="#481b6d"/><stop offset=".546" stop-color="#433e85"/><stop offset=".596" stop-color="#365d8d"/><stop offset=".629" stop-color="#2a768e"/><stop offset=".663" stop-color="#218e8d"/><stop offset=".696" stop-color="#21a685"/><stop offset=".73" stop-color="#40bd72"/><stop offset=".763" stop-color="#77d153"/><stop offset=".796" stop-color="#bade28"/><stop offset=".897" stop-color="#e2e418"/><stop offset=".997" stop-color="#dde318"/></linearGradient><linearGradient id="g264" x1="0" y1="0" x2="0" y2="1"><stop offset="0" stop-color="#482878"/><stop offset=".095" stop-color="#482173"/><stop offset=".195" stop-color="#48186a"/><stop offset=".296" stop-color="#460b5e"/><stop offset=".396" stop-color="#460a5d"/><stop offset=".496" stop-color="#481a6c"/><stop offset=".546" stop-color="#433d84"/><stop offset=".596" stop-color="#375b8d"/><stop offset=".629" stop-color="#2c738e"/><stop offset=".663" stop-color="#238a8d"/><stop offset=".696" stop-color="#1fa188"/><stop offset=".73" stop-color="#38b977"/><stop offset=".763" stop-color="#6ccd5a"/><stop offset=".796" stop-color="#b0dd2f"/><stop offset=".897" stop-color="#dae319"/><stop offset=".997" stop-color="#d5e21a"/></linearGradient><linearGradient id="g265" x1="0" y1="0" x2="0" y2="1"><stop offset="0" stop-color="#482677"/><stop offset=".095" stop-color="#482071"/><stop offset=".195" stop-color="#481769"/><stop offset=".296" stop-color="#460a5d"/><stop offset=".396" stop-color="#46085c"/><stop offset=".496" stop-color="#48186a"/><stop offset=".546" stop-color="#443b84"/><stop offset=".596" stop-color="#375a8c"/><stop offset=".629" stop-color="#2d718e"/><stop offset=".663" stop-color="#24868e"/><stop offset=".696" stop-color="#1e9c89"/><stop offset=".73" stop-color="#31b57b"/><stop offset=".763" stop-color="#63cb5f"/><stop offset=".796" stop-color="#a5db36"/><stop offset=".897" stop-color="#d5e21a"/><stop offset=".997" stop-color="#cae11f"/></linearGradient><linearGradient id="g266" x1="0" y1="0" x2="0" y2="1"><stop offset="0" stop-color="#482576"/><stop offset=".095" stop-color="#481d6f"/><stop offset=".195" stop-color="#481467"/><stop offset=".296" stop-color="#46085c"/><stop offset=".396" stop-color="#46085c"/><stop offset=".496" stop-color="#481769"/><stop offset=".546" stop-color="#443983"/><stop offset=".596" stop-color="#38588c"/><stop offset=".646" stop-color="#2a788e"/><stop offset=".696" stop-color="#1f978b"/><stop offset=".73" stop-color="#2ab07f"/><stop offset=".763" stop-color="#58c765"/><stop offset=".796" stop-color="#9bd93c"/><stop offset=".897" stop-color="#cde11d"/><stop offset=".997" stop-color="#c2df23"/></linearGradient><linearGradient id="g267" x1="0" y1="0" x2="0" y2="1"><stop offset="0" stop-color="#482475"/><stop offset=".095" stop-color="#481d6f"/><stop offset=".195" stop-color="#481467"/><stop offset=".296" stop-color="#46085c"/><stop offset=".396" stop-color="#46085c"/><stop offset=".496" stop-color="#481769"/><stop offset=".546" stop-color="#443983"/><stop offset=".596" stop-color="#39568c"/><stop offset=".646" stop-color="#2a768e"/><stop offset=".696" stop-color="#20938c"/><stop offset=".73" stop-color="#26ad81"/><stop offset=".763" stop-color="#4ec36b"/><stop offset=".796" stop-color="#8bd646"/><stop offset=".897" stop-color="#c0df25"/><stop offset=".997" stop-color="#b5de2b"/></linearGradient><linearGradient id="g268" x1="0" y1="0" x2="0" y2="1"><stop offset="0" stop-color="#482374"/><stop offset=".095" stop-color="#481d6f"/><stop offset=".195" stop-color="#481467"/><stop offset=".296" stop-color="#46085c"/><stop offset=".396" stop-color="#46085c"/><stop offset=".496" stop-color="#48186a"/><stop offset=".546" stop-color="#443983"/><stop offset=".596" stop-color="#39568c"/><stop offset=".646" stop-color="#2b748e"/><stop offset=".696" stop-color="#21918c"/><stop offset=".73" stop-color="#22a884"/><stop offset=".763" stop-color="#44bf70"/><stop offset=".796" stop-color="#7ad151"/><stop offset=".897" stop-color="#addc30"/><stop offset=".997" stop-color="#a5db36"/></linearGradient><linearGradient id="g269" x1="0" y1="0" x2="0" y2="1"><stop offset="0" stop-color="#482173"/><stop offset=".095" stop-color="#481d6f"/><stop offset=".195" stop-color="#481668"/><stop offset=".296" stop-color="#460a5d"/><stop offset=".396" stop-color="#460a5d"/><stop offset=".496" stop-color="#481a6c"/><stop offset=".546" stop-color="#443983"/><stop offset=".596" stop-color="#39558c"/><stop offset=".646" stop-color="#2c728e"/><stop offset=".696" stop-color="#218e8d"/><stop offset=".73" stop-color="#20a486"/><stop offset=".763" stop-color="#3aba76"/><stop offset=".796" stop-color="#69cd5b"/><stop offset=".897" stop-color="#9bd93c"/><stop offset=".997" stop-color="#95d840"/></linearGradient><linearGradient id="g270" x1="0" y1="0" x2="0" y2="1"><stop offset="0" stop-color="#482071"/><stop offset=".095" stop-color="#481d6f"/><stop offset=".195" stop-color="#481668"/><stop offset=".296" stop-color="#460a5d"/><stop offset=".396" stop-color="#460a5d"/><stop offset=".496" stop-color="#481b6d"/><stop offset=".546" stop-color="#443a83"/><stop offset=".596" stop-color="#39558c"/><stop offset=".646" stop-color="#2d718e"/><stop offset=".696" stop-color="#228b8d"/><stop offset=".73" stop-color="#1fa088"/><stop offset=".763" stop-color="#31b57b"/><stop offset=".796" stop-color="#58c765"/><stop offset=".897" stop-color="#89d548"/><stop offset=".997" stop-color="#84d44b"/></linearGradient><linearGradient id="g271" x1="0" y1="0" x2="0" y2="1"><stop offset="0" stop-color="#481d6f"/><stop offset=".095" stop-color="#481d6f"/><stop offset=".195" stop-color="#481769"/><stop offset=".296" stop-color="#460b5e"/><stop offset=".396" stop-color="#460b5e"/><stop offset=".496" stop-color="#481c6e"/><stop offset=".546" stop-color="#443a83"/><stop offset=".596" stop-color="#3a548c"/><stop offset=".646" stop-color="#2d708e"/><stop offset=".696" stop-color="#23888e"/><stop offset=".746" stop-color="#21a685"/><stop offset=".796" stop-color="#4ac16d"/><stop offset=".897" stop-color="#77d153"/><stop offset=".997" stop-color="#75d054"/></linearGradient><linearGradient id="g272" x1="0" y1="0" x2="0" y2="1"><stop offset="0" stop-color="#82a5e1"/><stop offset=".1" stop-color="#82a5e1"/><stop offset=".2" stop-color="#82a5e1"/><stop offset=".3" stop-color="#82a5e1"/><stop offset=".39" stop-color="#82a5e1"/><stop offset=".49" stop-color="#82a5e1"/><stop offset=".59" stop-color="#82a5e1"/><stop offset=".69" stop-color="#6689b2"/><stop offset=".79" stop-color="#193c32"/><stop offset=".89" stop-color="#193c32"/><stop offset=".99" stop-color="#193c32"/></linearGradient><linearGradient id="g273" x1="0" y1="0" x2="0" y2="1"><stop offset=".002" stop-color="#46337f"/><stop offset=".102" stop-color="#472a7a"/><stop offset=".201" stop-color="#482475"/><stop offset=".3" stop-color="#481c6e"/><stop offset=".399" stop-color="#482173"/><stop offset=".498" stop-color="#424086"/><stop offset=".548" stop-color="#355f8d"/><stop offset=".597" stop-color="#297b8e"/><stop offset=".647" stop-color="#1f988b"/><stop offset=".696" stop-color="#31b57b"/><stop offset=".729" stop-color="#5cc863"/><stop offset=".762" stop-color="#93d741"/><stop offset=".795" stop-color="#d2e21b"/><stop offset=".894" stop-color="#f8e621"/><stop offset=".994" stop-color="#f8e621"/></linearGradient><linearGradient id="g274" x1="0" y1="0" x2="0" y2="1"><stop offset=".002" stop-color="#46327e"/><stop offset=".102" stop-color="#482979"/><stop offset=".201" stop-color="#482374"/><stop offset=".3" stop-color="#481a6c"/><stop offset=".399" stop-color="#481d6f"/><stop offset=".498" stop-color="#443983"/><stop offset=".548" stop-color="#375a8c"/><stop offset=".597" stop-color="#2a778e"/><stop offset=".647" stop-color="#1f958b"/><stop offset=".696" stop-color="#2eb37c"/><stop offset=".729" stop-color="#58c765"/><stop offset=".762" stop-color="#93d741"/><stop offset=".795" stop-color="#d2e21b"/><stop offset=".894" stop-color="#f8e621"/><stop offset=".994" stop-color="#f8e621"/></linearGradient><linearGradient id="g275" x1="0" y1="0" x2="0" y2="1"><stop offset=".002" stop-color="#472f7d"/><stop offset=".102" stop-color="#482878"/><stop offset=".201" stop-color="#482173"/><stop offset=".3" stop-color="#481769"/><stop offset=".399" stop-color="#48186a"/><stop offset=".498" stop-color="#46327e"/><stop offset=".548" stop-color="#3a548c"/><stop offset=".597" stop-color="#2c738e"/><stop offset=".647" stop-color="#20928c"/><stop offset=".696" stop-color="#2cb17e"/><stop offset=".729" stop-color="#56c667"/><stop offset=".762" stop-color="#90d743"/><stop offset=".795" stop-color="#d2e21b"/><stop offset=".894" stop-color="#f8e621"/><stop offset=".994" stop-color="#f8e621"/></linearGradient><linearGradient id="g276" x1="0" y1="0" x2="0" y2="1"><stop offset=".002" stop-color="#472e7c"/><stop offset=".102" stop-color="#482677"/><stop offset=".201" stop-color="#482071"/><stop offset=".3" stop-color="#481467"/><stop offset=".399" stop-color="#481467"/><stop offset=".498" stop-color="#472a7a"/><stop offset=".548" stop-color="#3c4f8a"/><stop offset=".597" stop-color="#2d708e"/><stop offset=".63" stop-color="#25858e"/><stop offset=".663" stop-color="#1e9b8a"/><stop offset=".696" stop-color="#29af7f"/><stop offset=".729" stop-color="#54c568"/><stop offset=".762" stop-color="#8ed645"/><stop offset=".795" stop-color="#d2e21b"/><stop offset=".894" stop-color="#f8e621"/><stop offset=".994" stop-color="#f8e621"/></linearGradient><linearGradient id="g277" x1="0" y1="0" x2="0" y2="1"><stop offset=".002" stop-color="#472c7a"/><stop offset=".102" stop-color="#482576"/><stop offset=".201" stop-color="#481f70"/><stop offset=".3" stop-color="#471164"/><stop offset=".399" stop-color="#470e61"/><stop offset=".498" stop-color="#482374"/><stop offset=".548" stop-color="#3e4989"/><stop offset=".597" stop-color="#2f6c8e"/><stop offset=".63" stop-color="#26828e"/><stop offset=".663" stop-color="#1f988b"/><stop offset=".696" stop-color="#27ad81"/><stop offset=".729" stop-color="#50c46a"/><stop offset=".762" stop-color="#8ed645"/><stop offset=".795" stop-color="#d2e21b"/><stop offset=".894" stop-color="#f8e621"/><stop offset=".994" stop-color="#f8e621"/></linearGradient><linearGradient id="g278" x1="0" y1="0" x2="0" y2="1"><stop offset=".002" stop-color="#472c7a"/><stop offset=".102" stop-color="#482576"/><stop offset=".201" stop-color="#481f70"/><stop offset=".3" stop-color="#471164"/><stop offset=".399" stop-color="#470e61"/><stop offset=".498" stop-color="#482173"/><stop offset=".548" stop-color="#3f4889"/><stop offset=".597" stop-color="#2f6b8e"/><stop offset=".63" stop-color="#26818e"/><stop offset=".663" stop-color="#1f968b"/><stop offset=".696" stop-color="#26ad81"/><stop offset=".729" stop-color="#4ec36b"/><stop offset=".762" stop-color="#8bd646"/><stop offset=".795" stop-color="#d0e11c"/><stop offset=".894" stop-color="#f8e621"/><stop offset=".994" stop-color="#f6e620"/></linearGradient><linearGradient id="g279" x1="0" y1="0" x2="0" y2="1"><stop offset=".002" stop-color="#472d7b"/><stop offset=".102" stop-color="#482878"/><stop offset=".201" stop-color="#482173"/><stop offset=".3" stop-color="#481769"/><stop offset=".399" stop-color="#481769"/><stop offset=".498" stop-color="#472a7a"/><stop offset=".548" stop-color="#3d4e8a"/><stop offset=".597" stop-color="#2e6e8e"/><stop offset=".647" stop-color="#228d8d"/><stop offset=".696" stop-color="#25ac82"/><stop offset=".729" stop-color="#4cc26c"/><stop offset=".762" stop-color="#86d549"/><stop offset=".795" stop-color="#cae11f"/><stop offset=".894" stop-color="#f6e620"/><stop offset=".994" stop-color="#f1e51d"/></linearGradient><linearGradient id="g280" x1="0" y1="0" x2="0" y2="1"><stop offset=".002" stop-color="#472f7d"/><stop offset=".102" stop-color="#472a7a"/><stop offset=".201" stop-color="#482475"/><stop offset=".3" stop-color="#481c6e"/><stop offset=".399" stop-color="#481d6f"/><stop offset=".498" stop-color="#46337f"/><stop offset=".548" stop-color="#3a538b"/><stop offset=".597" stop-color="#2d718e"/><stop offset=".647" stop-color="#218e8d"/><stop offset=".696" stop-color="#25ab82"/><stop offset=".729" stop-color="#4ac16d"/><stop offset=".762" stop-color="#84d44b"/><stop offset=".795" stop-color="#c8e020"/><stop offset=".894" stop-color="#f4e61e"/><stop offset=".994" stop-color="#ece51b"/></linearGradient><linearGradient id="g281" x1="0" y1="0" x2="0" y2="1"><stop offset=".002" stop-color="#46307e"/><stop offset=".102" stop-color="#472d7b"/><stop offset=".201" stop-color="#482677"/><stop offset=".3" stop-color="#482173"/><stop offset=".399" stop-color="#482576"/><stop offset=".498" stop-color="#443b84"/><stop offset=".548" stop-color="#38598c"/><stop offset=".597" stop-color="#2c738e"/><stop offset=".647" stop-color="#218f8d"/><stop offset=".696" stop-color="#24aa83"/><stop offset=".729" stop-color="#48c16e"/><stop offset=".762" stop-color="#81d34d"/><stop offset=".795" stop-color="#c5e021"/><stop offset=".894" stop-color="#f1e51d"/><stop offset=".994" stop-color="#e7e419"/></linearGradient><linearGradient id="g282" x1="0" y1="0" x2="0" y2="1"><stop offset=".002" stop-color="#46337f"/><stop offset=".102" stop-color="#472f7d"/><stop offset=".201" stop-color="#482979"/><stop offset=".3" stop-color="#482677"/><stop offset=".399" stop-color="#472c7a"/><stop offset=".498" stop-color="#414487"/><stop offset=".548" stop-color="#355e8d"/><stop offset=".597" stop-color="#2a768e"/><stop offset=".647" stop-color="#21908d"/><stop offset=".696" stop-color="#23a983"/><stop offset=".729" stop-color="#46c06f"/><stop offset=".762" stop-color="#7cd250"/><stop offset=".795" stop-color="#c0df25"/><stop offset=".894" stop-color="#efe51c"/><stop offset=".994" stop-color="#e2e418"/></linearGradient><linearGradient id="g283" x1="0" y1="0" x2="0" y2="1"><stop offset=".002" stop-color="#46337f"/><stop offset=".102" stop-color="#472f7d"/><stop offset=".201" stop-color="#482979"/><stop offset=".3" stop-color="#482979"/><stop offset=".399" stop-color="#472f7d"/><stop offset=".498" stop-color="#3f4889"/><stop offset=".548" stop-color="#34618d"/><stop offset=".597" stop-color="#2a778e"/><stop offset=".647" stop-color="#218f8d"/><stop offset=".696" stop-color="#22a785"/><stop offset=".729" stop-color="#42be71"/><stop offset=".762" stop-color="#77d153"/><stop offset=".795" stop-color="#bade28"/><stop offset=".894" stop-color="#eae51a"/><stop offset=".994" stop-color="#dae319"/></linearGradient><linearGradient id="g284" x1="0" y1="0" x2="0" y2="1"><stop offset=".002" stop-color="#472f7d"/><stop offset=".102" stop-color="#472c7a"/><stop offset=".201" stop-color="#482576"/><stop offset=".3" stop-color="#482475"/><stop offset=".399" stop-color="#482979"/><stop offset=".498" stop-color="#414287"/><stop offset=".548" stop-color="#365c8d"/><stop offset=".597" stop-color="#2c728e"/><stop offset=".647" stop-color="#228b8d"/><stop offset=".696" stop-color="#1fa287"/><stop offset=".729" stop-color="#3aba76"/><stop offset=".762" stop-color="#6ece58"/><stop offset=".795" stop-color="#b0dd2f"/><stop offset=".894" stop-color="#dfe318"/><stop offset=".994" stop-color="#cde11d"/></linearGradient><linearGradient id="g285" x1="0" y1="0" x2="0" y2="1"><stop offset=".002" stop-color="#472d7b"/><stop offset=".102" stop-color="#482878"/><stop offset=".201" stop-color="#482173"/><stop offset=".3" stop-color="#481d6f"/><stop offset=".399" stop-color="#482374"/><stop offset=".498" stop-color="#433e85"/><stop offset=".548" stop-color="#38588c"/><stop offset=".597" stop-color="#2e6f8e"/><stop offset=".647" stop-color="#24868e"/><stop offset=".696" stop-color="#1f9f88"/><stop offset=".729" stop-color="#34b679"/><stop offset=".762" stop-color="#65cb5e"/><stop offset=".795" stop-color="#a5db36"/><stop offset=".894" stop-color="#d5e21a"/><stop offset=".994" stop-color="#bddf26"/></linearGradient><linearGradient id="g286" x1="0" y1="0" x2="0" y2="1"><stop offset=".002" stop-color="#482979"/><stop offset=".102" stop-color="#482374"/><stop offset=".201" stop-color="#481c6e"/><stop offset=".3" stop-color="#48186a"/><stop offset=".399" stop-color="#481c6e"/><stop offset=".498" stop-color="#453882"/><stop offset=".548" stop-color="#3b528b"/><stop offset=".597" stop-color="#306a8e"/><stop offset=".647" stop-color="#26828e"/><stop offset=".696" stop-color="#1f9a8a"/><stop offset=".729" stop-color="#2eb37c"/><stop offset=".762" stop-color="#5cc863"/><stop offset=".795" stop-color="#9bd93c"/><stop offset=".894" stop-color="#cae11f"/><stop offset=".994" stop-color="#addc30"/></linearGradient><linearGradient id="g287" x1="0" y1="0" x2="0" y2="1"><stop offset=".002" stop-color="#482576"/><stop offset=".102" stop-color="#481f70"/><stop offset=".201" stop-color="#48186a"/><stop offset=".3" stop-color="#471164"/><stop offset=".399" stop-color="#481668"/><stop offset=".498" stop-color="#46337f"/><stop offset=".548" stop-color="#3d4e8a"/><stop offset=".597" stop-color="#31668e"/><stop offset=".647" stop-color="#277e8e"/><stop offset=".696" stop-color="#1f968b"/><stop offset=".729" stop-color="#28ae80"/><stop offset=".762" stop-color="#54c568"/><stop offset=".795" stop-color="#90d743"/><stop offset=".894" stop-color="#c0df25"/><stop offset=".994" stop-color="#a0da39"/></linearGradient><linearGradient id="g288" x1="0" y1="0" x2="0" y2="1"><stop offset=".002" stop-color="#482475"/><stop offset=".102" stop-color="#481f70"/><stop offset=".201" stop-color="#48186a"/><stop offset=".3" stop-color="#471164"/><stop offset=".399" stop-color="#481467"/><stop offset=".498" stop-color="#46327e"/><stop offset=".548" stop-color="#3d4d8a"/><stop offset=".597" stop-color="#32648e"/><stop offset=".647" stop-color="#287d8e"/><stop offset=".696" stop-color="#1f948c"/><stop offset=".729" stop-color="#26ad81"/><stop offset=".762" stop-color="#4ec36b"/><stop offset=".795" stop-color="#89d548"/><stop offset=".894" stop-color="#bade28"/><stop offset=".994" stop-color="#9dd93b"/></linearGradient><linearGradient id="g289" x1="0" y1="0" x2="0" y2="1"><stop offset=".002" stop-color="#482475"/><stop offset=".102" stop-color="#482071"/><stop offset=".201" stop-color="#481a6c"/><stop offset=".3" stop-color="#471365"/><stop offset=".399" stop-color="#481769"/><stop offset=".498" stop-color="#46327e"/><stop offset=".548" stop-color="#3d4d8a"/><stop offset=".597" stop-color="#32648e"/><stop offset=".647" stop-color="#287c8e"/><stop offset=".696" stop-color="#20938c"/><stop offset=".729" stop-color="#25ac82"/><stop offset=".762" stop-color="#4ac16d"/><stop offset=".795" stop-color="#84d44b"/><stop offset=".894" stop-color="#b5de2b"/><stop offset=".994" stop-color="#a0da39"/></linearGradient><linearGradient id="g290" x1="0" y1="0" x2="0" y2="1"><stop offset=".002" stop-color="#482475"/><stop offset=".102" stop-color="#482173"/><stop offset=".201" stop-color="#481b6d"/><stop offset=".3" stop-color="#481467"/><stop offset=".399" stop-color="#481a6c"/><stop offset=".498" stop-color="#46337f"/><stop offset=".548" stop-color="#3d4d8a"/><stop offset=".597" stop-color="#32648e"/><stop offset=".647" stop-color="#287c8e"/><stop offset=".696" stop-color="#20928c"/><stop offset=".729" stop-color="#24aa83"/><stop offset=".762" stop-color="#46c06f"/><stop offset=".795" stop-color="#7fd34e"/><stop offset=".894" stop-color="#b0dd2f"/><stop offset=".994" stop-color="#a2da37"/></linearGradient><linearGradient id="g291" x1="0" y1="0" x2="0" y2="1"><stop offset=".002" stop-color="#482475"/><stop offset=".102" stop-color="#482374"/><stop offset=".201" stop-color="#481c6e"/><stop offset=".3" stop-color="#481668"/><stop offset=".399" stop-color="#481c6e"/><stop offset=".498" stop-color="#46337f"/><stop offset=".548" stop-color="#3d4d8a"/><stop offset=".597" stop-color="#32648e"/><stop offset=".647" stop-color="#297b8e"/><stop offset=".696" stop-color="#21918c"/><stop offset=".729" stop-color="#23a983"/><stop offset=".762" stop-color="#44bf70"/><stop offset=".795" stop-color="#7ad151"/><stop offset=".894" stop-color="#addc30"/><stop offset=".994" stop-color="#a5db36"/></linearGradient><linearGradient id="g292" x1="0" y1="0" x2="0" y2="1"><stop offset=".002" stop-color="#482475"/><stop offset=".102" stop-color="#482475"/><stop offset=".201" stop-color="#481d6f"/><stop offset=".3" stop-color="#481769"/><stop offset=".399" stop-color="#481d6f"/><stop offset=".498" stop-color="#46337f"/><stop offset=".548" stop-color="#3d4d8a"/><stop offset=".597" stop-color="#32648e"/><stop offset=".647" stop-color="#297a8e"/><stop offset=".696" stop-color="#21918c"/><stop offset=".729" stop-color="#22a785"/><stop offset=".762" stop-color="#40bd72"/><stop offset=".795" stop-color="#75d054"/><stop offset=".894" stop-color="#a8db34"/><stop offset=".994" stop-color="#a8db34"/></linearGradient><linearGradient id="g293" x1="0" y1="0" x2="0" y2="1"><stop offset=".002" stop-color="#482475"/><stop offset=".102" stop-color="#482374"/><stop offset=".201" stop-color="#481b6d"/><stop offset=".3" stop-color="#481467"/><stop offset=".399" stop-color="#48186a"/><stop offset=".498" stop-color="#472e7c"/><stop offset=".548" stop-color="#3e4989"/><stop offset=".597" stop-color="#33628d"/><stop offset=".647" stop-color="#29798e"/><stop offset=".696" stop-color="#21918c"/><stop offset=".729" stop-color="#22a884"/><stop offset=".762" stop-color="#42be71"/><stop offset=".795" stop-color="#77d153"/><stop offset=".894" stop-color="#addc30"/><stop offset=".994" stop-color="#aadc32"/></linearGradient><linearGradient id="g294" x1="0" y1="0" x2="0" y2="1"><stop offset=".002" stop-color="#482475"/><stop offset=".102" stop-color="#482173"/><stop offset=".201" stop-color="#481a6c"/><stop offset=".3" stop-color="#471063"/><stop offset=".399" stop-color="#481467"/><stop offset=".498" stop-color="#482878"/><stop offset=".548" stop-color="#404688"/><stop offset=".597" stop-color="#34608d"/><stop offset=".647" stop-color="#2a788e"/><stop offset=".696" stop-color="#21918c"/><stop offset=".729" stop-color="#22a884"/><stop offset=".762" stop-color="#42be71"/><stop offset=".795" stop-color="#7ad151"/><stop offset=".894" stop-color="#b2dd2d"/><stop offset=".994" stop-color="#aadc32"/></linearGradient><linearGradient id="g295" x1="0" y1="0" x2="0" y2="1"><stop offset=".002" stop-color="#482475"/><stop offset=".102" stop-color="#482071"/><stop offset=".201" stop-color="#481769"/><stop offset=".3" stop-color="#470d60"/><stop offset=".399" stop-color="#471063"/><stop offset=".498" stop-color="#482173"/><stop offset=".548" stop-color="#424186"/><stop offset=".597" stop-color="#355e8d"/><stop offset=".647" stop-color="#2a778e"/><stop offset=".696" stop-color="#21918c"/><stop offset=".729" stop-color="#22a884"/><stop offset=".762" stop-color="#44bf70"/><stop offset=".795" stop-color="#7cd250"/><stop offset=".894" stop-color="#b5de2b"/><stop offset=".994" stop-color="#addc30"/></linearGradient><linearGradient id="g296" x1="0" y1="0" x2="0" y2="1"><stop offset=".002" stop-color="#482475"/><stop offset=".102" stop-color="#481f70"/><stop offset=".201" stop-color="#481668"/><stop offset=".3" stop-color="#460a5d"/><stop offset=".399" stop-color="#460b5e"/><stop offset=".498" stop-color="#481c6e"/><stop offset=".548" stop-color="#433e85"/><stop offset=".597" stop-color="#365c8d"/><stop offset=".647" stop-color="#2a768e"/><stop offset=".696" stop-color="#21918c"/><stop offset=".729" stop-color="#23a983"/><stop offset=".762" stop-color="#46c06f"/><stop offset=".795" stop-color="#7fd34e"/><stop offset=".894" stop-color="#bade28"/><stop offset=".994" stop-color="#addc30"/></linearGradient><linearGradient id="g297" x1="0" y1="0" x2="0" y2="1"><stop offset=".002" stop-color="#482475"/><stop offset=".102" stop-color="#481d6f"/><stop offset=".201" stop-color="#481467"/><stop offset=".3" stop-color="#46085c"/><stop offset=".399" stop-color="#46085c"/><stop offset=".498" stop-color="#481769"/><stop offset=".548" stop-color="#443a83"/><stop offset=".597" stop-color="#375a8c"/><stop offset=".647" stop-color="#2b758e"/><stop offset=".696" stop-color="#21908d"/><stop offset=".729" stop-color="#22a884"/><stop offset=".762" stop-color="#44bf70"/><stop offset=".795" stop-color="#7fd34e"/><stop offset=".894" stop-color="#bade28"/><stop offset=".994" stop-color="#addc30"/></linearGradient><linearGradient id="g298" x1="0" y1="0" x2="0" y2="1"><stop offset=".002" stop-color="#482374"/><stop offset=".102" stop-color="#481d6f"/><stop offset=".201" stop-color="#481668"/><stop offset=".3" stop-color="#460b5e"/><stop offset=".399" stop-color="#460b5e"/><stop offset=".498" stop-color="#481c6e"/><stop offset=".548" stop-color="#433d84"/><stop offset=".597" stop-color="#375a8c"/><stop offset=".647" stop-color="#2b748e"/><stop offset=".696" stop-color="#228d8d"/><stop offset=".729" stop-color="#20a486"/><stop offset=".762" stop-color="#3bbb75"/><stop offset=".795" stop-color="#6ccd5a"/><stop offset=".894" stop-color="#a5db36"/><stop offset=".994" stop-color="#98d83e"/></linearGradient><linearGradient id="g299" x1="0" y1="0" x2="0" y2="1"><stop offset=".002" stop-color="#482173"/><stop offset=".102" stop-color="#481d6f"/><stop offset=".201" stop-color="#48186a"/><stop offset=".3" stop-color="#470e61"/><stop offset=".399" stop-color="#470e61"/><stop offset=".498" stop-color="#482071"/><stop offset=".548" stop-color="#433e85"/><stop offset=".597" stop-color="#375a8c"/><stop offset=".647" stop-color="#2c728e"/><stop offset=".696" stop-color="#228b8d"/><stop offset=".729" stop-color="#1fa188"/><stop offset=".762" stop-color="#32b67a"/><stop offset=".795" stop-color="#5cc863"/><stop offset=".894" stop-color="#93d741"/><stop offset=".994" stop-color="#86d549"/></linearGradient><linearGradient id="g300" x1="0" y1="0" x2="0" y2="1"><stop offset=".002" stop-color="#482071"/><stop offset=".102" stop-color="#481d6f"/><stop offset=".201" stop-color="#481a6c"/><stop offset=".3" stop-color="#471164"/><stop offset=".399" stop-color="#471164"/><stop offset=".498" stop-color="#482475"/><stop offset=".548" stop-color="#424086"/><stop offset=".597" stop-color="#375a8c"/><stop offset=".647" stop-color="#2c718e"/><stop offset=".696" stop-color="#23888e"/><stop offset=".746" stop-color="#21a685"/><stop offset=".795" stop-color="#4cc26c"/><stop offset=".894" stop-color="#7fd34e"/><stop offset=".994" stop-color="#73d056"/></linearGradient><linearGradient id="g301" x1="0" y1="0" x2="0" y2="1"><stop offset=".002" stop-color="#481f70"/><stop offset=".102" stop-color="#481d6f"/><stop offset=".201" stop-color="#481c6e"/><stop offset=".3" stop-color="#481467"/><stop offset=".399" stop-color="#481467"/><stop offset=".498" stop-color="#482878"/><stop offset=".548" stop-color="#414287"/><stop offset=".597" stop-color="#375a8c"/><stop offset=".647" stop-color="#2d718e"/><stop offset=".696" stop-color="#25858e"/><stop offset=".746" stop-color="#1fa187"/><stop offset=".795" stop-color="#3fbc73"/><stop offset=".894" stop-color="#6ece58"/><stop offset=".994" stop-color="#63cb5f"/></linearGradient><linearGradient id="g302" x1="0" y1="0" x2="0" y2="1"><stop offset=".002" stop-color="#481c6e"/><stop offset=".102" stop-color="#481c6e"/><stop offset=".201" stop-color="#481c6e"/><stop offset=".3" stop-color="#481668"/><stop offset=".399" stop-color="#481668"/><stop offset=".498" stop-color="#472a7a"/><stop offset=".548" stop-color="#414487"/><stop offset=".597" stop-color="#375b8d"/><stop offset=".647" stop-color="#2d708e"/><stop offset=".696" stop-color="#25838e"/><stop offset=".746" stop-color="#1f9f88"/><stop offset=".795" stop-color="#37b878"/><stop offset=".894" stop-color="#63cb5f"/><stop offset=".994" stop-color="#58c765"/></linearGradient><linearGradient id="g303" x1="0" y1="0" x2="0" y2="1"><stop offset=".002" stop-color="#481b6d"/><stop offset=".102" stop-color="#481b6d"/><stop offset=".201" stop-color="#481a6c"/><stop offset=".3" stop-color="#471365"/><stop offset=".399" stop-color="#481467"/><stop offset=".498" stop-color="#482979"/><stop offset=".548" stop-color="#414487"/><stop offset=".597" stop-color="#365c8d"/><stop offset=".647" stop-color="#2d708e"/><stop offset=".696" stop-color="#26828e"/><stop offset=".746" stop-color="#1f9f88"/><stop offset=".795" stop-color="#38b977"/><stop offset=".894" stop-color="#65cb5e"/><stop offset=".994" stop-color="#56c667"/></linearGradient><linearGradient id="g304" x1="0" y1="0" x2="0" y2="1"><stop offset=".002" stop-color="#48186a"/><stop offset=".102" stop-color="#48186a"/><stop offset=".201" stop-color="#481668"/><stop offset=".3" stop-color="#471063"/><stop offset=".399" stop-color="#471164"/><stop offset=".498" stop-color="#482878"/><stop offset=".548" stop-color="#414487"/><stop offset=".597" stop-color="#365d8d"/><stop offset=".647" stop-color="#2e6f8e"/><stop offset=".696" stop-color="#26818e"/><stop offset=".746" stop-color="#1f9e89"/><stop offset=".795" stop-color="#3aba76"/><stop offset=".894" stop-color="#67cc5c"/><stop offset=".994" stop-color="#54c568"/></linearGradient><linearGradient id="g305" x1="0" y1="0" x2="0" y2="1"><stop offset=".002" stop-color="#481769"/><stop offset=".102" stop-color="#481769"/><stop offset=".201" stop-color="#471365"/><stop offset=".3" stop-color="#470d60"/><stop offset=".399" stop-color="#471063"/><stop offset=".498" stop-color="#482677"/><stop offset=".548" stop-color="#414487"/><stop offset=".597" stop-color="#355e8d"/><stop offset=".647" stop-color="#2e6f8e"/><stop offset=".696" stop-color="#27808e"/><stop offset=".746" stop-color="#1f9e89"/><stop offset=".795" stop-color="#3bbb75"/><stop offset=".894" stop-color="#69cd5b"/><stop offset=".994" stop-color="#52c569"/></linearGradient><linearGradient id="g306" x1="0" y1="0" x2="0" y2="1"><stop offset=".002" stop-color="#481467"/><stop offset=".102" stop-color="#481467"/><stop offset=".201" stop-color="#470e61"/><stop offset=".3" stop-color="#460a5d"/><stop offset=".399" stop-color="#470d60"/><stop offset=".498" stop-color="#482576"/><stop offset=".548" stop-color="#414487"/><stop offset=".597" stop-color="#355f8d"/><stop offset=".696" stop-color="#277e8e"/><stop offset=".729" stop-color="#20938c"/><stop offset=".762" stop-color="#22a884"/><stop offset=".795" stop-color="#3dbc74"/><stop offset=".894" stop-color="#6ccd5a"/><stop offset=".994" stop-color="#50c46a"/></linearGradient><linearGradient id="g307" x1="0" y1="0" x2="0" y2="1"><stop offset=".002" stop-color="#481467"/><stop offset=".102" stop-color="#481467"/><stop offset=".201" stop-color="#470d60"/><stop offset=".3" stop-color="#46085c"/><stop offset=".399" stop-color="#460b5e"/><stop offset=".498" stop-color="#482475"/><stop offset=".548" stop-color="#414287"/><stop offset=".597" stop-color="#355f8d"/><stop offset=".696" stop-color="#287d8e"/><stop offset=".729" stop-color="#20928c"/><stop offset=".762" stop-color="#22a785"/><stop offset=".795" stop-color="#3dbc74"/><stop offset=".894" stop-color="#6ccd5a"/><stop offset=".994" stop-color="#4cc26c"/></linearGradient><linearGradient id="g308" x1="0" y1="0" x2="0" y2="1"><stop offset=".002" stop-color="#481668"/><stop offset=".102" stop-color="#481668"/><stop offset=".201" stop-color="#470e61"/><stop offset=".3" stop-color="#46085c"/><stop offset=".399" stop-color="#460b5e"/><stop offset=".498" stop-color="#482374"/><stop offset=".548" stop-color="#424186"/><stop offset=".597" stop-color="#355e8d"/><stop offset=".696" stop-color="#287d8e"/><stop offset=".746" stop-color="#1e9b8a"/><stop offset=".795" stop-color="#37b878"/><stop offset=".894" stop-color="#60ca60"/><stop offset=".994" stop-color="#46c06f"/></linearGradient><linearGradient id="g309" x1="0" y1="0" x2="0" y2="1"><stop offset=".002" stop-color="#48186a"/><stop offset=".102" stop-color="#48186a"/><stop offset=".201" stop-color="#471164"/><stop offset=".3" stop-color="#460a5d"/><stop offset=".399" stop-color="#460b5e"/><stop offset=".498" stop-color="#482173"/><stop offset=".548" stop-color="#424086"/><stop offset=".597" stop-color="#365d8d"/><stop offset=".696" stop-color="#287d8e"/><stop offset=".746" stop-color="#1f998a"/><stop offset=".795" stop-color="#31b57b"/><stop offset=".894" stop-color="#54c568"/><stop offset=".994" stop-color="#40bd72"/></linearGradient><linearGradient id="g310" x1="0" y1="0" x2="0" y2="1"><stop offset=".002" stop-color="#481b6d"/><stop offset=".102" stop-color="#481b6d"/><stop offset=".201" stop-color="#471365"/><stop offset=".3" stop-color="#460a5d"/><stop offset=".399" stop-color="#460b5e"/><stop offset=".498" stop-color="#482071"/><stop offset=".548" stop-color="#423f85"/><stop offset=".597" stop-color="#365c8d"/><stop offset=".647" stop-color="#2e6d8e"/><stop offset=".696" stop-color="#287d8e"/><stop offset=".746" stop-color="#1f978b"/><stop offset=".795" stop-color="#2ab07f"/><stop offset=".894" stop-color="#4ac16d"/><stop offset=".994" stop-color="#3aba76"/></linearGradient><linearGradient id="g311" x1="0" y1="0" x2="0" y2="1"><stop offset=".002" stop-color="#481c6e"/><stop offset=".102" stop-color="#481c6e"/><stop offset=".201" stop-color="#481668"/><stop offset=".3" stop-color="#460b5e"/><stop offset=".399" stop-color="#460b5e"/><stop offset=".498" stop-color="#481f70"/><stop offset=".548" stop-color="#433e85"/><stop offset=".597" stop-color="#375b8d"/><stop offset=".647" stop-color="#2f6c8e"/><stop offset=".696" stop-color="#287d8e"/><stop offset=".746" stop-color="#1f948c"/><stop offset=".795" stop-color="#26ad81"/><stop offset=".894" stop-color="#3fbc73"/><stop offset=".994" stop-color="#35b779"/></linearGradient><linearGradient id="g312" x1="0" y1="0" x2="0" y2="1"><stop offset="0" stop-color="#6f9ad8"/><stop offset=".1" stop-color="#6f9ad8"/><stop offset=".2" stop-color="#6f9ad8"/><stop offset=".3" stop-color="#6f9ad8"/><stop offset=".39" stop-color="#6f9ad8"/><stop offset=".49" stop-color="#6f9ad8"/><stop offset=".59" stop-color="#6f9ad8"/><stop offset=".69" stop-color="#6f9ad8"/><stop offset=".79" stop-color="#1a3d33"/><stop offset=".88" stop-color="#193c32"/><stop offset=".98" stop-color="#193c32"/></linearGradient><linearGradient id="g313" x1="0" y1="0" x2="0" y2="1"><stop offset="0" stop-color="#6f9ad8"/><stop offset=".1" stop-color="#6f9ad8"/><stop offset=".2" stop-color="#6f9ad8"/><stop offset=".3" stop-color="#6f9ad8"/><stop offset=".39" stop-color="#6f9ad8"/><stop offset=".49" stop-color="#6f9ad8"/><stop offset=".59" stop-color="#6f9ad8"/><stop offset=".69" stop-color="#6f9ad8"/><stop offset=".79" stop-color="#244848"/><stop offset=".88" stop-color="#193c32"/><stop offset=".98" stop-color="#193c32"/></linearGradient><linearGradient id="g314" x1="0" y1="0" x2="0" y2="1"><stop offset="0" stop-color="#6f9ad8"/><stop offset=".1" stop-color="#6f9ad8"/><stop offset=".2" stop-color="#6f9ad8"/><stop offset=".3" stop-color="#6f9ad8"/><stop offset=".39" stop-color="#6f9ad8"/><stop offset=".49" stop-color="#6f9ad8"/><stop offset=".59" stop-color="#6f9ad8"/><stop offset=".69" stop-color="#6f9ad8"/><stop offset=".79" stop-color="#1d413a"/><stop offset=".88" stop-color="#193c32"/><stop offset=".98" stop-color="#193c32"/></linearGradient><linearGradient id="g315" x1="0" y1="1" x2="0" y2="0"><stop offset="0" stop-color="#440154"/><stop offset=".06" stop-color="#48186a"/><stop offset=".12" stop-color="#472d7b"/><stop offset=".19" stop-color="#424086"/><stop offset=".25" stop-color="#3b528b"/><stop offset=".31" stop-color="#33638d"/><stop offset=".38" stop-color="#2c728e"/><stop offset=".44" stop-color="#26828e"/><stop offset=".5" stop-color="#21918c"/><stop offset=".56" stop-color="#1fa088"/><stop offset=".62" stop-color="#28ae80"/><stop offset=".69" stop-color="#3fbc73"/><stop offset=".75" stop-color="#5ec962"/><stop offset=".81" stop-color="#84d44b"/><stop offset=".88" stop-color="#addc30"/><stop offset=".94" stop-color="#d8e219"/><stop offset="1" stop-color="#fde725"/></linearGradient></defs><text x=".6" y="14.8" font-size="16" fill="#000" font-weight="bold">A</text>
<text x="57" y="14.7" font-size="11" fill="#000" font-weight="bold" textLength="78" lengthAdjust="spacingAndGlyphs">Triple positive</text>
<text x="194.8" y="14.9" font-size="16" fill="#000" font-weight="bold">B</text>
<path d="M22.3 152V25.53" stroke="#000" stroke-width="3.2" fill="none"/>
<path d="M22.3 20L18.2 27.9L26.4 27.9Z" fill="#000"/>
<text transform="translate(13.2 94.5) rotate(-90)" font-size="8" fill="#000" text-anchor="middle" textLength="80" lengthAdjust="spacingAndGlyphs">Ag density (sites/cell)</text>
<text x="51.6" y="33.95" font-size="5.5" fill="#222" text-anchor="end">3,645</text>
<text x="51.6" y="45.99" font-size="5.5" fill="#222" text-anchor="end">3,540</text>
<text x="51.6" y="58.03" font-size="5.5" fill="#222" text-anchor="end">3,450</text>
<text x="51.6" y="70.07" font-size="5.5" fill="#222" text-anchor="end">2,092</text>
<text x="51.6" y="82.11" font-size="5.5" fill="#222" text-anchor="end">389</text>
<text x="51.6" y="94.15" font-size="5.5" fill="#222" text-anchor="end">35.1</text>
<text x="51.6" y="106.19" font-size="5.5" fill="#222" text-anchor="end">3.09</text>
<text x="51.6" y="118.23" font-size="5.5" fill="#222" text-anchor="end">0.28</text>
<text x="51.6" y="130.27" font-size="5.5" fill="#222" text-anchor="end">0.03</text>
<text x="51.6" y="142.31" font-size="5.5" fill="#222" text-anchor="end">0</text>
<text x="51.6" y="154.35" font-size="5.5" fill="#222" text-anchor="end">MART1</text>
<rect x="58.2" y="29.8" width="2.8" height="123.4" fill="url(#g1)"/>
<rect x="61" y="29.8" width="3" height="123.4" fill="url(#g2)"/>
<rect x="64" y="29.8" width="3" height="123.4" fill="url(#g3)"/>
<rect x="67" y="29.8" width="3" height="123.4" fill="url(#g4)"/>
<rect x="70" y="29.8" width="3" height="123.4" fill="url(#g5)"/>
<rect x="73" y="29.8" width="3" height="123.4" fill="url(#g6)"/>
<rect x="76" y="29.8" width="3" height="123.4" fill="url(#g7)"/>
<rect x="79" y="29.8" width="3" height="123.4" fill="url(#g8)"/>
<rect x="82" y="29.8" width="3" height="123.4" fill="url(#g9)"/>
<rect x="85" y="29.8" width="3" height="123.4" fill="url(#g10)"/>
<rect x="88" y="29.8" width="3" height="123.4" fill="url(#g11)"/>
<line x1="59" y1="41.5" x2="89.2" y2="41.5" stroke="#f1ebf9" stroke-width=".9" stroke-opacity=".8"/>
<line x1="59" y1="53.8" x2="89.2" y2="53.8" stroke="#f1ebf9" stroke-width=".9" stroke-opacity=".8"/>
<line x1="59" y1="66.1" x2="89.2" y2="66.1" stroke="#f1ebf9" stroke-width=".9" stroke-opacity=".8"/>
<line x1="59" y1="78.4" x2="89.2" y2="78.4" stroke="#f1ebf9" stroke-width=".9" stroke-opacity=".8"/>
<line x1="59" y1="90.7" x2="89.2" y2="90.7" stroke="#f1ebf9" stroke-width=".9" stroke-opacity=".8"/>
<line x1="59" y1="103" x2="89.2" y2="103" stroke="#f1ebf9" stroke-width=".9" stroke-opacity=".8"/>
<line x1="59" y1="115.3" x2="89.2" y2="115.3" stroke="#f1ebf9" stroke-width=".9" stroke-opacity=".8"/>
<line x1="59" y1="127.6" x2="89.2" y2="127.6" stroke="#f1ebf9" stroke-width=".9" stroke-opacity=".8"/>
<line x1="59" y1="139.9" x2="89.2" y2="139.9" stroke="#f1ebf9" stroke-width=".9" stroke-opacity=".8"/>
<line x1="58.6" y1="29.8" x2="58.6" y2="153.2" stroke="#208a6a" stroke-width=".8" stroke-opacity=".55"/>
<rect x="74.4" y="29.8" width=".8" height="125" fill="url(#g12)" fill-opacity=".5"/>
<line x1="90.6" y1="29.8" x2="90.6" y2="153.2" stroke="#c01838" stroke-width=".8" stroke-opacity=".5"/>
<line x1="58.2" y1="30.1" x2="91" y2="30.1" stroke="#206060" stroke-width=".6" stroke-opacity=".4"/>
<text transform="translate(62.3 162.6)  rotate(-46) scale(.88 1)" font-size="5.6" text-anchor="end" fill="#3fb58a" stroke="#3fb58a" stroke-width=".25">Low</text>
<text transform="translate(77.57 162.6)  rotate(-46) scale(.88 1)" font-size="5.6" text-anchor="end" fill="#3d9fdc" stroke="#3d9fdc" stroke-width=".25">Med</text>
<text transform="translate(92.84 162.6)  rotate(-46) scale(.88 1)" font-size="5.6" text-anchor="end" fill="#e8343c" stroke="#e8343c" stroke-width=".25">High</text>
<rect x="105.5" y="29.8" width="3.5" height="123.4" fill="url(#g13)"/>
<rect x="109" y="29.8" width="3" height="123.4" fill="url(#g14)"/>
<rect x="112" y="29.8" width="3" height="123.4" fill="url(#g15)"/>
<rect x="115" y="29.8" width="3" height="123.4" fill="url(#g16)"/>
<rect x="118" y="29.8" width="3" height="123.4" fill="url(#g17)"/>
<rect x="121" y="29.8" width="3" height="123.4" fill="url(#g18)"/>
<rect x="124" y="29.8" width="3" height="123.4" fill="url(#g19)"/>
<rect x="127" y="29.8" width="3" height="123.4" fill="url(#g20)"/>
<rect x="130" y="29.8" width="4" height="123.4" fill="url(#g21)"/>
<rect x="134" y="29.8" width="3" height="123.4" fill="url(#g22)"/>
<rect x="137" y="29.8" width="2.8" height="123.4" fill="url(#g23)"/>
<line x1="106.3" y1="41.5" x2="138" y2="41.5" stroke="#f1ebf9" stroke-width=".9" stroke-opacity=".8"/>
<line x1="106.3" y1="53.8" x2="138" y2="53.8" stroke="#f1ebf9" stroke-width=".9" stroke-opacity=".8"/>
<line x1="106.3" y1="66.1" x2="138" y2="66.1" stroke="#f1ebf9" stroke-width=".9" stroke-opacity=".8"/>
<line x1="106.3" y1="78.4" x2="138" y2="78.4" stroke="#f1ebf9" stroke-width=".9" stroke-opacity=".8"/>
<line x1="106.3" y1="90.7" x2="138" y2="90.7" stroke="#f1ebf9" stroke-width=".9" stroke-opacity=".8"/>
<line x1="106.3" y1="103" x2="138" y2="103" stroke="#f1ebf9" stroke-width=".9" stroke-opacity=".8"/>
<line x1="106.3" y1="115.3" x2="138" y2="115.3" stroke="#f1ebf9" stroke-width=".9" stroke-opacity=".8"/>
<line x1="106.3" y1="127.6" x2="138" y2="127.6" stroke="#f1ebf9" stroke-width=".9" stroke-opacity=".8"/>
<line x1="106.3" y1="139.9" x2="138" y2="139.9" stroke="#f1ebf9" stroke-width=".9" stroke-opacity=".8"/>
<line x1="105.9" y1="29.8" x2="105.9" y2="153.2" stroke="#208a6a" stroke-width=".8" stroke-opacity=".55"/>
<rect x="122.45" y="29.8" width=".8" height="125" fill="url(#g24)" fill-opacity=".5"/>
<line x1="139.4" y1="29.8" x2="139.4" y2="153.2" stroke="#c01838" stroke-width=".8" stroke-opacity=".5"/>
<line x1="105.5" y1="30.1" x2="139.8" y2="30.1" stroke="#206060" stroke-width=".6" stroke-opacity=".4"/>
<text transform="translate(108.11 162.6)  rotate(-46) scale(.88 1)" font-size="5.6" text-anchor="end" fill="#3fb58a" stroke="#3fb58a" stroke-width=".25">Low</text>
<text transform="translate(123.38 162.6)  rotate(-46) scale(.88 1)" font-size="5.6" text-anchor="end" fill="#3d9fdc" stroke="#3d9fdc" stroke-width=".25">Med</text>
<text transform="translate(138.65 162.6)  rotate(-46) scale(.88 1)" font-size="5.6" text-anchor="end" fill="#e8343c" stroke="#e8343c" stroke-width=".25">High</text>
<rect x="153.4" y="29.8" width="2.6" height="123.4" fill="url(#g25)"/>
<rect x="156" y="29.8" width="3" height="123.4" fill="url(#g26)"/>
<rect x="159" y="29.8" width="3" height="123.4" fill="url(#g27)"/>
<rect x="162" y="29.8" width="3" height="123.4" fill="url(#g28)"/>
<rect x="165" y="29.8" width="3" height="123.4" fill="url(#g29)"/>
<rect x="168" y="29.8" width="3" height="123.4" fill="url(#g30)"/>
<rect x="171" y="29.8" width="3" height="123.4" fill="url(#g31)"/>
<rect x="174" y="29.8" width="3" height="123.4" fill="url(#g32)"/>
<rect x="177" y="29.8" width="3" height="123.4" fill="url(#g33)"/>
<rect x="180" y="29.8" width="3" height="123.4" fill="url(#g34)"/>
<line x1="154.2" y1="41.5" x2="181.2" y2="41.5" stroke="#f1ebf9" stroke-width=".9" stroke-opacity=".8"/>
<line x1="154.2" y1="53.8" x2="181.2" y2="53.8" stroke="#f1ebf9" stroke-width=".9" stroke-opacity=".8"/>
<line x1="154.2" y1="66.1" x2="181.2" y2="66.1" stroke="#f1ebf9" stroke-width=".9" stroke-opacity=".8"/>
<line x1="154.2" y1="78.4" x2="181.2" y2="78.4" stroke="#f1ebf9" stroke-width=".9" stroke-opacity=".8"/>
<line x1="154.2" y1="90.7" x2="181.2" y2="90.7" stroke="#f1ebf9" stroke-width=".9" stroke-opacity=".8"/>
<line x1="154.2" y1="103" x2="181.2" y2="103" stroke="#f1ebf9" stroke-width=".9" stroke-opacity=".8"/>
<line x1="154.2" y1="115.3" x2="181.2" y2="115.3" stroke="#f1ebf9" stroke-width=".9" stroke-opacity=".8"/>
<line x1="154.2" y1="127.6" x2="181.2" y2="127.6" stroke="#f1ebf9" stroke-width=".9" stroke-opacity=".8"/>
<line x1="154.2" y1="139.9" x2="181.2" y2="139.9" stroke="#f1ebf9" stroke-width=".9" stroke-opacity=".8"/>
<line x1="153.8" y1="29.8" x2="153.8" y2="153.2" stroke="#208a6a" stroke-width=".8" stroke-opacity=".55"/>
<rect x="168" y="29.8" width=".8" height="125" fill="url(#g35)" fill-opacity=".5"/>
<line x1="182.6" y1="29.8" x2="182.6" y2="153.2" stroke="#c01838" stroke-width=".8" stroke-opacity=".5"/>
<line x1="153.4" y1="30.1" x2="183" y2="30.1" stroke="#206060" stroke-width=".6" stroke-opacity=".4"/>
<text transform="translate(153.92 162.6)  rotate(-46) scale(.88 1)" font-size="5.6" text-anchor="end" fill="#3fb58a" stroke="#3fb58a" stroke-width=".25">Low</text>
<text transform="translate(169.19 162.6)  rotate(-46) scale(.88 1)" font-size="5.6" text-anchor="end" fill="#3d9fdc" stroke="#3d9fdc" stroke-width=".25">Med</text>
<text transform="translate(184.46 162.6)  rotate(-46) scale(.88 1)" font-size="5.6" text-anchor="end" fill="#e8343c" stroke="#e8343c" stroke-width=".25">High</text>
<line x1="58.5" y1="174" x2="83.5" y2="174" stroke="#000" stroke-width="1.4"/>
<text x="56.7" y="182.3" font-size="6.8" fill="#000" textLength="28" lengthAdjust="spacingAndGlyphs">434 nmol/L</text>
<line x1="105.75" y1="174" x2="132.5" y2="174" stroke="#000" stroke-width="1.4"/>
<text x="106.05" y="182.3" font-size="6.8" fill="#000" textLength="23.8" lengthAdjust="spacingAndGlyphs">35 nmol/L</text>
<line x1="149" y1="174" x2="175" y2="174" stroke="#000" stroke-width="1.4"/>
<text x="151.3" y="182.3" font-size="6.8" fill="#000" textLength="22" lengthAdjust="spacingAndGlyphs">4 nmol/L</text>
<path d="M58.5 191H148.72" stroke="#000" stroke-width="2.3" fill="none"/>
<path d="M152.5 191L147.1 187.6L147.1 194.4Z" fill="#000"/>
<text x="58.8" y="199.6" font-size="6.8" fill="#000" textLength="53" lengthAdjust="spacingAndGlyphs">Affinity/expression</text>
<rect x="203" y="29.5" width="3" height="124" fill="url(#g36)"/>
<rect x="206" y="29.5" width="3" height="124" fill="url(#g37)"/>
<rect x="209" y="29.5" width="3" height="124" fill="url(#g38)"/>
<rect x="212" y="29.5" width="3" height="124" fill="url(#g39)"/>
<rect x="215" y="29.5" width="3" height="124" fill="url(#g40)"/>
<rect x="218" y="29.5" width="3" height="124" fill="url(#g41)"/>
<rect x="221" y="29.5" width="3" height="124" fill="url(#g42)"/>
<rect x="224" y="29.5" width="3" height="124" fill="url(#g43)"/>
<rect x="227" y="29.5" width="3" height="124" fill="url(#g44)"/>
<rect x="230" y="29.5" width="3" height="124" fill="url(#g45)"/>
<rect x="233" y="29.5" width="3" height="124" fill="url(#g46)"/>
<rect x="236" y="29.5" width="3" height="124" fill="url(#g47)"/>
<rect x="239" y="29.5" width="3" height="124" fill="url(#g48)"/>
<rect x="242" y="29.5" width="3" height="124" fill="url(#g49)"/>
<rect x="245" y="29.5" width="3" height="124" fill="url(#g50)"/>
<rect x="248" y="29.5" width="3" height="124" fill="url(#g51)"/>
<rect x="251" y="29.5" width="3" height="124" fill="url(#g52)"/>
<rect x="254" y="29.5" width="3" height="124" fill="url(#g53)"/>
<rect x="257" y="29.5" width="3" height="124" fill="url(#g54)"/>
<rect x="260" y="29.5" width="3" height="124" fill="url(#g55)"/>
<rect x="263" y="29.5" width="3" height="124" fill="url(#g56)"/>
<rect x="266" y="29.5" width="3" height="124" fill="url(#g57)"/>
<rect x="269" y="29.5" width="3" height="124" fill="url(#g58)"/>
<rect x="272" y="29.5" width="3" height="124" fill="url(#g59)"/>
<rect x="275" y="29.5" width="3" height="124" fill="url(#g60)"/>
<rect x="278" y="29.5" width="3" height="124" fill="url(#g61)"/>
<rect x="281" y="29.5" width="3" height="124" fill="url(#g62)"/>
<rect x="284" y="29.5" width="3" height="124" fill="url(#g63)"/>
<rect x="287" y="29.5" width="2" height="124" fill="url(#g64)"/>
<rect x="289" y="29.5" width="3" height="124" fill="url(#g65)"/>
<rect x="292" y="29.5" width="3" height="124" fill="url(#g66)"/>
<rect x="295" y="29.5" width="3" height="124" fill="url(#g67)"/>
<rect x="298" y="29.5" width="3" height="124" fill="url(#g68)"/>
<rect x="301" y="29.5" width="3" height="124" fill="url(#g69)"/>
<rect x="304" y="29.5" width="3" height="124" fill="url(#g70)"/>
<rect x="307" y="29.5" width="3" height="124" fill="url(#g71)"/>
<rect x="310" y="29.5" width="3" height="124" fill="url(#g72)"/>
<rect x="313" y="29.5" width="3" height="124" fill="url(#g73)"/>
<rect x="316" y="29.5" width="3" height="124" fill="url(#g74)"/>
<rect x="319" y="29.5" width="3.3" height="124" fill="url(#g75)"/>
<line x1="204" y1="41.5" x2="319.8" y2="41.5" stroke="#f1ebf9" stroke-width=".9" stroke-opacity=".8"/>
<line x1="204" y1="53.8" x2="319.8" y2="53.8" stroke="#f1ebf9" stroke-width=".9" stroke-opacity=".8"/>
<line x1="204" y1="66.1" x2="319.8" y2="66.1" stroke="#f1ebf9" stroke-width=".9" stroke-opacity=".8"/>
<line x1="204" y1="78.4" x2="319.8" y2="78.4" stroke="#f1ebf9" stroke-width=".9" stroke-opacity=".8"/>
<line x1="204" y1="90.7" x2="319.8" y2="90.7" stroke="#f1ebf9" stroke-width=".9" stroke-opacity=".8"/>
<line x1="204" y1="103" x2="319.8" y2="103" stroke="#f1ebf9" stroke-width=".9" stroke-opacity=".8"/>
<line x1="204" y1="115.3" x2="319.8" y2="115.3" stroke="#f1ebf9" stroke-width=".9" stroke-opacity=".8"/>
<line x1="204" y1="127.6" x2="319.8" y2="127.6" stroke="#f1ebf9" stroke-width=".9" stroke-opacity=".8"/>
<line x1="204" y1="139.9" x2="319.8" y2="139.9" stroke="#f1ebf9" stroke-width=".9" stroke-opacity=".8"/>
<line x1="203.4" y1="29.5" x2="203.4" y2="155" stroke="#a8e6dc" stroke-width=".7" stroke-opacity=".6"/>
<line x1="219.25" y1="29.5" x2="219.25" y2="155" stroke="#a8e6dc" stroke-width=".7" stroke-opacity=".6"/>
<line x1="235.5" y1="29.5" x2="235.5" y2="155" stroke="#a8e6dc" stroke-width=".7" stroke-opacity=".6"/>
<rect x="248.9" y="29.5" width=".7" height="125.5" fill="url(#g76)" fill-opacity=".6"/>
<rect x="262.65" y="29.5" width=".7" height="125.5" fill="url(#g77)" fill-opacity=".6"/>
<rect x="277.65" y="29.5" width=".7" height="125.5" fill="url(#g78)" fill-opacity=".6"/>
<line x1="292.5" y1="29.5" x2="292.5" y2="155" stroke="#e6b4d4" stroke-width=".7" stroke-opacity=".6"/>
<line x1="307.25" y1="29.5" x2="307.25" y2="155" stroke="#e6b4d4" stroke-width=".7" stroke-opacity=".6"/>
<text transform="translate(206.8 161.3) rotate(-54) scale(.9 1)" font-size="6" text-anchor="end" fill="#1a1a1a" stroke="#1a1a1a" stroke-width=".12">434 nmol/L-<tspan fill="#3fb58a" stroke="#3fb58a">Low</tspan></text>
<text transform="translate(218.3 161.3) rotate(-54) scale(.9 1)" font-size="6" text-anchor="end" fill="#1a1a1a" stroke="#1a1a1a" stroke-width=".12">4 nmol/L-<tspan fill="#3fb58a" stroke="#3fb58a">Low</tspan></text>
<text transform="translate(233.3 161.3) rotate(-54) scale(.9 1)" font-size="6" text-anchor="end" fill="#1a1a1a" stroke="#1a1a1a" stroke-width=".12">35 nmol/L-<tspan fill="#3fb58a" stroke="#3fb58a">Low</tspan></text>
<text transform="translate(249.5 161.3) rotate(-54) scale(.9 1)" font-size="6" text-anchor="end" fill="#1a1a1a" stroke="#1a1a1a" stroke-width=".12">434 nmol/L-<tspan fill="#3d9fdc" stroke="#3d9fdc">Med</tspan></text>
<text transform="translate(263 161.3) rotate(-54) scale(.9 1)" font-size="6" text-anchor="end" fill="#1a1a1a" stroke="#1a1a1a" stroke-width=".12">35 nmol/L-<tspan fill="#3d9fdc" stroke="#3d9fdc">Med</tspan></text>
<text transform="translate(276.8 161.3) rotate(-54) scale(.9 1)" font-size="6" text-anchor="end" fill="#1a1a1a" stroke="#1a1a1a" stroke-width=".12">4 nmol/L-<tspan fill="#3d9fdc" stroke="#3d9fdc">Med</tspan></text>
<text transform="translate(292.3 161.3) rotate(-54) scale(.9 1)" font-size="6" text-anchor="end" fill="#1a1a1a" stroke="#1a1a1a" stroke-width=".12">35 nmol/L-<tspan fill="#e8343c" stroke="#e8343c">High</tspan></text>
<text transform="translate(307.5 161.3) rotate(-54) scale(.9 1)" font-size="6" text-anchor="end" fill="#1a1a1a" stroke="#1a1a1a" stroke-width=".12">434 nmol/L-<tspan fill="#e8343c" stroke="#e8343c">High</tspan></text>
<text transform="translate(320 161.3) rotate(-54) scale(.9 1)" font-size="6" text-anchor="end" fill="#1a1a1a" stroke="#1a1a1a" stroke-width=".12">4 nmol/L-<tspan fill="#e8343c" stroke="#e8343c">High</tspan></text>
<path d="M203 198H295.92" stroke="#000" stroke-width="2.3" fill="none"/>
<path d="M299.7 198L294.3 194.6L294.3 201.4Z" fill="#000"/>
<text x="205" y="206.4" font-size="7" fill="#000" textLength="19.4" lengthAdjust="spacingAndGlyphs">Avidity</text>
<rect x="335.5" y="51.75" width="5.75" height="92.5" fill="url(#g79)"/>
<text x="343.45" y="64.4" font-size="8.8" fill="#222">50</text>
<text x="343.45" y="81.9" font-size="8.8" fill="#222">40</text>
<text x="343.45" y="98.9" font-size="8.8" fill="#222">30</text>
<text x="343.45" y="115.65" font-size="8.8" fill="#222">20</text>
<text x="343.45" y="132.65" font-size="8.8" fill="#222">10</text>
<text x="372.6" y="15.1" font-size="16" fill="#000" font-weight="bold">C</text>
<text transform="translate(381.4 94.4) rotate(-90)" font-size="13.4" fill="#000" text-anchor="middle" textLength="45.5" lengthAdjust="spacingAndGlyphs">Percent</text>
<path d="M389.5 139.5V58.22" stroke="#000" stroke-width="2.4" fill="none"/>
<path d="M389.5 55L387.1 59.6L391.9 59.6Z" fill="#000"/>
<text x="404.05" y="68.65" font-size="8.8" fill="#222" text-anchor="end">40</text>
<text x="404.05" y="105.65" font-size="8.8" fill="#222" text-anchor="end">20</text>
<text x="404.05" y="142.65" font-size="8.8" fill="#222" text-anchor="end">0</text>
<rect x="406.3" y="29.5" width="112.4" height="112.5" fill="#ebebeb"/>
<line x1="406.3" y1="139.5" x2="518.7" y2="139.5" stroke="#fff" stroke-width=".5" stroke-opacity=".6"/>
<line x1="406.3" y1="102.5" x2="518.7" y2="102.5" stroke="#fff" stroke-width=".5" stroke-opacity=".6"/>
<line x1="406.3" y1="65.5" x2="518.7" y2="65.5" stroke="#fff" stroke-width=".5" stroke-opacity=".6"/>
<line x1="406.3" y1="121" x2="518.7" y2="121" stroke="#fff" stroke-width=".3" stroke-opacity=".45"/>
<line x1="406.3" y1="84" x2="518.7" y2="84" stroke="#fff" stroke-width=".3" stroke-opacity=".45"/>
<line x1="406.3" y1="47" x2="518.7" y2="47" stroke="#fff" stroke-width=".3" stroke-opacity=".45"/>
<line x1="411.5" y1="29.5" x2="411.5" y2="142" stroke="#fff" stroke-width=".5" stroke-opacity=".55"/>
<line x1="423.1" y1="29.5" x2="423.1" y2="142" stroke="#fff" stroke-width=".5" stroke-opacity=".55"/>
<line x1="434.6" y1="29.5" x2="434.6" y2="142" stroke="#fff" stroke-width=".5" stroke-opacity=".55"/>
<line x1="446.2" y1="29.5" x2="446.2" y2="142" stroke="#fff" stroke-width=".5" stroke-opacity=".55"/>
<line x1="457.7" y1="29.5" x2="457.7" y2="142" stroke="#fff" stroke-width=".5" stroke-opacity=".55"/>
<line x1="469.2" y1="29.5" x2="469.2" y2="142" stroke="#fff" stroke-width=".5" stroke-opacity=".55"/>
<line x1="480.8" y1="29.5" x2="480.8" y2="142" stroke="#fff" stroke-width=".5" stroke-opacity=".55"/>
<line x1="491.8" y1="29.5" x2="491.8" y2="142" stroke="#fff" stroke-width=".5" stroke-opacity=".55"/>
<line x1="503.4" y1="29.5" x2="503.4" y2="142" stroke="#fff" stroke-width=".5" stroke-opacity=".55"/>
<line x1="511.9" y1="29.5" x2="511.9" y2="142" stroke="#fff" stroke-width=".5" stroke-opacity=".55"/>
<line x1="514.9" y1="29.5" x2="514.9" y2="142" stroke="#fff" stroke-width=".5" stroke-opacity=".55"/>
<rect x="410.5" y="135.9" width="2" height="2" fill="#22e03c"/>
<rect x="410.5" y="137.5" width="2" height="2" fill="#101050"/>
<path d="M421.9 134.6h2.4M423.1 133.4v2.4" stroke="#f7a0a8" stroke-width=".6"/>
<rect x="422.1" y="135.5" width="2" height="2" fill="#1414b4"/>
<rect x="422.1" y="137.1" width="2" height="2" fill="#22e03c"/>
<path d="M433.4 133.9h2.4M434.6 132.7v2.4" stroke="#f7a0a8" stroke-width=".6"/>
<path d="M434.6 134.6l1.2 2.1h-2.4z" fill="#1414b4"/>
<rect x="433.6" y="136.4" width="2" height="2" fill="#22e03c"/>
<path d="M434.6 137.6l1.2 2.1h-2.4z" fill="#22e03c"/>
<path d="M445 119.2h2.4M446.2 118v2.4" stroke="#9a9ae0" stroke-width=".6"/>
<path d="M446.2 120.3l1.2 2.1h-2.4z" fill="#1414b4"/>
<rect x="445.2" y="123.7" width="2" height="2" fill="#f01020"/>
<path d="M446.2 125.3l1.2 2.1h-2.4z" fill="#22e03c"/>
<rect x="445.2" y="127.2" width="2" height="2" fill="#22e03c"/>
<rect x="445.2" y="131.3" width="2" height="2" fill="#1414b4"/>
<path d="M456.5 81.5h2.4M457.7 80.3v2.4" stroke="#a8eeb0" stroke-width=".6"/>
<rect x="456.7" y="90.2" width="2" height="2" fill="#1414b4"/>
<path d="M457.7 92.3l1.2 2.1h-2.4z" fill="#22e03c"/>
<path d="M456.5 100h2.4M457.7 98.8v2.4" stroke="#f7a0a8" stroke-width=".6"/>
<rect x="456.7" y="101.3" width="2" height="2" fill="#f01020"/>
<rect x="456.3" y="102.1" width="2.8" height="2.8" fill="#101050"/>
<path d="M457.7 103.4l1.2 2.1h-2.4z" fill="#1414b4"/>
<path d="M456.5 113.9h2.4M457.7 112.7v2.4" stroke="#a8eeb0" stroke-width=".6"/>
<path d="M468 49.2h2.4M469.2 48v2.4" stroke="#9a9ae0" stroke-width=".6"/>
<rect x="468.2" y="51.2" width="2" height="2" fill="#1414b4"/>
<path d="M468 61.5h2.4M469.2 60.3v2.4" stroke="#a8eeb0" stroke-width=".6"/>
<rect x="468.2" y="65.1" width="2" height="2" fill="#f01020"/>
<path d="M468 67.7h2.4M469.2 66.5v2.4" stroke="#f7a0a8" stroke-width=".6"/>
<rect x="468.2" y="69" width="2" height="2" fill="#101050"/>
<rect x="468.2" y="74.3" width="2" height="2" fill="#f01020"/>
<path d="M468 77.6h2.4M469.2 76.4v2.4" stroke="#a8eeb0" stroke-width=".6"/>
<path d="M480.8 33l1.2 2.1h-2.4z" fill="#f01020"/>
<path d="M479.6 36.1h2.4M480.8 34.9v2.4" stroke="#9a9ae0" stroke-width=".6"/>
<path d="M480.8 40.4l1.2 2.1h-2.4z" fill="#1414b4"/>
<rect x="479.8" y="43.6" width="2" height="2" fill="#1414b4"/>
<rect x="479.8" y="47.8" width="2" height="2" fill="#22e03c"/>
<rect x="479.4" y="57.1" width="2.8" height="2.8" fill="#101050"/>
<rect x="479.8" y="65.5" width="2" height="2" fill="#f01020"/>
<path d="M490.6 35.4h2.4M491.8 34.2v2.4" stroke="#9a9ae0" stroke-width=".6"/>
<rect x="490.8" y="46.6" width="2" height="2" fill="#101050"/>
<path d="M491.8 53.8l1.2 2.1h-2.4z" fill="#22e03c"/>
<rect x="490.8" y="56.3" width="2" height="2" fill="#22e03c"/>
<rect x="490.8" y="58.2" width="2" height="2" fill="#22e03c"/>
<rect x="490.8" y="67.8" width="2" height="2" fill="#f01020"/>
<path d="M502.2 43.9h2.4M503.4 42.7v2.4" stroke="#9a9ae0" stroke-width=".6"/>
<rect x="502.4" y="51.2" width="2" height="2" fill="#f01020"/>
<path d="M503.4 54.3l1.2 2.1h-2.4z" fill="#1414b4"/>
<rect x="502.4" y="58.6" width="2" height="2" fill="#22e03c"/>
<path d="M503.4 60.3l1.2 2.1h-2.4z" fill="#22e03c"/>
<rect x="502.4" y="68.3" width="2" height="2" fill="#101050"/>
<rect x="510.9" y="47.1" width="2" height="2" fill="#101050"/>
<path d="M510.7 56.2h2.4M511.9 55v2.4" stroke="#f7a0a8" stroke-width=".6"/>
<rect x="510.9" y="58.6" width="2" height="2" fill="#22e03c"/>
<rect x="510.9" y="60.9" width="2" height="2" fill="#22e03c"/>
<rect x="510.9" y="64.4" width="2" height="2" fill="#101050"/>
<rect x="510.5" y="68.6" width="2.8" height="2.8" fill="#101050"/>
<rect x="513.9" y="52.8" width="2" height="2" fill="#f01020"/>
<rect x="513.9" y="57.5" width="2" height="2" fill="#1414b4"/>
<rect x="513.9" y="60.9" width="2" height="2" fill="#22e03c"/>
<path d="M514.9 62.6l1.2 2.1h-2.4z" fill="#22e03c"/>
<path d="M514.9 65.3l1.2 2.1h-2.4z" fill="#f01020"/>
<rect x="513.9" y="69" width="2" height="2" fill="#101050"/>
<path d="M513.7 73.9h2.4M514.9 72.7v2.4" stroke="#a8eeb0" stroke-width=".6"/>
<text transform="translate(412.05 147.2) rotate(-48)" font-size="4.3" fill="#222" text-anchor="end" font-weight="bold">0</text>
<text transform="translate(428.3 147.2) rotate(-48)" font-size="4.3" fill="#222" text-anchor="end" font-weight="bold">0.03</text>
<text transform="translate(439.55 147.2) rotate(-48)" font-size="4.3" fill="#222" text-anchor="end" font-weight="bold">0.28</text>
<text transform="translate(452.05 147.2) rotate(-48)" font-size="4.3" fill="#222" text-anchor="end" font-weight="bold">3.09</text>
<text transform="translate(465.3 147.2) rotate(-48)" font-size="4.3" fill="#222" text-anchor="end" font-weight="bold">35.09</text>
<text transform="translate(479.05 147.2) rotate(-48)" font-size="4.3" fill="#222" text-anchor="end" font-weight="bold">389</text>
<text transform="translate(493.3 147.2) rotate(-48)" font-size="4.3" fill="#222" text-anchor="end" font-weight="bold">2,092</text>
<text transform="translate(505.3 147.2) rotate(-48)" font-size="4.3" fill="#222" text-anchor="end" font-weight="bold">3,450</text>
<text transform="translate(512.8 147.2) rotate(-48)" font-size="4.3" fill="#222" text-anchor="end" font-weight="bold">3,540</text>
<text transform="translate(518.3 147.2) rotate(-48)" font-size="4.3" fill="#222" text-anchor="end" font-weight="bold">3,645</text>
<path d="M405 162H502.75" stroke="#000" stroke-width="2.5" fill="none"/>
<path d="M506.25 162L501.25 158.75L501.25 165.25Z" fill="#000"/>
<text x="447" y="170.85" font-size="4.8" fill="#222" text-anchor="middle" textLength="46" lengthAdjust="spacingAndGlyphs">Ag density (sites/cell)</text>
<text x=".2" y="233.5" font-size="16" fill="#000" font-weight="bold">D</text>
<text x="52.5" y="231.25" font-size="11.2" fill="#000" font-weight="bold" textLength="85.5" lengthAdjust="spacingAndGlyphs">Double positive</text>
<text x="187.8" y="233.6" font-size="16" fill="#000" font-weight="bold">E</text>
<path d="M22.8 359V233.78" stroke="#000" stroke-width="4" fill="none"/>
<path d="M22.8 228.25L18.7 236.15L26.9 236.15Z" fill="#000"/>
<text transform="translate(14 302) rotate(-90)" font-size="8" fill="#000" text-anchor="middle" textLength="80" lengthAdjust="spacingAndGlyphs">Ag density (sites/cell)</text>
<text x="51.75" y="241.55" font-size="5.5" fill="#222" text-anchor="end">3,645</text>
<text x="51.75" y="253.59" font-size="5.5" fill="#222" text-anchor="end">3,540</text>
<text x="51.75" y="265.63" font-size="5.5" fill="#222" text-anchor="end">3,450</text>
<text x="51.75" y="277.67" font-size="5.5" fill="#222" text-anchor="end">2,092</text>
<text x="51.75" y="289.71" font-size="5.5" fill="#222" text-anchor="end">389</text>
<text x="51.75" y="301.75" font-size="5.5" fill="#222" text-anchor="end">35.1</text>
<text x="51.75" y="313.79" font-size="5.5" fill="#222" text-anchor="end">3.09</text>
<text x="51.75" y="325.83" font-size="5.5" fill="#222" text-anchor="end">0.28</text>
<text x="51.75" y="337.87" font-size="5.5" fill="#222" text-anchor="end">0.03</text>
<text x="51.75" y="349.91" font-size="5.5" fill="#222" text-anchor="end">0</text>
<text x="51.75" y="361.95" font-size="5.5" fill="#222" text-anchor="end">MART1</text>
<rect x="59" y="238" width="3" height="123.2" fill="url(#g80)"/>
<rect x="62" y="238" width="3" height="123.2" fill="url(#g81)"/>
<rect x="65" y="238" width="3" height="123.2" fill="url(#g82)"/>
<rect x="68" y="238" width="3" height="123.2" fill="url(#g83)"/>
<rect x="71" y="238" width="3" height="123.2" fill="url(#g84)"/>
<rect x="74" y="238" width="3" height="123.2" fill="url(#g85)"/>
<rect x="77" y="238" width="3" height="123.2" fill="url(#g86)"/>
<rect x="80" y="238" width="3" height="123.2" fill="url(#g87)"/>
<rect x="83" y="238" width="3" height="123.2" fill="url(#g88)"/>
<rect x="86" y="238" width="3" height="123.2" fill="url(#g89)"/>
<rect x="89" y="238" width="3" height="123.2" fill="url(#g90)"/>
<line x1="59.8" y1="249.7" x2="90.2" y2="249.7" stroke="#f1ebf9" stroke-width=".9" stroke-opacity=".8"/>
<line x1="59.8" y1="262" x2="90.2" y2="262" stroke="#f1ebf9" stroke-width=".9" stroke-opacity=".8"/>
<line x1="59.8" y1="274.3" x2="90.2" y2="274.3" stroke="#f1ebf9" stroke-width=".9" stroke-opacity=".8"/>
<line x1="59.8" y1="286.6" x2="90.2" y2="286.6" stroke="#f1ebf9" stroke-width=".9" stroke-opacity=".8"/>
<line x1="59.8" y1="298.9" x2="90.2" y2="298.9" stroke="#f1ebf9" stroke-width=".9" stroke-opacity=".8"/>
<line x1="59.8" y1="311.2" x2="90.2" y2="311.2" stroke="#f1ebf9" stroke-width=".9" stroke-opacity=".8"/>
<line x1="59.8" y1="323.5" x2="90.2" y2="323.5" stroke="#f1ebf9" stroke-width=".9" stroke-opacity=".8"/>
<line x1="59.8" y1="335.8" x2="90.2" y2="335.8" stroke="#f1ebf9" stroke-width=".9" stroke-opacity=".8"/>
<line x1="59.8" y1="348.1" x2="90.2" y2="348.1" stroke="#f1ebf9" stroke-width=".9" stroke-opacity=".8"/>
<line x1="59.4" y1="238" x2="59.4" y2="361.2" stroke="#208a6a" stroke-width=".8" stroke-opacity=".55"/>
<rect x="75.3" y="238" width=".8" height="124.8" fill="url(#g91)" fill-opacity=".5"/>
<line x1="91.6" y1="238" x2="91.6" y2="361.2" stroke="#c01838" stroke-width=".8" stroke-opacity=".5"/>
<line x1="59" y1="238.3" x2="92" y2="238.3" stroke="#206060" stroke-width=".6" stroke-opacity=".4"/>
<text transform="translate(62.8 368.6)  rotate(-46) scale(.88 1)" font-size="6.3" text-anchor="end" fill="#3fb58a" stroke="#3fb58a" stroke-width=".25">Low</text>
<text transform="translate(78.07 368.6)  rotate(-46) scale(.88 1)" font-size="6.3" text-anchor="end" fill="#3d9fdc" stroke="#3d9fdc" stroke-width=".25">Med</text>
<text transform="translate(93.34 368.6)  rotate(-46) scale(.88 1)" font-size="6.3" text-anchor="end" fill="#e8343c" stroke="#e8343c" stroke-width=".25">High</text>
<rect x="106" y="238" width="3" height="123.2" fill="url(#g92)"/>
<rect x="109" y="238" width="3" height="123.2" fill="url(#g93)"/>
<rect x="112" y="238" width="3" height="123.2" fill="url(#g94)"/>
<rect x="115" y="238" width="3" height="123.2" fill="url(#g95)"/>
<rect x="118" y="238" width="2" height="123.2" fill="url(#g96)"/>
<rect x="120" y="238" width="3" height="123.2" fill="url(#g97)"/>
<rect x="123" y="238" width="3" height="123.2" fill="url(#g98)"/>
<rect x="126" y="238" width="3" height="123.2" fill="url(#g99)"/>
<rect x="129" y="238" width="3" height="123.2" fill="url(#g100)"/>
<rect x="132" y="238" width="3" height="123.2" fill="url(#g101)"/>
<rect x="135" y="238" width="3" height="123.2" fill="url(#g102)"/>
<rect x="138" y="238" width="2.5" height="123.2" fill="url(#g103)"/>
<line x1="106.8" y1="249.7" x2="138.7" y2="249.7" stroke="#f1ebf9" stroke-width=".9" stroke-opacity=".8"/>
<line x1="106.8" y1="262" x2="138.7" y2="262" stroke="#f1ebf9" stroke-width=".9" stroke-opacity=".8"/>
<line x1="106.8" y1="274.3" x2="138.7" y2="274.3" stroke="#f1ebf9" stroke-width=".9" stroke-opacity=".8"/>
<line x1="106.8" y1="286.6" x2="138.7" y2="286.6" stroke="#f1ebf9" stroke-width=".9" stroke-opacity=".8"/>
<line x1="106.8" y1="298.9" x2="138.7" y2="298.9" stroke="#f1ebf9" stroke-width=".9" stroke-opacity=".8"/>
<line x1="106.8" y1="311.2" x2="138.7" y2="311.2" stroke="#f1ebf9" stroke-width=".9" stroke-opacity=".8"/>
<line x1="106.8" y1="323.5" x2="138.7" y2="323.5" stroke="#f1ebf9" stroke-width=".9" stroke-opacity=".8"/>
<line x1="106.8" y1="335.8" x2="138.7" y2="335.8" stroke="#f1ebf9" stroke-width=".9" stroke-opacity=".8"/>
<line x1="106.8" y1="348.1" x2="138.7" y2="348.1" stroke="#f1ebf9" stroke-width=".9" stroke-opacity=".8"/>
<line x1="106.4" y1="238" x2="106.4" y2="361.2" stroke="#208a6a" stroke-width=".8" stroke-opacity=".55"/>
<rect x="123.05" y="238" width=".8" height="124.8" fill="url(#g104)" fill-opacity=".5"/>
<line x1="140.1" y1="238" x2="140.1" y2="361.2" stroke="#c01838" stroke-width=".8" stroke-opacity=".5"/>
<line x1="106" y1="238.3" x2="140.5" y2="238.3" stroke="#206060" stroke-width=".6" stroke-opacity=".4"/>
<text transform="translate(108.61 368.6)  rotate(-46) scale(.88 1)" font-size="6.3" text-anchor="end" fill="#3fb58a" stroke="#3fb58a" stroke-width=".25">Low</text>
<text transform="translate(123.88 368.6)  rotate(-46) scale(.88 1)" font-size="6.3" text-anchor="end" fill="#3d9fdc" stroke="#3d9fdc" stroke-width=".25">Med</text>
<text transform="translate(139.15 368.6)  rotate(-46) scale(.88 1)" font-size="6.3" text-anchor="end" fill="#e8343c" stroke="#e8343c" stroke-width=".25">High</text>
<rect x="154" y="238" width="3" height="123.2" fill="url(#g105)"/>
<rect x="157" y="238" width="3" height="123.2" fill="url(#g106)"/>
<rect x="160" y="238" width="3" height="123.2" fill="url(#g107)"/>
<rect x="163" y="238" width="3" height="123.2" fill="url(#g108)"/>
<rect x="166" y="238" width="3" height="123.2" fill="url(#g109)"/>
<rect x="169" y="238" width="3" height="123.2" fill="url(#g110)"/>
<rect x="172" y="238" width="3" height="123.2" fill="url(#g111)"/>
<rect x="175" y="238" width="3" height="123.2" fill="url(#g112)"/>
<rect x="178" y="238" width="3" height="123.2" fill="url(#g113)"/>
<rect x="181" y="238" width="3.2" height="123.2" fill="url(#g114)"/>
<line x1="154.8" y1="249.7" x2="182.4" y2="249.7" stroke="#f1ebf9" stroke-width=".9" stroke-opacity=".8"/>
<line x1="154.8" y1="262" x2="182.4" y2="262" stroke="#f1ebf9" stroke-width=".9" stroke-opacity=".8"/>
<line x1="154.8" y1="274.3" x2="182.4" y2="274.3" stroke="#f1ebf9" stroke-width=".9" stroke-opacity=".8"/>
<line x1="154.8" y1="286.6" x2="182.4" y2="286.6" stroke="#f1ebf9" stroke-width=".9" stroke-opacity=".8"/>
<line x1="154.8" y1="298.9" x2="182.4" y2="298.9" stroke="#f1ebf9" stroke-width=".9" stroke-opacity=".8"/>
<line x1="154.8" y1="311.2" x2="182.4" y2="311.2" stroke="#f1ebf9" stroke-width=".9" stroke-opacity=".8"/>
<line x1="154.8" y1="323.5" x2="182.4" y2="323.5" stroke="#f1ebf9" stroke-width=".9" stroke-opacity=".8"/>
<line x1="154.8" y1="335.8" x2="182.4" y2="335.8" stroke="#f1ebf9" stroke-width=".9" stroke-opacity=".8"/>
<line x1="154.8" y1="348.1" x2="182.4" y2="348.1" stroke="#f1ebf9" stroke-width=".9" stroke-opacity=".8"/>
<line x1="154.4" y1="238" x2="154.4" y2="361.2" stroke="#208a6a" stroke-width=".8" stroke-opacity=".55"/>
<rect x="168.9" y="238" width=".8" height="124.8" fill="url(#g115)" fill-opacity=".5"/>
<line x1="183.8" y1="238" x2="183.8" y2="361.2" stroke="#c01838" stroke-width=".8" stroke-opacity=".5"/>
<line x1="154" y1="238.3" x2="184.2" y2="238.3" stroke="#206060" stroke-width=".6" stroke-opacity=".4"/>
<text transform="translate(154.42 368.6)  rotate(-46) scale(.88 1)" font-size="6.3" text-anchor="end" fill="#3fb58a" stroke="#3fb58a" stroke-width=".25">Low</text>
<text transform="translate(169.69 368.6)  rotate(-46) scale(.88 1)" font-size="6.3" text-anchor="end" fill="#3d9fdc" stroke="#3d9fdc" stroke-width=".25">Med</text>
<text transform="translate(184.96 368.6)  rotate(-46) scale(.88 1)" font-size="6.3" text-anchor="end" fill="#e8343c" stroke="#e8343c" stroke-width=".25">High</text>
<line x1="58" y1="380" x2="84.5" y2="380" stroke="#000" stroke-width="1.4"/>
<text x="58" y="388.3" font-size="6.8" fill="#000" textLength="28" lengthAdjust="spacingAndGlyphs">434 nmol/L</text>
<line x1="107.5" y1="380" x2="133" y2="380" stroke="#000" stroke-width="1.4"/>
<text x="107.8" y="388.3" font-size="6.8" fill="#000" textLength="23.8" lengthAdjust="spacingAndGlyphs">35 nmol/L</text>
<line x1="150" y1="380" x2="175" y2="380" stroke="#000" stroke-width="1.4"/>
<text x="152.3" y="388.3" font-size="6.8" fill="#000" textLength="22" lengthAdjust="spacingAndGlyphs">4 nmol/L</text>
<path d="M58 397.3H149.82" stroke="#000" stroke-width="2.3" fill="none"/>
<path d="M153.6 397.3L148.2 393.9L148.2 400.7Z" fill="#000"/>
<text x="58.3" y="405.9" font-size="6.8" fill="#000" textLength="53" lengthAdjust="spacingAndGlyphs">Affinity/expression</text>
<rect x="204.25" y="237.6" width="2.75" height="123.5" fill="url(#g116)"/>
<rect x="207" y="237.6" width="3" height="123.5" fill="url(#g117)"/>
<rect x="210" y="237.6" width="3" height="123.5" fill="url(#g118)"/>
<rect x="213" y="237.6" width="3" height="123.5" fill="url(#g119)"/>
<rect x="216" y="237.6" width="3" height="123.5" fill="url(#g120)"/>
<rect x="219" y="237.6" width="3" height="123.5" fill="url(#g121)"/>
<rect x="222" y="237.6" width="3" height="123.5" fill="url(#g122)"/>
<rect x="225" y="237.6" width="3" height="123.5" fill="url(#g123)"/>
<rect x="228" y="237.6" width="4" height="123.5" fill="url(#g124)"/>
<rect x="232" y="237.6" width="3" height="123.5" fill="url(#g125)"/>
<rect x="235" y="237.6" width="3" height="123.5" fill="url(#g126)"/>
<rect x="238" y="237.6" width="3" height="123.5" fill="url(#g127)"/>
<rect x="241" y="237.6" width="3" height="123.5" fill="url(#g128)"/>
<rect x="244" y="237.6" width="3" height="123.5" fill="url(#g129)"/>
<rect x="247" y="237.6" width="3" height="123.5" fill="url(#g130)"/>
<rect x="250" y="237.6" width="3" height="123.5" fill="url(#g131)"/>
<rect x="253" y="237.6" width="3" height="123.5" fill="url(#g132)"/>
<rect x="256" y="237.6" width="3" height="123.5" fill="url(#g133)"/>
<rect x="259" y="237.6" width="3" height="123.5" fill="url(#g134)"/>
<rect x="262" y="237.6" width="3" height="123.5" fill="url(#g135)"/>
<rect x="265" y="237.6" width="3" height="123.5" fill="url(#g136)"/>
<rect x="268" y="237.6" width="3" height="123.5" fill="url(#g137)"/>
<rect x="271" y="237.6" width="3" height="123.5" fill="url(#g138)"/>
<rect x="274" y="237.6" width="3" height="123.5" fill="url(#g139)"/>
<rect x="277" y="237.6" width="3" height="123.5" fill="url(#g140)"/>
<rect x="280" y="237.6" width="3" height="123.5" fill="url(#g141)"/>
<rect x="283" y="237.6" width="3" height="123.5" fill="url(#g142)"/>
<rect x="286" y="237.6" width="3" height="123.5" fill="url(#g143)"/>
<rect x="289" y="237.6" width="3" height="123.5" fill="url(#g144)"/>
<rect x="292" y="237.6" width="3" height="123.5" fill="url(#g145)"/>
<rect x="295" y="237.6" width="3" height="123.5" fill="url(#g146)"/>
<rect x="298" y="237.6" width="3" height="123.5" fill="url(#g147)"/>
<rect x="301" y="237.6" width="3" height="123.5" fill="url(#g148)"/>
<rect x="304" y="237.6" width="3" height="123.5" fill="url(#g149)"/>
<rect x="307" y="237.6" width="3" height="123.5" fill="url(#g150)"/>
<rect x="310" y="237.6" width="3" height="123.5" fill="url(#g151)"/>
<rect x="313" y="237.6" width="3" height="123.5" fill="url(#g152)"/>
<rect x="316" y="237.6" width="3" height="123.5" fill="url(#g153)"/>
<rect x="319" y="237.6" width="3.4" height="123.5" fill="url(#g154)"/>
<line x1="205.25" y1="249.4" x2="319.9" y2="249.4" stroke="#f1ebf9" stroke-width=".9" stroke-opacity=".8"/>
<line x1="205.25" y1="261.7" x2="319.9" y2="261.7" stroke="#f1ebf9" stroke-width=".9" stroke-opacity=".8"/>
<line x1="205.25" y1="274" x2="319.9" y2="274" stroke="#f1ebf9" stroke-width=".9" stroke-opacity=".8"/>
<line x1="205.25" y1="286.3" x2="319.9" y2="286.3" stroke="#f1ebf9" stroke-width=".9" stroke-opacity=".8"/>
<line x1="205.25" y1="298.6" x2="319.9" y2="298.6" stroke="#f1ebf9" stroke-width=".9" stroke-opacity=".8"/>
<line x1="205.25" y1="310.9" x2="319.9" y2="310.9" stroke="#f1ebf9" stroke-width=".9" stroke-opacity=".8"/>
<line x1="205.25" y1="323.2" x2="319.9" y2="323.2" stroke="#f1ebf9" stroke-width=".9" stroke-opacity=".8"/>
<line x1="205.25" y1="335.5" x2="319.9" y2="335.5" stroke="#f1ebf9" stroke-width=".9" stroke-opacity=".8"/>
<line x1="205.25" y1="347.8" x2="319.9" y2="347.8" stroke="#f1ebf9" stroke-width=".9" stroke-opacity=".8"/>
<line x1="204.6" y1="237.6" x2="204.6" y2="362.6" stroke="#a8e6dc" stroke-width=".7" stroke-opacity=".6"/>
<line x1="220" y1="237.6" x2="220" y2="362.6" stroke="#a8e6dc" stroke-width=".7" stroke-opacity=".6"/>
<line x1="235.5" y1="237.6" x2="235.5" y2="362.6" stroke="#a8e6dc" stroke-width=".7" stroke-opacity=".6"/>
<rect x="248.9" y="237.6" width=".7" height="125" fill="url(#g155)" fill-opacity=".6"/>
<rect x="263.15" y="237.6" width=".7" height="125" fill="url(#g156)" fill-opacity=".6"/>
<rect x="277.65" y="237.6" width=".7" height="125" fill="url(#g157)" fill-opacity=".6"/>
<line x1="292.5" y1="237.6" x2="292.5" y2="362.6" stroke="#e6b4d4" stroke-width=".7" stroke-opacity=".6"/>
<line x1="307.25" y1="237.6" x2="307.25" y2="362.6" stroke="#e6b4d4" stroke-width=".7" stroke-opacity=".6"/>
<text transform="translate(206.7 367) rotate(-54) scale(.9 1)" font-size="6" text-anchor="end" fill="#1a1a1a" stroke="#1a1a1a" stroke-width=".12">434 nmol/L-<tspan fill="#3fb58a" stroke="#3fb58a">Low</tspan></text>
<text transform="translate(219.6 367) rotate(-54) scale(.9 1)" font-size="6" text-anchor="end" fill="#1a1a1a" stroke="#1a1a1a" stroke-width=".12">4 nmol/L-<tspan fill="#3fb58a" stroke="#3fb58a">Low</tspan></text>
<text transform="translate(235 367) rotate(-54) scale(.9 1)" font-size="6" text-anchor="end" fill="#1a1a1a" stroke="#1a1a1a" stroke-width=".12">35 nmol/L-<tspan fill="#3fb58a" stroke="#3fb58a">Low</tspan></text>
<text transform="translate(249.8 367) rotate(-54) scale(.9 1)" font-size="6" text-anchor="end" fill="#1a1a1a" stroke="#1a1a1a" stroke-width=".12">434 nmol/L-<tspan fill="#3d9fdc" stroke="#3d9fdc">Med</tspan></text>
<text transform="translate(264.2 367) rotate(-54) scale(.9 1)" font-size="6" text-anchor="end" fill="#1a1a1a" stroke="#1a1a1a" stroke-width=".12">35 nmol/L-<tspan fill="#3d9fdc" stroke="#3d9fdc">Med</tspan></text>
<text transform="translate(278 367) rotate(-54) scale(.9 1)" font-size="6" text-anchor="end" fill="#1a1a1a" stroke="#1a1a1a" stroke-width=".12">4 nmol/L-<tspan fill="#3d9fdc" stroke="#3d9fdc">Med</tspan></text>
<text transform="translate(293.5 367) rotate(-54) scale(.9 1)" font-size="6" text-anchor="end" fill="#1a1a1a" stroke="#1a1a1a" stroke-width=".12">35 nmol/L-<tspan fill="#e8343c" stroke="#e8343c">High</tspan></text>
<text transform="translate(308 367) rotate(-54) scale(.9 1)" font-size="6" text-anchor="end" fill="#1a1a1a" stroke="#1a1a1a" stroke-width=".12">434 nmol/L-<tspan fill="#e8343c" stroke="#e8343c">High</tspan></text>
<text transform="translate(320.2 367) rotate(-54) scale(.9 1)" font-size="6" text-anchor="end" fill="#1a1a1a" stroke="#1a1a1a" stroke-width=".12">4 nmol/L-<tspan fill="#e8343c" stroke="#e8343c">High</tspan></text>
<path d="M204.5 404.3H296.62" stroke="#000" stroke-width="2.3" fill="none"/>
<path d="M300.4 404.3L295 400.9L295 407.7Z" fill="#000"/>
<text x="206.5" y="412.7" font-size="7" fill="#000" textLength="19.4" lengthAdjust="spacingAndGlyphs">Avidity</text>
<rect x="335.75" y="259.5" width="6" height="92" fill="url(#g158)"/>
<text x="343.95" y="272.15" font-size="8.8" fill="#222">50</text>
<text x="343.95" y="289.65" font-size="8.8" fill="#222">40</text>
<text x="343.95" y="305.9" font-size="8.8" fill="#222">30</text>
<text x="343.95" y="323.15" font-size="8.8" fill="#222">20</text>
<text x="343.95" y="339.65" font-size="8.8" fill="#222">10</text>
<text x="372.8" y="233.4" font-size="16" fill="#000" font-weight="bold">F</text>
<text transform="translate(379.7 301.9) rotate(-90)" font-size="13.4" fill="#000" text-anchor="middle" textLength="45.5" lengthAdjust="spacingAndGlyphs">Percent</text>
<path d="M387.5 347.75V265.22" stroke="#000" stroke-width="2.4" fill="none"/>
<path d="M387.5 262L385.1 266.6L389.9 266.6Z" fill="#000"/>
<text x="404.8" y="272.15" font-size="8.8" fill="#222" text-anchor="end">40</text>
<text x="404.8" y="313.4" font-size="8.8" fill="#222" text-anchor="end">20</text>
<text x="404.8" y="352.65" font-size="8.8" fill="#222" text-anchor="end">0</text>
<rect x="407.6" y="238.3" width="111.1" height="112.3" fill="#ebebeb"/>
<line x1="407.6" y1="349.5" x2="518.7" y2="349.5" stroke="#fff" stroke-width=".5" stroke-opacity=".6"/>
<line x1="407.6" y1="310.25" x2="518.7" y2="310.25" stroke="#fff" stroke-width=".5" stroke-opacity=".6"/>
<line x1="407.6" y1="269" x2="518.7" y2="269" stroke="#fff" stroke-width=".5" stroke-opacity=".6"/>
<line x1="407.6" y1="329.9" x2="518.7" y2="329.9" stroke="#fff" stroke-width=".3" stroke-opacity=".45"/>
<line x1="407.6" y1="289.6" x2="518.7" y2="289.6" stroke="#fff" stroke-width=".3" stroke-opacity=".45"/>
<line x1="407.6" y1="248.9" x2="518.7" y2="248.9" stroke="#fff" stroke-width=".3" stroke-opacity=".45"/>
<line x1="413" y1="238.3" x2="413" y2="350.6" stroke="#fff" stroke-width=".5" stroke-opacity=".55"/>
<line x1="426.25" y1="238.3" x2="426.25" y2="350.6" stroke="#fff" stroke-width=".5" stroke-opacity=".55"/>
<line x1="438.75" y1="238.3" x2="438.75" y2="350.6" stroke="#fff" stroke-width=".5" stroke-opacity=".55"/>
<line x1="451.25" y1="238.3" x2="451.25" y2="350.6" stroke="#fff" stroke-width=".5" stroke-opacity=".55"/>
<line x1="464.25" y1="238.3" x2="464.25" y2="350.6" stroke="#fff" stroke-width=".5" stroke-opacity=".55"/>
<line x1="477" y1="238.3" x2="477" y2="350.6" stroke="#fff" stroke-width=".5" stroke-opacity=".55"/>
<line x1="490" y1="238.3" x2="490" y2="350.6" stroke="#fff" stroke-width=".5" stroke-opacity=".55"/>
<line x1="502.5" y1="238.3" x2="502.5" y2="350.6" stroke="#fff" stroke-width=".5" stroke-opacity=".55"/>
<line x1="511.25" y1="238.3" x2="511.25" y2="350.6" stroke="#fff" stroke-width=".5" stroke-opacity=".55"/>
<line x1="515" y1="238.3" x2="515" y2="350.6" stroke="#fff" stroke-width=".5" stroke-opacity=".55"/>
<rect x="411.6" y="329.35" width="2.8" height="2.8" fill="#f01020"/>
<rect x="412" y="338.5" width="2" height="2" fill="#1414b4"/>
<rect x="412" y="343.5" width="2" height="2" fill="#22e03c"/>
<path d="M413 345.3l1.2 2.1h-2.4z" fill="#22e03c"/>
<rect x="412" y="347" width="2" height="2" fill="#22e03c"/>
<rect x="425.25" y="324" width="2" height="2" fill="#f01020"/>
<rect x="425.25" y="329.75" width="2" height="2" fill="#101050"/>
<rect x="425.25" y="339.75" width="2" height="2" fill="#1414b4"/>
<rect x="425.25" y="342.25" width="2" height="2" fill="#22e03c"/>
<path d="M437.55 279h2.4M438.75 277.8v2.4" stroke="#9a9ae0" stroke-width=".6"/>
<rect x="437.75" y="283.5" width="2" height="2" fill="#f01020"/>
<path d="M437.55 288.25h2.4M438.75 287.05v2.4" stroke="#f7a0a8" stroke-width=".6"/>
<path d="M437.55 293.75h2.4M438.75 292.55v2.4" stroke="#9a9ae0" stroke-width=".6"/>
<rect x="437.75" y="298.5" width="2" height="2" fill="#1a6a3a"/>
<rect x="437.75" y="306.5" width="2" height="2" fill="#f01020"/>
<path d="M437.55 330h2.4M438.75 328.8v2.4" stroke="#a8eeb0" stroke-width=".6"/>
<path d="M450.05 244h2.4M451.25 242.8v2.4" stroke="#f7a0a8" stroke-width=".6"/>
<rect x="450.25" y="249" width="2" height="2" fill="#f01020"/>
<rect x="450.25" y="251" width="2" height="2" fill="#101050"/>
<rect x="450.25" y="265.5" width="2" height="2" fill="#22e03c"/>
<path d="M451.25 266.8l1.2 2.1h-2.4z" fill="#22e03c"/>
<rect x="450.25" y="274.75" width="2" height="2" fill="#101050"/>
<rect x="450.25" y="291.5" width="2" height="2" fill="#22e03c"/>
<path d="M450.05 299.5h2.4M451.25 298.3v2.4" stroke="#a8eeb0" stroke-width=".6"/>
<rect x="463.25" y="254" width="2" height="2" fill="#101050"/>
<rect x="463.25" y="259.25" width="2" height="2" fill="#f01020"/>
<rect x="463.25" y="268" width="2" height="2" fill="#22e03c"/>
<path d="M463.05 278.25h2.4M464.25 277.05v2.4" stroke="#a8eeb0" stroke-width=".6"/>
<path d="M464.25 280.8l1.2 2.1h-2.4z" fill="#1414b4"/>
<rect x="463.25" y="283.5" width="2" height="2" fill="#1414b4"/>
<rect x="463.25" y="291" width="2" height="2" fill="#f01020"/>
<path d="M464.25 297.8l1.2 2.1h-2.4z" fill="#22e03c"/>
<rect x="476" y="255.5" width="2" height="2" fill="#101050"/>
<path d="M477 258.3l1.2 2.1h-2.4z" fill="#f01020"/>
<rect x="476" y="271" width="2" height="2" fill="#22e03c"/>
<path d="M475.8 279.5h2.4M477 278.3v2.4" stroke="#a8eeb0" stroke-width=".6"/>
<rect x="476" y="282.75" width="2" height="2" fill="#101050"/>
<path d="M475.8 287h2.4M477 285.8v2.4" stroke="#f7a0a8" stroke-width=".6"/>
<rect x="476" y="301" width="2" height="2" fill="#22e03c"/>
<rect x="488.6" y="255.6" width="2.8" height="2.8" fill="#101050"/>
<rect x="489" y="267.25" width="2" height="2" fill="#22e03c"/>
<path d="M490 275.3l1.2 2.1h-2.4z" fill="#101050"/>
<rect x="489" y="278" width="2" height="2" fill="#101050"/>
<path d="M488.8 283.25h2.4M490 282.05v2.4" stroke="#9a9ae0" stroke-width=".6"/>
<path d="M490 284.55l1.2 2.1h-2.4z" fill="#1414b4"/>
<path d="M488.8 290h2.4M490 288.8v2.4" stroke="#a8eeb0" stroke-width=".6"/>
<rect x="501.5" y="262.25" width="2" height="2" fill="#101050"/>
<rect x="501.5" y="268" width="2" height="2" fill="#22e03c"/>
<rect x="501.5" y="270.5" width="2" height="2" fill="#1a6a3a"/>
<path d="M501.3 280.75h2.4M502.5 279.55v2.4" stroke="#a8eeb0" stroke-width=".6"/>
<path d="M502.5 292.8l1.2 2.1h-2.4z" fill="#101050"/>
<rect x="510.25" y="256" width="2" height="2" fill="#101050"/>
<rect x="510.25" y="263.5" width="2" height="2" fill="#f01020"/>
<rect x="510.25" y="267.25" width="2" height="2" fill="#22e03c"/>
<path d="M511.25 269.55l1.2 2.1h-2.4z" fill="#22e03c"/>
<path d="M510.05 276.5h2.4M511.25 275.3v2.4" stroke="#9a9ae0" stroke-width=".6"/>
<rect x="510.25" y="279" width="2" height="2" fill="#1a6a3a"/>
<path d="M511.25 289.55l1.2 2.1h-2.4z" fill="#f01020"/>
<rect x="514" y="256.75" width="2" height="2" fill="#101050"/>
<rect x="514" y="263.5" width="2" height="2" fill="#22e03c"/>
<rect x="514" y="266" width="2" height="2" fill="#f01020"/>
<path d="M515 269.55l1.2 2.1h-2.4z" fill="#22e03c"/>
<rect x="514" y="276" width="2" height="2" fill="#101050"/>
<rect x="514" y="288.5" width="2" height="2" fill="#22e03c"/>
<text transform="translate(412.3 354.9) rotate(-48)" font-size="4.3" fill="#222" text-anchor="end" font-weight="bold">0</text>
<text transform="translate(427.8 354.9) rotate(-48)" font-size="4.3" fill="#222" text-anchor="end" font-weight="bold">0.03</text>
<text transform="translate(441.55 354.9) rotate(-48)" font-size="4.3" fill="#222" text-anchor="end" font-weight="bold">0.28</text>
<text transform="translate(454.05 354.9) rotate(-48)" font-size="4.3" fill="#222" text-anchor="end" font-weight="bold">3.09</text>
<text transform="translate(467.05 354.9) rotate(-48)" font-size="4.3" fill="#222" text-anchor="end" font-weight="bold">35.09</text>
<text transform="translate(479.8 354.9) rotate(-48)" font-size="4.3" fill="#222" text-anchor="end" font-weight="bold">389</text>
<text transform="translate(493.3 354.9) rotate(-48)" font-size="4.3" fill="#222" text-anchor="end" font-weight="bold">2,092</text>
<text transform="translate(505.8 354.9) rotate(-48)" font-size="4.3" fill="#222" text-anchor="end" font-weight="bold">3,450</text>
<text transform="translate(512.8 354.9) rotate(-48)" font-size="4.3" fill="#222" text-anchor="end" font-weight="bold">3,540</text>
<text transform="translate(518.3 354.9) rotate(-48)" font-size="4.3" fill="#222" text-anchor="end" font-weight="bold">3,645</text>
<path d="M405.5 369.5H503.25" stroke="#000" stroke-width="2.5" fill="none"/>
<path d="M506.75 369.5L501.75 366.25L501.75 372.75Z" fill="#000"/>
<text x="447" y="378.1" font-size="4.8" fill="#222" text-anchor="middle" textLength="46" lengthAdjust="spacingAndGlyphs">Ag density (sites/cell)</text>
<path d="M425.6 394h7.6M429.4 390.5v7" stroke="#000" stroke-width=".9"/>
<path d="M429.4 401.6l3.9 6.2h-7.8z" fill="#000"/>
<rect x="425.5" y="412.65" width="8.2" height="6.2" fill="#000"/>
<text x="436.4" y="396.5" font-size="7.2" fill="#111" stroke="#111" stroke-width=".22" textLength="33" lengthAdjust="spacingAndGlyphs">434 nmol/L</text>
<text x="436.4" y="407.5" font-size="7.2" fill="#111" stroke="#111" stroke-width=".22" textLength="29.5" lengthAdjust="spacingAndGlyphs">35 nmol/L</text>
<text x="437.7" y="418.25" font-size="7.2" fill="#111" stroke="#111" stroke-width=".22" textLength="26.5" lengthAdjust="spacingAndGlyphs">4 nmol/L</text>
<text x="474.25" y="400" font-size="8.6" fill="#e8343c" stroke="#e8343c" stroke-width=".2">High</text>
<text x="474.25" y="408.5" font-size="8.6" fill="#3d9fdc" stroke="#3d9fdc" stroke-width=".2">Med</text>
<text x="474.25" y="417.6" font-size="8.6" fill="#3fb58a" stroke="#3fb58a" stroke-width=".2">Low</text>
<text x=".4" y="445.1" font-size="16" fill="#000" font-weight="bold">G</text>
<text x="55.5" y="445.25" font-size="11.2" fill="#000" font-weight="bold" textLength="80.75" lengthAdjust="spacingAndGlyphs">Single positive</text>
<text x="192.8" y="446" font-size="16" fill="#000" font-weight="bold">H</text>
<path d="M20.3 581.5V456.03" stroke="#000" stroke-width="3.6" fill="none"/>
<path d="M20.3 450.5L16.2 458.4L24.4 458.4Z" fill="#000"/>
<text transform="translate(12.2 524.75) rotate(-90)" font-size="8" fill="#000" text-anchor="middle" textLength="80" lengthAdjust="spacingAndGlyphs">Ag density (sites/cell)</text>
<text x="49.5" y="464.45" font-size="5.5" fill="#222" text-anchor="end">3,645</text>
<text x="49.5" y="476.47" font-size="5.5" fill="#222" text-anchor="end">3,540</text>
<text x="49.5" y="488.49" font-size="5.5" fill="#222" text-anchor="end">3,450</text>
<text x="49.5" y="500.51" font-size="5.5" fill="#222" text-anchor="end">2,092</text>
<text x="49.5" y="512.53" font-size="5.5" fill="#222" text-anchor="end">389</text>
<text x="49.5" y="524.55" font-size="5.5" fill="#222" text-anchor="end">35.1</text>
<text x="49.5" y="536.57" font-size="5.5" fill="#222" text-anchor="end">3.09</text>
<text x="49.5" y="548.59" font-size="5.5" fill="#222" text-anchor="end">0.28</text>
<text x="49.5" y="560.61" font-size="5.5" fill="#222" text-anchor="end">0.03</text>
<text x="49.5" y="572.63" font-size="5.5" fill="#222" text-anchor="end">0</text>
<text x="49.5" y="584.65" font-size="5.5" fill="#222" text-anchor="end">MART1</text>
<rect x="56" y="460.7" width="3" height="123.9" fill="url(#g159)"/>
<rect x="59" y="460.7" width="3" height="123.9" fill="url(#g160)"/>
<rect x="62" y="460.7" width="3" height="123.9" fill="url(#g161)"/>
<rect x="65" y="460.7" width="3" height="123.9" fill="url(#g162)"/>
<rect x="68" y="460.7" width="3" height="123.9" fill="url(#g163)"/>
<rect x="71" y="460.7" width="3" height="123.9" fill="url(#g164)"/>
<rect x="74" y="460.7" width="3" height="123.9" fill="url(#g165)"/>
<rect x="77" y="460.7" width="3" height="123.9" fill="url(#g166)"/>
<rect x="80" y="460.7" width="3" height="123.9" fill="url(#g167)"/>
<rect x="83" y="460.7" width="3" height="123.9" fill="url(#g168)"/>
<rect x="86" y="460.7" width="3.4" height="123.9" fill="url(#g169)"/>
<line x1="56.8" y1="472.4" x2="87.6" y2="472.4" stroke="#f1ebf9" stroke-width=".9" stroke-opacity=".8"/>
<line x1="56.8" y1="484.7" x2="87.6" y2="484.7" stroke="#f1ebf9" stroke-width=".9" stroke-opacity=".8"/>
<line x1="56.8" y1="497" x2="87.6" y2="497" stroke="#f1ebf9" stroke-width=".9" stroke-opacity=".8"/>
<line x1="56.8" y1="509.3" x2="87.6" y2="509.3" stroke="#f1ebf9" stroke-width=".9" stroke-opacity=".8"/>
<line x1="56.8" y1="521.6" x2="87.6" y2="521.6" stroke="#f1ebf9" stroke-width=".9" stroke-opacity=".8"/>
<line x1="56.8" y1="533.9" x2="87.6" y2="533.9" stroke="#f1ebf9" stroke-width=".9" stroke-opacity=".8"/>
<line x1="56.8" y1="546.2" x2="87.6" y2="546.2" stroke="#f1ebf9" stroke-width=".9" stroke-opacity=".8"/>
<line x1="56.8" y1="558.5" x2="87.6" y2="558.5" stroke="#f1ebf9" stroke-width=".9" stroke-opacity=".8"/>
<line x1="56.8" y1="570.8" x2="87.6" y2="570.8" stroke="#f1ebf9" stroke-width=".9" stroke-opacity=".8"/>
<line x1="56.4" y1="460.7" x2="56.4" y2="584.6" stroke="#208a6a" stroke-width=".8" stroke-opacity=".55"/>
<rect x="72.5" y="460.7" width=".8" height="125.5" fill="url(#g170)" fill-opacity=".5"/>
<line x1="89" y1="460.7" x2="89" y2="584.6" stroke="#c01838" stroke-width=".8" stroke-opacity=".5"/>
<line x1="56" y1="461" x2="89.4" y2="461" stroke="#206060" stroke-width=".6" stroke-opacity=".4"/>
<text transform="translate(60 592)  rotate(-46) scale(.88 1)" font-size="5.6" text-anchor="end" fill="#3fb58a" stroke="#3fb58a" stroke-width=".25">Low</text>
<text transform="translate(75.27 592)  rotate(-46) scale(.88 1)" font-size="5.6" text-anchor="end" fill="#3d9fdc" stroke="#3d9fdc" stroke-width=".25">Med</text>
<text transform="translate(90.54 592)  rotate(-46) scale(.88 1)" font-size="5.6" text-anchor="end" fill="#e8343c" stroke="#e8343c" stroke-width=".25">High</text>
<rect x="103.5" y="460.7" width="3.5" height="123.9" fill="url(#g171)"/>
<rect x="107" y="460.7" width="3" height="123.9" fill="url(#g172)"/>
<rect x="110" y="460.7" width="3" height="123.9" fill="url(#g173)"/>
<rect x="113" y="460.7" width="3" height="123.9" fill="url(#g174)"/>
<rect x="116" y="460.7" width="3" height="123.9" fill="url(#g175)"/>
<rect x="119" y="460.7" width="3" height="123.9" fill="url(#g176)"/>
<rect x="122" y="460.7" width="3" height="123.9" fill="url(#g177)"/>
<rect x="125" y="460.7" width="3" height="123.9" fill="url(#g178)"/>
<rect x="128" y="460.7" width="4" height="123.9" fill="url(#g179)"/>
<rect x="132" y="460.7" width="3" height="123.9" fill="url(#g180)"/>
<rect x="135" y="460.7" width="2.8" height="123.9" fill="url(#g181)"/>
<line x1="104.3" y1="472.4" x2="136" y2="472.4" stroke="#f1ebf9" stroke-width=".9" stroke-opacity=".8"/>
<line x1="104.3" y1="484.7" x2="136" y2="484.7" stroke="#f1ebf9" stroke-width=".9" stroke-opacity=".8"/>
<line x1="104.3" y1="497" x2="136" y2="497" stroke="#f1ebf9" stroke-width=".9" stroke-opacity=".8"/>
<line x1="104.3" y1="509.3" x2="136" y2="509.3" stroke="#f1ebf9" stroke-width=".9" stroke-opacity=".8"/>
<line x1="104.3" y1="521.6" x2="136" y2="521.6" stroke="#f1ebf9" stroke-width=".9" stroke-opacity=".8"/>
<line x1="104.3" y1="533.9" x2="136" y2="533.9" stroke="#f1ebf9" stroke-width=".9" stroke-opacity=".8"/>
<line x1="104.3" y1="546.2" x2="136" y2="546.2" stroke="#f1ebf9" stroke-width=".9" stroke-opacity=".8"/>
<line x1="104.3" y1="558.5" x2="136" y2="558.5" stroke="#f1ebf9" stroke-width=".9" stroke-opacity=".8"/>
<line x1="104.3" y1="570.8" x2="136" y2="570.8" stroke="#f1ebf9" stroke-width=".9" stroke-opacity=".8"/>
<line x1="103.9" y1="460.7" x2="103.9" y2="584.6" stroke="#208a6a" stroke-width=".8" stroke-opacity=".55"/>
<rect x="120.45" y="460.7" width=".8" height="125.5" fill="url(#g182)" fill-opacity=".5"/>
<line x1="137.4" y1="460.7" x2="137.4" y2="584.6" stroke="#c01838" stroke-width=".8" stroke-opacity=".5"/>
<line x1="103.5" y1="461" x2="137.8" y2="461" stroke="#206060" stroke-width=".6" stroke-opacity=".4"/>
<text transform="translate(105.81 592)  rotate(-46) scale(.88 1)" font-size="5.6" text-anchor="end" fill="#3fb58a" stroke="#3fb58a" stroke-width=".25">Low</text>
<text transform="translate(121.08 592)  rotate(-46) scale(.88 1)" font-size="5.6" text-anchor="end" fill="#3d9fdc" stroke="#3d9fdc" stroke-width=".25">Med</text>
<text transform="translate(136.35 592)  rotate(-46) scale(.88 1)" font-size="5.6" text-anchor="end" fill="#e8343c" stroke="#e8343c" stroke-width=".25">High</text>
<rect x="151.1" y="460.7" width="2.9" height="123.9" fill="url(#g183)"/>
<rect x="154" y="460.7" width="3" height="123.9" fill="url(#g184)"/>
<rect x="157" y="460.7" width="3" height="123.9" fill="url(#g185)"/>
<rect x="160" y="460.7" width="3" height="123.9" fill="url(#g186)"/>
<rect x="163" y="460.7" width="4" height="123.9" fill="url(#g187)"/>
<rect x="167" y="460.7" width="3" height="123.9" fill="url(#g188)"/>
<rect x="170" y="460.7" width="3" height="123.9" fill="url(#g189)"/>
<rect x="173" y="460.7" width="3" height="123.9" fill="url(#g190)"/>
<rect x="176" y="460.7" width="3" height="123.9" fill="url(#g191)"/>
<rect x="179" y="460.7" width="3" height="123.9" fill="url(#g192)"/>
<line x1="151.9" y1="472.4" x2="180.2" y2="472.4" stroke="#f1ebf9" stroke-width=".9" stroke-opacity=".8"/>
<line x1="151.9" y1="484.7" x2="180.2" y2="484.7" stroke="#f1ebf9" stroke-width=".9" stroke-opacity=".8"/>
<line x1="151.9" y1="497" x2="180.2" y2="497" stroke="#f1ebf9" stroke-width=".9" stroke-opacity=".8"/>
<line x1="151.9" y1="509.3" x2="180.2" y2="509.3" stroke="#f1ebf9" stroke-width=".9" stroke-opacity=".8"/>
<line x1="151.9" y1="521.6" x2="180.2" y2="521.6" stroke="#f1ebf9" stroke-width=".9" stroke-opacity=".8"/>
<line x1="151.9" y1="533.9" x2="180.2" y2="533.9" stroke="#f1ebf9" stroke-width=".9" stroke-opacity=".8"/>
<line x1="151.9" y1="546.2" x2="180.2" y2="546.2" stroke="#f1ebf9" stroke-width=".9" stroke-opacity=".8"/>
<line x1="151.9" y1="558.5" x2="180.2" y2="558.5" stroke="#f1ebf9" stroke-width=".9" stroke-opacity=".8"/>
<line x1="151.9" y1="570.8" x2="180.2" y2="570.8" stroke="#f1ebf9" stroke-width=".9" stroke-opacity=".8"/>
<line x1="151.5" y1="460.7" x2="151.5" y2="584.6" stroke="#208a6a" stroke-width=".8" stroke-opacity=".55"/>
<rect x="166.35" y="460.7" width=".8" height="125.5" fill="url(#g193)" fill-opacity=".5"/>
<line x1="181.6" y1="460.7" x2="181.6" y2="584.6" stroke="#c01838" stroke-width=".8" stroke-opacity=".5"/>
<line x1="151.1" y1="461" x2="182" y2="461" stroke="#206060" stroke-width=".6" stroke-opacity=".4"/>
<text transform="translate(151.62 592)  rotate(-46) scale(.88 1)" font-size="5.6" text-anchor="end" fill="#3fb58a" stroke="#3fb58a" stroke-width=".25">Low</text>
<text transform="translate(166.89 592)  rotate(-46) scale(.88 1)" font-size="5.6" text-anchor="end" fill="#3d9fdc" stroke="#3d9fdc" stroke-width=".25">Med</text>
<text transform="translate(182.16 592)  rotate(-46) scale(.88 1)" font-size="5.6" text-anchor="end" fill="#e8343c" stroke="#e8343c" stroke-width=".25">High</text>
<line x1="56.25" y1="602.75" x2="82" y2="602.75" stroke="#000" stroke-width="1.4"/>
<text x="56.25" y="611.05" font-size="6.8" fill="#000" textLength="28" lengthAdjust="spacingAndGlyphs">434 nmol/L</text>
<line x1="105" y1="602.75" x2="130.5" y2="602.75" stroke="#000" stroke-width="1.4"/>
<text x="105.3" y="611.05" font-size="6.8" fill="#000" textLength="23.8" lengthAdjust="spacingAndGlyphs">35 nmol/L</text>
<line x1="147" y1="602.75" x2="173" y2="602.75" stroke="#000" stroke-width="1.4"/>
<text x="149.3" y="611.05" font-size="6.8" fill="#000" textLength="22" lengthAdjust="spacingAndGlyphs">4 nmol/L</text>
<path d="M56.25 619.75H146.97" stroke="#000" stroke-width="2.3" fill="none"/>
<path d="M150.75 619.75L145.35 616.35L145.35 623.15Z" fill="#000"/>
<text x="56.55" y="628.35" font-size="6.8" fill="#000" textLength="53" lengthAdjust="spacingAndGlyphs">Affinity/expression</text>
<rect x="201" y="459.3" width="3" height="125.1" fill="url(#g194)"/>
<rect x="204" y="459.3" width="3" height="125.1" fill="url(#g195)"/>
<rect x="207" y="459.3" width="3" height="125.1" fill="url(#g196)"/>
<rect x="210" y="459.3" width="3" height="125.1" fill="url(#g197)"/>
<rect x="213" y="459.3" width="3" height="125.1" fill="url(#g198)"/>
<rect x="216" y="459.3" width="3" height="125.1" fill="url(#g199)"/>
<rect x="219" y="459.3" width="3" height="125.1" fill="url(#g200)"/>
<rect x="222" y="459.3" width="3" height="125.1" fill="url(#g201)"/>
<rect x="225" y="459.3" width="3" height="125.1" fill="url(#g202)"/>
<rect x="228" y="459.3" width="3" height="125.1" fill="url(#g203)"/>
<rect x="231" y="459.3" width="3" height="125.1" fill="url(#g204)"/>
<rect x="234" y="459.3" width="3" height="125.1" fill="url(#g205)"/>
<rect x="237" y="459.3" width="3" height="125.1" fill="url(#g206)"/>
<rect x="240" y="459.3" width="2" height="125.1" fill="url(#g207)"/>
<rect x="242" y="459.3" width="3" height="125.1" fill="url(#g208)"/>
<rect x="245" y="459.3" width="3" height="125.1" fill="url(#g209)"/>
<rect x="248" y="459.3" width="3" height="125.1" fill="url(#g210)"/>
<rect x="251" y="459.3" width="3" height="125.1" fill="url(#g211)"/>
<rect x="254" y="459.3" width="3" height="125.1" fill="url(#g212)"/>
<rect x="257" y="459.3" width="3" height="125.1" fill="url(#g213)"/>
<rect x="260" y="459.3" width="3" height="125.1" fill="url(#g214)"/>
<rect x="263" y="459.3" width="3" height="125.1" fill="url(#g215)"/>
<rect x="266" y="459.3" width="3" height="125.1" fill="url(#g216)"/>
<rect x="269" y="459.3" width="3" height="125.1" fill="url(#g217)"/>
<rect x="272" y="459.3" width="3" height="125.1" fill="url(#g218)"/>
<rect x="275" y="459.3" width="3" height="125.1" fill="url(#g219)"/>
<rect x="278" y="459.3" width="3" height="125.1" fill="url(#g220)"/>
<rect x="281" y="459.3" width="3" height="125.1" fill="url(#g221)"/>
<rect x="284" y="459.3" width="3" height="125.1" fill="url(#g222)"/>
<rect x="287" y="459.3" width="3" height="125.1" fill="url(#g223)"/>
<rect x="290" y="459.3" width="3" height="125.1" fill="url(#g224)"/>
<rect x="293" y="459.3" width="3" height="125.1" fill="url(#g225)"/>
<rect x="296" y="459.3" width="3" height="125.1" fill="url(#g226)"/>
<rect x="299" y="459.3" width="3" height="125.1" fill="url(#g227)"/>
<rect x="302" y="459.3" width="3" height="125.1" fill="url(#g228)"/>
<rect x="305" y="459.3" width="3" height="125.1" fill="url(#g229)"/>
<rect x="308" y="459.3" width="3" height="125.1" fill="url(#g230)"/>
<rect x="311" y="459.3" width="3" height="125.1" fill="url(#g231)"/>
<rect x="314" y="459.3" width="3" height="125.1" fill="url(#g232)"/>
<rect x="317" y="459.3" width="2.5" height="125.1" fill="url(#g233)"/>
<line x1="202" y1="472.2" x2="317" y2="472.2" stroke="#f1ebf9" stroke-width=".9" stroke-opacity=".8"/>
<line x1="202" y1="484.5" x2="317" y2="484.5" stroke="#f1ebf9" stroke-width=".9" stroke-opacity=".8"/>
<line x1="202" y1="496.8" x2="317" y2="496.8" stroke="#f1ebf9" stroke-width=".9" stroke-opacity=".8"/>
<line x1="202" y1="509.1" x2="317" y2="509.1" stroke="#f1ebf9" stroke-width=".9" stroke-opacity=".8"/>
<line x1="202" y1="521.4" x2="317" y2="521.4" stroke="#f1ebf9" stroke-width=".9" stroke-opacity=".8"/>
<line x1="202" y1="533.7" x2="317" y2="533.7" stroke="#f1ebf9" stroke-width=".9" stroke-opacity=".8"/>
<line x1="202" y1="546" x2="317" y2="546" stroke="#f1ebf9" stroke-width=".9" stroke-opacity=".8"/>
<line x1="202" y1="558.3" x2="317" y2="558.3" stroke="#f1ebf9" stroke-width=".9" stroke-opacity=".8"/>
<line x1="202" y1="570.6" x2="317" y2="570.6" stroke="#f1ebf9" stroke-width=".9" stroke-opacity=".8"/>
<line x1="201.4" y1="459.3" x2="201.4" y2="585.9" stroke="#a8e6dc" stroke-width=".7" stroke-opacity=".6"/>
<line x1="217.25" y1="459.3" x2="217.25" y2="585.9" stroke="#a8e6dc" stroke-width=".7" stroke-opacity=".6"/>
<line x1="233" y1="459.3" x2="233" y2="585.9" stroke="#a8e6dc" stroke-width=".7" stroke-opacity=".6"/>
<rect x="246.4" y="459.3" width=".7" height="126.6" fill="url(#g234)" fill-opacity=".6"/>
<rect x="260.15" y="459.3" width=".7" height="126.6" fill="url(#g235)" fill-opacity=".6"/>
<rect x="275.15" y="459.3" width=".7" height="126.6" fill="url(#g236)" fill-opacity=".6"/>
<line x1="289.75" y1="459.3" x2="289.75" y2="585.9" stroke="#e6b4d4" stroke-width=".7" stroke-opacity=".6"/>
<line x1="305.25" y1="459.3" x2="305.25" y2="585.9" stroke="#e6b4d4" stroke-width=".7" stroke-opacity=".6"/>
<text transform="translate(204.2 589.9) rotate(-54) scale(.9 1)" font-size="6" text-anchor="end" fill="#1a1a1a" stroke="#1a1a1a" stroke-width=".12">434 nmol/L-<tspan fill="#3fb58a" stroke="#3fb58a">Low</tspan></text>
<text transform="translate(216.5 589.9) rotate(-54) scale(.9 1)" font-size="6" text-anchor="end" fill="#1a1a1a" stroke="#1a1a1a" stroke-width=".12">4 nmol/L-<tspan fill="#3fb58a" stroke="#3fb58a">Low</tspan></text>
<text transform="translate(231.9 589.9) rotate(-54) scale(.9 1)" font-size="6" text-anchor="end" fill="#1a1a1a" stroke="#1a1a1a" stroke-width=".12">35 nmol/L-<tspan fill="#3fb58a" stroke="#3fb58a">Low</tspan></text>
<text transform="translate(247.3 589.9) rotate(-54) scale(.9 1)" font-size="6" text-anchor="end" fill="#1a1a1a" stroke="#1a1a1a" stroke-width=".12">434 nmol/L-<tspan fill="#3d9fdc" stroke="#3d9fdc">Med</tspan></text>
<text transform="translate(261.2 589.9) rotate(-54) scale(.9 1)" font-size="6" text-anchor="end" fill="#1a1a1a" stroke="#1a1a1a" stroke-width=".12">35 nmol/L-<tspan fill="#3d9fdc" stroke="#3d9fdc">Med</tspan></text>
<text transform="translate(275 589.9) rotate(-54) scale(.9 1)" font-size="6" text-anchor="end" fill="#1a1a1a" stroke="#1a1a1a" stroke-width=".12">4 nmol/L-<tspan fill="#3d9fdc" stroke="#3d9fdc">Med</tspan></text>
<text transform="translate(290.4 589.9) rotate(-54) scale(.9 1)" font-size="6" text-anchor="end" fill="#1a1a1a" stroke="#1a1a1a" stroke-width=".12">35 nmol/L-<tspan fill="#e8343c" stroke="#e8343c">High</tspan></text>
<text transform="translate(305.2 589.9) rotate(-54) scale(.9 1)" font-size="6" text-anchor="end" fill="#1a1a1a" stroke="#1a1a1a" stroke-width=".12">434 nmol/L-<tspan fill="#e8343c" stroke="#e8343c">High</tspan></text>
<text transform="translate(318 589.9) rotate(-54) scale(.9 1)" font-size="6" text-anchor="end" fill="#1a1a1a" stroke="#1a1a1a" stroke-width=".12">4 nmol/L-<tspan fill="#e8343c" stroke="#e8343c">High</tspan></text>
<path d="M201.5 626.6H294.42" stroke="#000" stroke-width="2.3" fill="none"/>
<path d="M298.2 626.6L292.8 623.2L292.8 630Z" fill="#000"/>
<text x="203.5" y="635" font-size="7" fill="#000" textLength="19.4" lengthAdjust="spacingAndGlyphs">Avidity</text>
<rect x="333.75" y="481.5" width="5.75" height="92.5" fill="url(#g237)"/>
<text x="341.7" y="498.4" font-size="8.8" fill="#222">25</text>
<text x="341.7" y="516.65" font-size="8.8" fill="#222">20</text>
<text x="341.7" y="535.15" font-size="8.8" fill="#222">15</text>
<text x="341.7" y="552.9" font-size="8.8" fill="#222">10</text>
<text x="341.7" y="571.4" font-size="8.8" fill="#222">5</text>
<text x="373.2" y="445.3" font-size="16" fill="#000" font-weight="bold">I</text>
<text transform="translate(378.4 524.25) rotate(-90)" font-size="13.4" fill="#000" text-anchor="middle" textLength="45.5" lengthAdjust="spacingAndGlyphs">Percent</text>
<path d="M387.5 569.75V488.47" stroke="#000" stroke-width="2.4" fill="none"/>
<path d="M387.5 485.25L385.1 489.85L389.9 489.85Z" fill="#000"/>
<text x="402.8" y="501.4" font-size="8.8" fill="#222" text-anchor="end">20</text>
<text x="402.8" y="540.4" font-size="8.8" fill="#222" text-anchor="end">10</text>
<text x="402.8" y="573.9" font-size="8.8" fill="#222" text-anchor="end">0</text>
<rect x="404.4" y="459.75" width="113.6" height="110.15" fill="#ebebeb"/>
<line x1="404.4" y1="537.25" x2="518" y2="537.25" stroke="#fff" stroke-width=".5" stroke-opacity=".6"/>
<line x1="404.4" y1="498.25" x2="518" y2="498.25" stroke="#fff" stroke-width=".5" stroke-opacity=".6"/>
<line x1="404.4" y1="556.75" x2="518" y2="556.75" stroke="#fff" stroke-width=".3" stroke-opacity=".45"/>
<line x1="404.4" y1="517.75" x2="518" y2="517.75" stroke="#fff" stroke-width=".3" stroke-opacity=".45"/>
<line x1="404.4" y1="478.75" x2="518" y2="478.75" stroke="#fff" stroke-width=".3" stroke-opacity=".45"/>
<line x1="409.5" y1="459.75" x2="409.5" y2="569.9" stroke="#fff" stroke-width=".5" stroke-opacity=".55"/>
<line x1="422.5" y1="459.75" x2="422.5" y2="569.9" stroke="#fff" stroke-width=".5" stroke-opacity=".55"/>
<line x1="435.5" y1="459.75" x2="435.5" y2="569.9" stroke="#fff" stroke-width=".5" stroke-opacity=".55"/>
<line x1="448.75" y1="459.75" x2="448.75" y2="569.9" stroke="#fff" stroke-width=".5" stroke-opacity=".55"/>
<line x1="461.75" y1="459.75" x2="461.75" y2="569.9" stroke="#fff" stroke-width=".5" stroke-opacity=".55"/>
<line x1="475" y1="459.75" x2="475" y2="569.9" stroke="#fff" stroke-width=".5" stroke-opacity=".55"/>
<line x1="488" y1="459.75" x2="488" y2="569.9" stroke="#fff" stroke-width=".5" stroke-opacity=".55"/>
<line x1="500.5" y1="459.75" x2="500.5" y2="569.9" stroke="#fff" stroke-width=".5" stroke-opacity=".55"/>
<line x1="510" y1="459.75" x2="510" y2="569.9" stroke="#fff" stroke-width=".5" stroke-opacity=".55"/>
<line x1="513.5" y1="459.75" x2="513.5" y2="569.9" stroke="#fff" stroke-width=".5" stroke-opacity=".55"/>
<rect x="408.1" y="487.1" width="2.8" height="2.8" fill="#f01020"/>
<path d="M409.5 514.8l1.2 2.1h-2.4z" fill="#f01020"/>
<path d="M408.3 524h2.4M409.5 522.8v2.4" stroke="#f01020" stroke-width=".6"/>
<path d="M409.5 526.55l1.2 2.1h-2.4z" fill="#1414b4"/>
<rect x="408.5" y="531" width="2" height="2" fill="#1414b4"/>
<path d="M408.3 539.5h2.4M409.5 538.3v2.4" stroke="#9a9ae0" stroke-width=".6"/>
<rect x="408.5" y="541.75" width="2" height="2" fill="#101050"/>
<rect x="408.5" y="543" width="2" height="2" fill="#101050"/>
<path d="M409.5 551.55l1.2 2.1h-2.4z" fill="#22e03c"/>
<rect x="408.5" y="555" width="2" height="2" fill="#22e03c"/>
<rect x="408.5" y="559.25" width="2" height="2" fill="#22e03c"/>
<path d="M409.5 560.8l1.2 2.1h-2.4z" fill="#22e03c"/>
<path d="M408.3 565.25h2.4M409.5 564.05v2.4" stroke="#a8eeb0" stroke-width=".6"/>
<rect x="421.5" y="472.5" width="2" height="2" fill="#f01020"/>
<rect x="421.5" y="506.25" width="2" height="2" fill="#f01020"/>
<path d="M422.5 516.05l1.2 2.1h-2.4z" fill="#101050"/>
<rect x="421.5" y="534.75" width="2" height="2" fill="#101050"/>
<path d="M421.3 538.5h2.4M422.5 537.3v2.4" stroke="#a8eeb0" stroke-width=".6"/>
<path d="M421.3 554h2.4M422.5 552.8v2.4" stroke="#a8eeb0" stroke-width=".6"/>
<rect x="434.5" y="462.5" width="2" height="2" fill="#f01020"/>
<rect x="434.5" y="489.25" width="2" height="2" fill="#8a7a20"/>
<path d="M435.5 490.3l1.2 2.1h-2.4z" fill="#f01020"/>
<rect x="434.5" y="500" width="2" height="2" fill="#101050"/>
<path d="M435.5 505.3l1.2 2.1h-2.4z" fill="#101050"/>
<path d="M435.5 509.55l1.2 2.1h-2.4z" fill="#1414b4"/>
<path d="M434.3 518.5h2.4M435.5 517.3v2.4" stroke="#a8eeb0" stroke-width=".6"/>
<rect x="434.5" y="524.25" width="2" height="2" fill="#22e03c"/>
<rect x="447.35" y="511.35" width="2.8" height="2.8" fill="#f01020"/>
<rect x="447.75" y="519.25" width="2" height="2" fill="#101050"/>
<rect x="447.75" y="523.5" width="2" height="2" fill="#101050"/>
<rect x="447.75" y="529.25" width="2" height="2" fill="#22e03c"/>
<rect x="447.75" y="531" width="2" height="2" fill="#22e03c"/>
<path d="M461.75 519.55l1.2 2.1h-2.4z" fill="#f01020"/>
<rect x="460.75" y="528.5" width="2" height="2" fill="#f01020"/>
<path d="M460.55 537.75h2.4M461.75 536.55v2.4" stroke="#a8eeb0" stroke-width=".6"/>
<rect x="460.75" y="543" width="2" height="2" fill="#101050"/>
<path d="M461.75 545.3l1.2 2.1h-2.4z" fill="#1414b4"/>
<rect x="460.75" y="550.5" width="2" height="2" fill="#1a6a3a"/>
<rect x="474" y="541" width="2" height="2" fill="#f01020"/>
<path d="M475 544.05l1.2 2.1h-2.4z" fill="#101050"/>
<rect x="474" y="550" width="2" height="2" fill="#22e03c"/>
<rect x="474" y="555" width="2" height="2" fill="#101050"/>
<rect x="474" y="556.75" width="2" height="2" fill="#1414b4"/>
<path d="M473.8 560.25h2.4M475 559.05v2.4" stroke="#9a9ae0" stroke-width=".6"/>
<path d="M488 539.05l1.2 2.1h-2.4z" fill="#8a7a20"/>
<rect x="487" y="545.5" width="2" height="2" fill="#22e03c"/>
<rect x="487" y="547.25" width="2" height="2" fill="#22e03c"/>
<rect x="487" y="552.5" width="2" height="2" fill="#101050"/>
<path d="M486.8 556.5h2.4M488 555.3v2.4" stroke="#9a9ae0" stroke-width=".6"/>
<path d="M486.8 559h2.4M488 557.8v2.4" stroke="#f01020" stroke-width=".6"/>
<path d="M500.5 533.3l1.2 2.1h-2.4z" fill="#f01020"/>
<rect x="499.5" y="539.25" width="2" height="2" fill="#f01020"/>
<path d="M500.5 542.8l1.2 2.1h-2.4z" fill="#22e03c"/>
<rect x="499.5" y="549.75" width="2" height="2" fill="#101050"/>
<rect x="499.5" y="552.25" width="2" height="2" fill="#1414b4"/>
<path d="M500.5 555.3l1.2 2.1h-2.4z" fill="#1414b4"/>
<path d="M510 532.8l1.2 2.1h-2.4z" fill="#f01020"/>
<rect x="509" y="539.25" width="2" height="2" fill="#8a7a20"/>
<path d="M510 541.55l1.2 2.1h-2.4z" fill="#22e03c"/>
<rect x="509" y="549.25" width="2" height="2" fill="#101050"/>
<rect x="509" y="551.75" width="2" height="2" fill="#1414b4"/>
<path d="M510 554.05l1.2 2.1h-2.4z" fill="#f01020"/>
<rect x="512.5" y="532.25" width="2" height="2" fill="#22e03c"/>
<rect x="512.1" y="538.1" width="2.8" height="2.8" fill="#f01020"/>
<rect x="512.5" y="546" width="2" height="2" fill="#22e03c"/>
<rect x="512.5" y="547.25" width="2" height="2" fill="#22e03c"/>
<path d="M513.5 554.05l1.2 2.1h-2.4z" fill="#101050"/>
<path d="M512.3 558.5h2.4M513.5 557.3v2.4" stroke="#f01020" stroke-width=".6"/>
<text transform="translate(409.05 577.2) rotate(-48)" font-size="4.3" fill="#222" text-anchor="end" font-weight="bold">0</text>
<text transform="translate(425.3 577.2) rotate(-48)" font-size="4.3" fill="#222" text-anchor="end" font-weight="bold">0.03</text>
<text transform="translate(438.3 577.2) rotate(-48)" font-size="4.3" fill="#222" text-anchor="end" font-weight="bold">0.28</text>
<text transform="translate(451.55 577.2) rotate(-48)" font-size="4.3" fill="#222" text-anchor="end" font-weight="bold">3.09</text>
<text transform="translate(464.55 577.2) rotate(-48)" font-size="4.3" fill="#222" text-anchor="end" font-weight="bold">35.09</text>
<text transform="translate(477.3 577.2) rotate(-48)" font-size="4.3" fill="#222" text-anchor="end" font-weight="bold">389</text>
<text transform="translate(490.3 577.2) rotate(-48)" font-size="4.3" fill="#222" text-anchor="end" font-weight="bold">2,092</text>
<text transform="translate(503.3 577.2) rotate(-48)" font-size="4.3" fill="#222" text-anchor="end" font-weight="bold">3,450</text>
<text transform="translate(509.8 577.2) rotate(-48)" font-size="4.3" fill="#222" text-anchor="end" font-weight="bold">3,540</text>
<text transform="translate(516.05 577.2) rotate(-48)" font-size="4.3" fill="#222" text-anchor="end" font-weight="bold">3,645</text>
<path d="M402.5 592.25H500.75" stroke="#000" stroke-width="2.5" fill="none"/>
<path d="M504.25 592.25L499.25 589L499.25 595.5Z" fill="#000"/>
<text x="445" y="601.1" font-size="4.8" fill="#222" text-anchor="middle" textLength="46" lengthAdjust="spacingAndGlyphs">Ag density (sites/cell)</text>
<text x=".6" y="648.5" font-size="16" fill="#000" font-weight="bold">J</text>
<text x="51.75" y="659.5" font-size="11.2" fill="#000" font-weight="bold" textLength="82" lengthAdjust="spacingAndGlyphs">Triple negative</text>
<text x="190" y="663.8" font-size="16" fill="#000" font-weight="bold">K</text>
<path d="M20.6 787.75V662.03" stroke="#000" stroke-width="3.5" fill="none"/>
<path d="M20.6 656.5L16.5 664.4L24.7 664.4Z" fill="#000"/>
<text transform="translate(12.2 731) rotate(-90)" font-size="8" fill="#000" text-anchor="middle" textLength="80" lengthAdjust="spacingAndGlyphs">Ag density (sites/cell)</text>
<text x="50" y="671.15" font-size="5.5" fill="#222" text-anchor="end">3,645</text>
<text x="50" y="683.17" font-size="5.5" fill="#222" text-anchor="end">3,540</text>
<text x="50" y="695.19" font-size="5.5" fill="#222" text-anchor="end">3,450</text>
<text x="50" y="707.21" font-size="5.5" fill="#222" text-anchor="end">2,092</text>
<text x="50" y="719.23" font-size="5.5" fill="#222" text-anchor="end">389</text>
<text x="50" y="731.25" font-size="5.5" fill="#222" text-anchor="end">35.1</text>
<text x="50" y="743.27" font-size="5.5" fill="#222" text-anchor="end">3.09</text>
<text x="50" y="755.29" font-size="5.5" fill="#222" text-anchor="end">0.28</text>
<text x="50" y="767.31" font-size="5.5" fill="#222" text-anchor="end">0.03</text>
<text x="50" y="779.33" font-size="5.5" fill="#222" text-anchor="end">0</text>
<text x="50" y="791.35" font-size="5.5" fill="#222" text-anchor="end">MART1</text>
<rect x="56.8" y="666.7" width="3.2" height="122.8" fill="url(#g238)"/>
<rect x="60" y="666.7" width="3" height="122.8" fill="url(#g239)"/>
<rect x="63" y="666.7" width="3" height="122.8" fill="url(#g240)"/>
<rect x="66" y="666.7" width="3" height="122.8" fill="url(#g241)"/>
<rect x="69" y="666.7" width="3" height="122.8" fill="url(#g242)"/>
<rect x="72" y="666.7" width="3" height="122.8" fill="url(#g243)"/>
<rect x="75" y="666.7" width="3" height="122.8" fill="url(#g244)"/>
<rect x="78" y="666.7" width="3" height="122.8" fill="url(#g245)"/>
<rect x="81" y="666.7" width="3" height="122.8" fill="url(#g246)"/>
<rect x="84" y="666.7" width="3" height="122.8" fill="url(#g247)"/>
<rect x="87" y="666.7" width="3" height="122.8" fill="url(#g248)"/>
<line x1="57.6" y1="678.4" x2="88.2" y2="678.4" stroke="#f1ebf9" stroke-width=".9" stroke-opacity=".8"/>
<line x1="57.6" y1="690.7" x2="88.2" y2="690.7" stroke="#f1ebf9" stroke-width=".9" stroke-opacity=".8"/>
<line x1="57.6" y1="703" x2="88.2" y2="703" stroke="#f1ebf9" stroke-width=".9" stroke-opacity=".8"/>
<line x1="57.6" y1="715.3" x2="88.2" y2="715.3" stroke="#f1ebf9" stroke-width=".9" stroke-opacity=".8"/>
<line x1="57.6" y1="727.6" x2="88.2" y2="727.6" stroke="#f1ebf9" stroke-width=".9" stroke-opacity=".8"/>
<line x1="57.6" y1="739.9" x2="88.2" y2="739.9" stroke="#f1ebf9" stroke-width=".9" stroke-opacity=".8"/>
<line x1="57.6" y1="752.2" x2="88.2" y2="752.2" stroke="#f1ebf9" stroke-width=".9" stroke-opacity=".8"/>
<line x1="57.6" y1="764.5" x2="88.2" y2="764.5" stroke="#f1ebf9" stroke-width=".9" stroke-opacity=".8"/>
<line x1="57.6" y1="776.8" x2="88.2" y2="776.8" stroke="#f1ebf9" stroke-width=".9" stroke-opacity=".8"/>
<line x1="57.2" y1="666.7" x2="57.2" y2="789.5" stroke="#208a6a" stroke-width=".8" stroke-opacity=".55"/>
<rect x="73.2" y="666.7" width=".8" height="124.4" fill="url(#g249)" fill-opacity=".5"/>
<line x1="89.6" y1="666.7" x2="89.6" y2="789.5" stroke="#c01838" stroke-width=".8" stroke-opacity=".5"/>
<line x1="56.8" y1="667" x2="90" y2="667" stroke="#206060" stroke-width=".6" stroke-opacity=".4"/>
<text transform="translate(61.25 798.6)  rotate(-46) scale(.88 1)" font-size="5.6" text-anchor="end" fill="#3fb58a" stroke="#3fb58a" stroke-width=".25">Low</text>
<text transform="translate(76.52 798.6)  rotate(-46) scale(.88 1)" font-size="5.6" text-anchor="end" fill="#3d9fdc" stroke="#3d9fdc" stroke-width=".25">Med</text>
<text transform="translate(91.79 798.6)  rotate(-46) scale(.88 1)" font-size="5.6" text-anchor="end" fill="#e8343c" stroke="#e8343c" stroke-width=".25">High</text>
<rect x="104" y="666.7" width="3" height="122.8" fill="url(#g250)"/>
<rect x="107" y="666.7" width="3" height="122.8" fill="url(#g251)"/>
<rect x="110" y="666.7" width="3" height="122.8" fill="url(#g252)"/>
<rect x="113" y="666.7" width="3" height="122.8" fill="url(#g253)"/>
<rect x="116" y="666.7" width="4" height="122.8" fill="url(#g254)"/>
<rect x="120" y="666.7" width="3" height="122.8" fill="url(#g255)"/>
<rect x="123" y="666.7" width="3" height="122.8" fill="url(#g256)"/>
<rect x="126" y="666.7" width="3" height="122.8" fill="url(#g257)"/>
<rect x="129" y="666.7" width="3" height="122.8" fill="url(#g258)"/>
<rect x="132" y="666.7" width="3" height="122.8" fill="url(#g259)"/>
<rect x="135" y="666.7" width="3.3" height="122.8" fill="url(#g260)"/>
<line x1="104.8" y1="678.4" x2="136.5" y2="678.4" stroke="#f1ebf9" stroke-width=".9" stroke-opacity=".8"/>
<line x1="104.8" y1="690.7" x2="136.5" y2="690.7" stroke="#f1ebf9" stroke-width=".9" stroke-opacity=".8"/>
<line x1="104.8" y1="703" x2="136.5" y2="703" stroke="#f1ebf9" stroke-width=".9" stroke-opacity=".8"/>
<line x1="104.8" y1="715.3" x2="136.5" y2="715.3" stroke="#f1ebf9" stroke-width=".9" stroke-opacity=".8"/>
<line x1="104.8" y1="727.6" x2="136.5" y2="727.6" stroke="#f1ebf9" stroke-width=".9" stroke-opacity=".8"/>
<line x1="104.8" y1="739.9" x2="136.5" y2="739.9" stroke="#f1ebf9" stroke-width=".9" stroke-opacity=".8"/>
<line x1="104.8" y1="752.2" x2="136.5" y2="752.2" stroke="#f1ebf9" stroke-width=".9" stroke-opacity=".8"/>
<line x1="104.8" y1="764.5" x2="136.5" y2="764.5" stroke="#f1ebf9" stroke-width=".9" stroke-opacity=".8"/>
<line x1="104.8" y1="776.8" x2="136.5" y2="776.8" stroke="#f1ebf9" stroke-width=".9" stroke-opacity=".8"/>
<line x1="104.4" y1="666.7" x2="104.4" y2="789.5" stroke="#208a6a" stroke-width=".8" stroke-opacity=".55"/>
<rect x="120.95" y="666.7" width=".8" height="124.4" fill="url(#g261)" fill-opacity=".5"/>
<line x1="137.9" y1="666.7" x2="137.9" y2="789.5" stroke="#c01838" stroke-width=".8" stroke-opacity=".5"/>
<line x1="104" y1="667" x2="138.3" y2="667" stroke="#206060" stroke-width=".6" stroke-opacity=".4"/>
<text transform="translate(107.06 798.6)  rotate(-46) scale(.88 1)" font-size="5.6" text-anchor="end" fill="#3fb58a" stroke="#3fb58a" stroke-width=".25">Low</text>
<text transform="translate(122.33 798.6)  rotate(-46) scale(.88 1)" font-size="5.6" text-anchor="end" fill="#3d9fdc" stroke="#3d9fdc" stroke-width=".25">Med</text>
<text transform="translate(137.6 798.6)  rotate(-46) scale(.88 1)" font-size="5.6" text-anchor="end" fill="#e8343c" stroke="#e8343c" stroke-width=".25">High</text>
<rect x="151.8" y="666.7" width="3.2" height="122.8" fill="url(#g262)"/>
<rect x="155" y="666.7" width="3" height="122.8" fill="url(#g263)"/>
<rect x="158" y="666.7" width="3" height="122.8" fill="url(#g264)"/>
<rect x="161" y="666.7" width="3" height="122.8" fill="url(#g265)"/>
<rect x="164" y="666.7" width="3" height="122.8" fill="url(#g266)"/>
<rect x="167" y="666.7" width="3" height="122.8" fill="url(#g267)"/>
<rect x="170" y="666.7" width="3" height="122.8" fill="url(#g268)"/>
<rect x="173" y="666.7" width="3" height="122.8" fill="url(#g269)"/>
<rect x="176" y="666.7" width="3" height="122.8" fill="url(#g270)"/>
<rect x="179" y="666.7" width="3.3" height="122.8" fill="url(#g271)"/>
<line x1="152.6" y1="678.4" x2="180.5" y2="678.4" stroke="#f1ebf9" stroke-width=".9" stroke-opacity=".8"/>
<line x1="152.6" y1="690.7" x2="180.5" y2="690.7" stroke="#f1ebf9" stroke-width=".9" stroke-opacity=".8"/>
<line x1="152.6" y1="703" x2="180.5" y2="703" stroke="#f1ebf9" stroke-width=".9" stroke-opacity=".8"/>
<line x1="152.6" y1="715.3" x2="180.5" y2="715.3" stroke="#f1ebf9" stroke-width=".9" stroke-opacity=".8"/>
<line x1="152.6" y1="727.6" x2="180.5" y2="727.6" stroke="#f1ebf9" stroke-width=".9" stroke-opacity=".8"/>
<line x1="152.6" y1="739.9" x2="180.5" y2="739.9" stroke="#f1ebf9" stroke-width=".9" stroke-opacity=".8"/>
<line x1="152.6" y1="752.2" x2="180.5" y2="752.2" stroke="#f1ebf9" stroke-width=".9" stroke-opacity=".8"/>
<line x1="152.6" y1="764.5" x2="180.5" y2="764.5" stroke="#f1ebf9" stroke-width=".9" stroke-opacity=".8"/>
<line x1="152.6" y1="776.8" x2="180.5" y2="776.8" stroke="#f1ebf9" stroke-width=".9" stroke-opacity=".8"/>
<line x1="152.2" y1="666.7" x2="152.2" y2="789.5" stroke="#208a6a" stroke-width=".8" stroke-opacity=".55"/>
<rect x="166.85" y="666.7" width=".8" height="124.4" fill="url(#g272)" fill-opacity=".5"/>
<line x1="181.9" y1="666.7" x2="181.9" y2="789.5" stroke="#c01838" stroke-width=".8" stroke-opacity=".5"/>
<line x1="151.8" y1="667" x2="182.3" y2="667" stroke="#206060" stroke-width=".6" stroke-opacity=".4"/>
<text transform="translate(152.87 798.6)  rotate(-46) scale(.88 1)" font-size="5.6" text-anchor="end" fill="#3fb58a" stroke="#3fb58a" stroke-width=".25">Low</text>
<text transform="translate(168.14 798.6)  rotate(-46) scale(.88 1)" font-size="5.6" text-anchor="end" fill="#3d9fdc" stroke="#3d9fdc" stroke-width=".25">Med</text>
<text transform="translate(183.41 798.6)  rotate(-46) scale(.88 1)" font-size="5.6" text-anchor="end" fill="#e8343c" stroke="#e8343c" stroke-width=".25">High</text>
<line x1="57" y1="808.5" x2="82.5" y2="808.5" stroke="#000" stroke-width="1.4"/>
<text x="57" y="816.8" font-size="6.8" fill="#000" textLength="28" lengthAdjust="spacingAndGlyphs">434 nmol/L</text>
<line x1="105.5" y1="808.5" x2="131.25" y2="808.5" stroke="#000" stroke-width="1.4"/>
<text x="105.8" y="816.8" font-size="6.8" fill="#000" textLength="23.8" lengthAdjust="spacingAndGlyphs">35 nmol/L</text>
<line x1="147.5" y1="808.5" x2="173.75" y2="808.5" stroke="#000" stroke-width="1.4"/>
<text x="149.8" y="816.8" font-size="6.8" fill="#000" textLength="22" lengthAdjust="spacingAndGlyphs">4 nmol/L</text>
<path d="M57 826.75H147.47" stroke="#000" stroke-width="2.3" fill="none"/>
<path d="M151.25 826.75L145.85 823.35L145.85 830.15Z" fill="#000"/>
<text x="57.3" y="835.35" font-size="6.8" fill="#000" textLength="53" lengthAdjust="spacingAndGlyphs">Affinity/expression</text>
<rect x="202.6" y="665.5" width="3.4" height="124.1" fill="url(#g273)"/>
<rect x="206" y="665.5" width="3" height="124.1" fill="url(#g274)"/>
<rect x="209" y="665.5" width="3" height="124.1" fill="url(#g275)"/>
<rect x="212" y="665.5" width="3" height="124.1" fill="url(#g276)"/>
<rect x="215" y="665.5" width="3" height="124.1" fill="url(#g277)"/>
<rect x="218" y="665.5" width="3" height="124.1" fill="url(#g278)"/>
<rect x="221" y="665.5" width="3" height="124.1" fill="url(#g279)"/>
<rect x="224" y="665.5" width="3" height="124.1" fill="url(#g280)"/>
<rect x="227" y="665.5" width="3" height="124.1" fill="url(#g281)"/>
<rect x="230" y="665.5" width="3" height="124.1" fill="url(#g282)"/>
<rect x="233" y="665.5" width="3" height="124.1" fill="url(#g283)"/>
<rect x="236" y="665.5" width="3" height="124.1" fill="url(#g284)"/>
<rect x="239" y="665.5" width="3" height="124.1" fill="url(#g285)"/>
<rect x="242" y="665.5" width="3" height="124.1" fill="url(#g286)"/>
<rect x="245" y="665.5" width="3" height="124.1" fill="url(#g287)"/>
<rect x="248" y="665.5" width="3" height="124.1" fill="url(#g288)"/>
<rect x="251" y="665.5" width="3" height="124.1" fill="url(#g289)"/>
<rect x="254" y="665.5" width="3" height="124.1" fill="url(#g290)"/>
<rect x="257" y="665.5" width="3" height="124.1" fill="url(#g291)"/>
<rect x="260" y="665.5" width="3" height="124.1" fill="url(#g292)"/>
<rect x="263" y="665.5" width="3" height="124.1" fill="url(#g293)"/>
<rect x="266" y="665.5" width="3" height="124.1" fill="url(#g294)"/>
<rect x="269" y="665.5" width="3" height="124.1" fill="url(#g295)"/>
<rect x="272" y="665.5" width="3" height="124.1" fill="url(#g296)"/>
<rect x="275" y="665.5" width="3" height="124.1" fill="url(#g297)"/>
<rect x="278" y="665.5" width="3" height="124.1" fill="url(#g298)"/>
<rect x="281" y="665.5" width="3" height="124.1" fill="url(#g299)"/>
<rect x="284" y="665.5" width="3" height="124.1" fill="url(#g300)"/>
<rect x="287" y="665.5" width="3" height="124.1" fill="url(#g301)"/>
<rect x="290" y="665.5" width="3" height="124.1" fill="url(#g302)"/>
<rect x="293" y="665.5" width="3" height="124.1" fill="url(#g303)"/>
<rect x="296" y="665.5" width="3" height="124.1" fill="url(#g304)"/>
<rect x="299" y="665.5" width="3" height="124.1" fill="url(#g305)"/>
<rect x="302" y="665.5" width="3" height="124.1" fill="url(#g306)"/>
<rect x="305" y="665.5" width="3" height="124.1" fill="url(#g307)"/>
<rect x="308" y="665.5" width="3" height="124.1" fill="url(#g308)"/>
<rect x="311" y="665.5" width="3" height="124.1" fill="url(#g309)"/>
<rect x="314" y="665.5" width="3" height="124.1" fill="url(#g310)"/>
<rect x="317" y="665.5" width="3.2" height="124.1" fill="url(#g311)"/>
<line x1="203.6" y1="678.1" x2="317.7" y2="678.1" stroke="#f1ebf9" stroke-width=".9" stroke-opacity=".8"/>
<line x1="203.6" y1="690.4" x2="317.7" y2="690.4" stroke="#f1ebf9" stroke-width=".9" stroke-opacity=".8"/>
<line x1="203.6" y1="702.7" x2="317.7" y2="702.7" stroke="#f1ebf9" stroke-width=".9" stroke-opacity=".8"/>
<line x1="203.6" y1="715" x2="317.7" y2="715" stroke="#f1ebf9" stroke-width=".9" stroke-opacity=".8"/>
<line x1="203.6" y1="727.3" x2="317.7" y2="727.3" stroke="#f1ebf9" stroke-width=".9" stroke-opacity=".8"/>
<line x1="203.6" y1="739.6" x2="317.7" y2="739.6" stroke="#f1ebf9" stroke-width=".9" stroke-opacity=".8"/>
<line x1="203.6" y1="751.9" x2="317.7" y2="751.9" stroke="#f1ebf9" stroke-width=".9" stroke-opacity=".8"/>
<line x1="203.6" y1="764.2" x2="317.7" y2="764.2" stroke="#f1ebf9" stroke-width=".9" stroke-opacity=".8"/>
<line x1="203.6" y1="776.5" x2="317.7" y2="776.5" stroke="#f1ebf9" stroke-width=".9" stroke-opacity=".8"/>
<line x1="203" y1="665.5" x2="203" y2="791.1" stroke="#a8e6dc" stroke-width=".7" stroke-opacity=".6"/>
<line x1="218" y1="665.5" x2="218" y2="791.1" stroke="#a8e6dc" stroke-width=".7" stroke-opacity=".6"/>
<line x1="233.5" y1="665.5" x2="233.5" y2="791.1" stroke="#a8e6dc" stroke-width=".7" stroke-opacity=".6"/>
<rect x="246.9" y="665.5" width=".7" height="125.6" fill="url(#g312)" fill-opacity=".6"/>
<rect x="260.65" y="665.5" width=".7" height="125.6" fill="url(#g313)" fill-opacity=".6"/>
<rect x="275.65" y="665.5" width=".7" height="125.6" fill="url(#g314)" fill-opacity=".6"/>
<line x1="290.5" y1="665.5" x2="290.5" y2="791.1" stroke="#e6b4d4" stroke-width=".7" stroke-opacity=".6"/>
<line x1="306" y1="665.5" x2="306" y2="791.1" stroke="#e6b4d4" stroke-width=".7" stroke-opacity=".6"/>
<text transform="translate(204.8 795) rotate(-54) scale(.9 1)" font-size="6" text-anchor="end" fill="#1a1a1a" stroke="#1a1a1a" stroke-width=".12">434 nmol/L-<tspan fill="#3fb58a" stroke="#3fb58a">Low</tspan></text>
<text transform="translate(217.2 795) rotate(-54) scale(.9 1)" font-size="6" text-anchor="end" fill="#1a1a1a" stroke="#1a1a1a" stroke-width=".12">4 nmol/L-<tspan fill="#3fb58a" stroke="#3fb58a">Low</tspan></text>
<text transform="translate(232.5 795) rotate(-54) scale(.9 1)" font-size="6" text-anchor="end" fill="#1a1a1a" stroke="#1a1a1a" stroke-width=".12">35 nmol/L-<tspan fill="#3fb58a" stroke="#3fb58a">Low</tspan></text>
<text transform="translate(247.9 795) rotate(-54) scale(.9 1)" font-size="6" text-anchor="end" fill="#1a1a1a" stroke="#1a1a1a" stroke-width=".12">434 nmol/L-<tspan fill="#3d9fdc" stroke="#3d9fdc">Med</tspan></text>
<text transform="translate(262.1 795) rotate(-54) scale(.9 1)" font-size="6" text-anchor="end" fill="#1a1a1a" stroke="#1a1a1a" stroke-width=".12">35 nmol/L-<tspan fill="#3d9fdc" stroke="#3d9fdc">Med</tspan></text>
<text transform="translate(275.9 795) rotate(-54) scale(.9 1)" font-size="6" text-anchor="end" fill="#1a1a1a" stroke="#1a1a1a" stroke-width=".12">4 nmol/L-<tspan fill="#3d9fdc" stroke="#3d9fdc">Med</tspan></text>
<text transform="translate(291.3 795) rotate(-54) scale(.9 1)" font-size="6" text-anchor="end" fill="#1a1a1a" stroke="#1a1a1a" stroke-width=".12">35 nmol/L-<tspan fill="#e8343c" stroke="#e8343c">High</tspan></text>
<text transform="translate(305.8 795) rotate(-54) scale(.9 1)" font-size="6" text-anchor="end" fill="#1a1a1a" stroke="#1a1a1a" stroke-width=".12">434 nmol/L-<tspan fill="#e8343c" stroke="#e8343c">High</tspan></text>
<text transform="translate(318.7 795) rotate(-54) scale(.9 1)" font-size="6" text-anchor="end" fill="#1a1a1a" stroke="#1a1a1a" stroke-width=".12">4 nmol/L-<tspan fill="#e8343c" stroke="#e8343c">High</tspan></text>
<path d="M202.6 833.5H295.22" stroke="#000" stroke-width="2.3" fill="none"/>
<path d="M299 833.5L293.6 830.1L293.6 836.9Z" fill="#000"/>
<text x="204.6" y="841.9" font-size="7" fill="#000" textLength="19.4" lengthAdjust="spacingAndGlyphs">Avidity</text>
<rect x="333" y="682.25" width="5.75" height="95.75" fill="url(#g315)"/>
<text x="340.95" y="701.15" font-size="8.8" fill="#222">80</text>
<text x="340.95" y="723.4" font-size="8.8" fill="#222">60</text>
<text x="340.95" y="745.4" font-size="8.8" fill="#222">40</text>
<text x="340.95" y="766.65" font-size="8.8" fill="#222">20</text>
<text x="372.8" y="654" font-size="16" fill="#000" font-weight="bold">L</text>
<text transform="translate(379.7 730.75) rotate(-90)" font-size="13.4" fill="#000" text-anchor="middle" textLength="45.5" lengthAdjust="spacingAndGlyphs">Percent</text>
<path d="M387.5 776V695.47" stroke="#000" stroke-width="2.4" fill="none"/>
<path d="M387.5 692.25L385.1 696.85L389.9 696.85Z" fill="#000"/>
<text x="402.8" y="698.4" font-size="8.8" fill="#222" text-anchor="end">75</text>
<text x="402.8" y="726.65" font-size="8.8" fill="#222" text-anchor="end">50</text>
<text x="402.8" y="755.9" font-size="8.8" fill="#222" text-anchor="end">25</text>
<rect x="404.8" y="666.5" width="113.2" height="111.5" fill="#ebebeb"/>
<line x1="404.8" y1="695.25" x2="518" y2="695.25" stroke="#fff" stroke-width=".5" stroke-opacity=".6"/>
<line x1="404.8" y1="723.5" x2="518" y2="723.5" stroke="#fff" stroke-width=".5" stroke-opacity=".6"/>
<line x1="404.8" y1="752.75" x2="518" y2="752.75" stroke="#fff" stroke-width=".5" stroke-opacity=".6"/>
<line x1="404.8" y1="681" x2="518" y2="681" stroke="#fff" stroke-width=".3" stroke-opacity=".45"/>
<line x1="404.8" y1="709.4" x2="518" y2="709.4" stroke="#fff" stroke-width=".3" stroke-opacity=".45"/>
<line x1="404.8" y1="738.1" x2="518" y2="738.1" stroke="#fff" stroke-width=".3" stroke-opacity=".45"/>
<line x1="404.8" y1="767" x2="518" y2="767" stroke="#fff" stroke-width=".3" stroke-opacity=".45"/>
<line x1="410.5" y1="666.5" x2="410.5" y2="778" stroke="#fff" stroke-width=".5" stroke-opacity=".55"/>
<line x1="423" y1="666.5" x2="423" y2="778" stroke="#fff" stroke-width=".5" stroke-opacity=".55"/>
<line x1="435.75" y1="666.5" x2="435.75" y2="778" stroke="#fff" stroke-width=".5" stroke-opacity=".55"/>
<line x1="449.25" y1="666.5" x2="449.25" y2="778" stroke="#fff" stroke-width=".5" stroke-opacity=".55"/>
<line x1="462.5" y1="666.5" x2="462.5" y2="778" stroke="#fff" stroke-width=".5" stroke-opacity=".55"/>
<line x1="475" y1="666.5" x2="475" y2="778" stroke="#fff" stroke-width=".5" stroke-opacity=".55"/>
<line x1="488.25" y1="666.5" x2="488.25" y2="778" stroke="#fff" stroke-width=".5" stroke-opacity=".55"/>
<line x1="500.75" y1="666.5" x2="500.75" y2="778" stroke="#fff" stroke-width=".5" stroke-opacity=".55"/>
<line x1="510" y1="666.5" x2="510" y2="778" stroke="#fff" stroke-width=".5" stroke-opacity=".55"/>
<line x1="513.75" y1="666.5" x2="513.75" y2="778" stroke="#fff" stroke-width=".5" stroke-opacity=".55"/>
<rect x="409.5" y="671.25" width="2" height="2" fill="#22e03c"/>
<rect x="409.5" y="673" width="2" height="2" fill="#22e03c"/>
<rect x="409.5" y="675" width="2" height="2" fill="#1a6a3a"/>
<rect x="409.5" y="678" width="2" height="2" fill="#101050"/>
<rect x="409.5" y="686.25" width="2" height="2" fill="#101050"/>
<path d="M410.5 687.3l1.2 2.1h-2.4z" fill="#1414b4"/>
<path d="M410.5 691.8l1.2 2.1h-2.4z" fill="#f01020"/>
<path d="M409.3 697.25h2.4M410.5 696.05v2.4" stroke="#f7a0a8" stroke-width=".6"/>
<rect x="409.1" y="702.85" width="2.8" height="2.8" fill="#f01020"/>
<rect x="422" y="675.75" width="2" height="2" fill="#22e03c"/>
<rect x="422" y="681.25" width="2" height="2" fill="#1a6a3a"/>
<rect x="422" y="683.25" width="2" height="2" fill="#101050"/>
<rect x="422" y="695.75" width="2" height="2" fill="#101050"/>
<path d="M423 698.05l1.2 2.1h-2.4z" fill="#f01020"/>
<path d="M421.8 704.75h2.4M423 703.55v2.4" stroke="#f7a0a8" stroke-width=".6"/>
<rect x="422" y="710.75" width="2" height="2" fill="#f01020"/>
<path d="M434.55 695.25h2.4M435.75 694.05v2.4" stroke="#9a9ae0" stroke-width=".6"/>
<path d="M435.75 713.55l1.2 2.1h-2.4z" fill="#22e03c"/>
<rect x="434.75" y="719.25" width="2" height="2" fill="#1a6a3a"/>
<rect x="434.75" y="728" width="2" height="2" fill="#f01020"/>
<rect x="434.75" y="736.25" width="2" height="2" fill="#101050"/>
<rect x="434.75" y="742" width="2" height="2" fill="#f01020"/>
<path d="M448.05 724h2.4M449.25 722.8v2.4" stroke="#a8eeb0" stroke-width=".6"/>
<path d="M449.25 744.8l1.2 2.1h-2.4z" fill="#22e03c"/>
<rect x="448.25" y="751.75" width="2" height="2" fill="#1a6a3a"/>
<rect x="448.25" y="753.75" width="2" height="2" fill="#1a6a3a"/>
<rect x="448.25" y="757.5" width="2" height="2" fill="#101050"/>
<rect x="448.25" y="761.25" width="2" height="2" fill="#f01020"/>
<rect x="461.5" y="755" width="2" height="2" fill="#22e03c"/>
<path d="M462.5 757.3l1.2 2.1h-2.4z" fill="#22e03c"/>
<rect x="461.5" y="762.5" width="2" height="2" fill="#101050"/>
<rect x="461.5" y="765" width="2" height="2" fill="#101050"/>
<rect x="461.5" y="766.25" width="2" height="2" fill="#f01020"/>
<rect x="461.5" y="770" width="2" height="2" fill="#101050"/>
<rect x="474" y="754.5" width="2" height="2" fill="#22e03c"/>
<path d="M475 763.55l1.2 2.1h-2.4z" fill="#8a7a20"/>
<rect x="474" y="765" width="2" height="2" fill="#8a7a20"/>
<rect x="474" y="768.75" width="2" height="2" fill="#101050"/>
<rect x="474" y="771.25" width="2" height="2" fill="#101050"/>
<rect x="474" y="773.25" width="2" height="2" fill="#1414b4"/>
<rect x="487.25" y="755" width="2" height="2" fill="#22e03c"/>
<path d="M488.25 764.8l1.2 2.1h-2.4z" fill="#8a7a20"/>
<rect x="487.25" y="767" width="2" height="2" fill="#22e03c"/>
<rect x="487.25" y="770" width="2" height="2" fill="#101050"/>
<rect x="487.25" y="772" width="2" height="2" fill="#101050"/>
<rect x="487.25" y="773.75" width="2" height="2" fill="#1414b4"/>
<path d="M500.75 756.8l1.2 2.1h-2.4z" fill="#22e03c"/>
<rect x="499.75" y="763.75" width="2" height="2" fill="#101050"/>
<rect x="499.75" y="766.25" width="2" height="2" fill="#101050"/>
<rect x="499.75" y="770" width="2" height="2" fill="#101050"/>
<path d="M510 756.8l1.2 2.1h-2.4z" fill="#22e03c"/>
<rect x="509" y="765" width="2" height="2" fill="#f01020"/>
<rect x="509" y="767.5" width="2" height="2" fill="#101050"/>
<rect x="509" y="769.5" width="2" height="2" fill="#101050"/>
<path d="M508.8 772.25h2.4M510 771.05v2.4" stroke="#9a9ae0" stroke-width=".6"/>
<rect x="512.75" y="755" width="2" height="2" fill="#22e03c"/>
<rect x="512.75" y="759.25" width="2" height="2" fill="#f01020"/>
<rect x="512.75" y="763.75" width="2" height="2" fill="#101050"/>
<rect x="512.75" y="765" width="2" height="2" fill="#1a6a3a"/>
<rect x="512.75" y="768.75" width="2" height="2" fill="#1a6a3a"/>
<path d="M513.75 771.8l1.2 2.1h-2.4z" fill="#f01020"/>
<text transform="translate(409.8 783.1) rotate(-48)" font-size="4.3" fill="#222" text-anchor="end" font-weight="bold">0</text>
<text transform="translate(426.05 783.1) rotate(-48)" font-size="4.3" fill="#222" text-anchor="end" font-weight="bold">0.03</text>
<text transform="translate(439.05 783.1) rotate(-48)" font-size="4.3" fill="#222" text-anchor="end" font-weight="bold">0.28</text>
<text transform="translate(452.05 783.1) rotate(-48)" font-size="4.3" fill="#222" text-anchor="end" font-weight="bold">3.09</text>
<text transform="translate(465.3 783.1) rotate(-48)" font-size="4.3" fill="#222" text-anchor="end" font-weight="bold">35.09</text>
<text transform="translate(477.8 783.1) rotate(-48)" font-size="4.3" fill="#222" text-anchor="end" font-weight="bold">389</text>
<text transform="translate(491.05 783.1) rotate(-48)" font-size="4.3" fill="#222" text-anchor="end" font-weight="bold">2,092</text>
<text transform="translate(504.05 783.1) rotate(-48)" font-size="4.3" fill="#222" text-anchor="end" font-weight="bold">3,450</text>
<text transform="translate(510.3 783.1) rotate(-48)" font-size="4.3" fill="#222" text-anchor="end" font-weight="bold">3,540</text>
<text transform="translate(516.55 783.1) rotate(-48)" font-size="4.3" fill="#222" text-anchor="end" font-weight="bold">3,645</text>
<path d="M402.5 798.5H500.75" stroke="#000" stroke-width="2.5" fill="none"/>
<path d="M504.25 798.5L499.25 795.25L499.25 801.75Z" fill="#000"/>
<text x="445" y="807.1" font-size="4.8" fill="#222" text-anchor="middle" textLength="46" lengthAdjust="spacingAndGlyphs">Ag density (sites/cell)</text>
<path d="M424.2 823.3h7.6M428 819.8v7" stroke="#000" stroke-width=".9"/>
<path d="M428 830.9l3.9 6.2h-7.8z" fill="#000"/>
<rect x="424.1" y="841.8" width="8.2" height="6.2" fill="#000"/>
<text x="440.5" y="825.8" font-size="7.2" fill="#111" stroke="#111" stroke-width=".22" textLength="33" lengthAdjust="spacingAndGlyphs">434 nmol/L</text>
<text x="440.9" y="836.8" font-size="7.2" fill="#111" stroke="#111" stroke-width=".22" textLength="29.5" lengthAdjust="spacingAndGlyphs">35 nmol/L</text>
<text x="441.7" y="847.4" font-size="7.2" fill="#111" stroke="#111" stroke-width=".22" textLength="26.5" lengthAdjust="spacingAndGlyphs">4 nmol/L</text>
<text x="484.3" y="828.8" font-size="8.6" fill="#e8343c" stroke="#e8343c" stroke-width=".2">High</text>
<text x="484.3" y="837.8" font-size="8.6" fill="#3d9fdc" stroke="#3d9fdc" stroke-width=".2">Med</text>
<text x="484.3" y="846.6" font-size="8.6" fill="#3fb58a" stroke="#3fb58a" stroke-width=".2">Low</text></svg></body></html>
